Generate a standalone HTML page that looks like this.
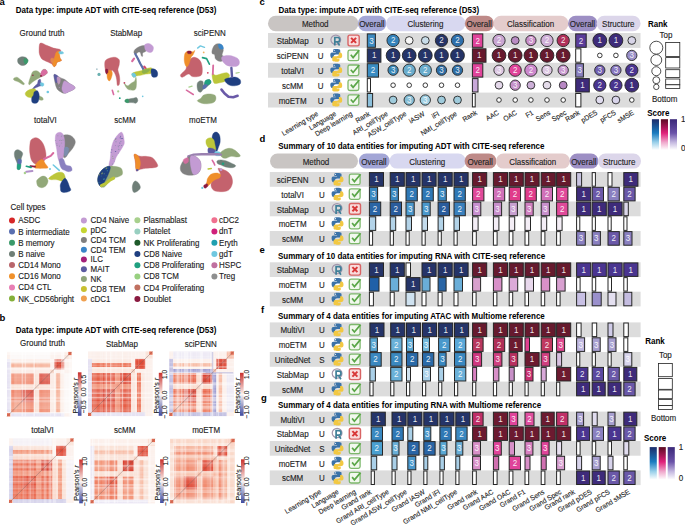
<!DOCTYPE html>
<html><head><meta charset="utf-8"><style>
html,body{margin:0;padding:0;background:#fff;width:685px;height:525px;overflow:hidden}
svg{display:block}
svg text{font-family:"Liberation Sans", sans-serif}
svg text[fill="#1a1a1a"],svg text[fill="#222"]{stroke:#222;stroke-width:0.12px}
</style></head><body>
<svg width="685" height="525" viewBox="0 0 685 525">
<text transform="translate(-0.5,4.8) scale(0.958,1)" font-size="9.92" font-weight="bold" text-anchor="start" fill="#000" >a</text>
<text transform="translate(-0.5,320.9) scale(0.958,1)" font-size="9.92" font-weight="bold" text-anchor="start" fill="#000" >b</text>
<text transform="translate(259.5,4.8) scale(0.958,1)" font-size="9.92" font-weight="bold" text-anchor="start" fill="#000" >c</text>
<text transform="translate(259.5,141.8) scale(0.958,1)" font-size="9.92" font-weight="bold" text-anchor="start" fill="#000" >d</text>
<text transform="translate(259.5,252.5) scale(0.958,1)" font-size="9.92" font-weight="bold" text-anchor="start" fill="#000" >e</text>
<text transform="translate(261.0,313.0) scale(0.958,1)" font-size="9.92" font-weight="bold" text-anchor="start" fill="#000" >f</text>
<text transform="translate(261.0,400.5) scale(0.958,1)" font-size="9.92" font-weight="bold" text-anchor="start" fill="#000" >g</text>
<text transform="translate(15.8,12.9) scale(0.958,1)" font-size="8.35" font-weight="bold" text-anchor="start" fill="#000" >Data type: impute ADT with CITE-seq reference (D53)</text>
<text transform="translate(15.8,333.3) scale(0.958,1)" font-size="8.35" font-weight="bold" text-anchor="start" fill="#000" >Data type: impute ADT with CITE-seq reference (D53)</text>
<text transform="translate(278.5,12.8) scale(0.958,1)" font-size="8.35" font-weight="bold" text-anchor="start" fill="#000" >Data type: impute ADT with CITE-seq reference (D53)</text>
<text transform="translate(278.3,149.0) scale(0.958,1)" font-size="8.35" font-weight="bold" text-anchor="start" fill="#000" >Summary of 10 data entities for imputing ADT with CITE-seq reference</text>
<text transform="translate(278.0,258.7) scale(0.958,1)" font-size="8.35" font-weight="bold" text-anchor="start" fill="#000" >Summary of 10 data entities for imputing RNA with CITE-seq reference</text>
<text transform="translate(278.0,319.2) scale(0.958,1)" font-size="8.35" font-weight="bold" text-anchor="start" fill="#000" >Summary of 4 data entities for imputing ATAC with Multiome reference</text>
<text transform="translate(278.0,407.6) scale(0.958,1)" font-size="8.35" font-weight="bold" text-anchor="start" fill="#000" >Summary of 4 data entities for imputing RNA with Multiome reference</text>
<rect x="268.0" y="33.0" width="372.5" height="14.9" fill="#dcdcdc"/>
<rect x="268.0" y="62.8" width="372.5" height="14.9" fill="#dcdcdc"/>
<rect x="268.0" y="92.6" width="372.5" height="14.9" fill="#dcdcdc"/>
<rect x="268.0" y="15.8" width="90.5" height="15.4" rx="7.7" fill="#c9c5c3"/>
<text transform="translate(315.2,27.0) scale(0.958,1)" font-size="8.35" font-weight="normal" text-anchor="middle" fill="#222" >Method</text>
<rect x="357.8" y="15.8" width="28.7" height="15.4" rx="7.7" fill="#a3a6d6"/>
<text transform="translate(371.8,27.0) scale(0.958,1)" font-size="8.35" font-weight="normal" text-anchor="middle" fill="#222" >Overall</text>
<rect x="386.0" y="15.8" width="79.5" height="15.4" rx="7.7" fill="#d8d8f0"/>
<text transform="translate(425.4,27.0) scale(0.958,1)" font-size="8.35" font-weight="normal" text-anchor="middle" fill="#222" >Clustering</text>
<rect x="464.8" y="15.8" width="29.2" height="15.4" rx="7.7" fill="#be8a88"/>
<text transform="translate(479.1,27.0) scale(0.958,1)" font-size="8.35" font-weight="normal" text-anchor="middle" fill="#222" >Overall</text>
<rect x="493.3" y="15.8" width="75.2" height="15.4" rx="7.7" fill="#e4cccc"/>
<text transform="translate(530.6,27.0) scale(0.958,1)" font-size="8.35" font-weight="normal" text-anchor="middle" fill="#222" >Classification</text>
<rect x="568.0" y="15.8" width="29.5" height="15.4" rx="7.7" fill="#9d8fc4"/>
<text transform="translate(582.5,27.0) scale(0.958,1)" font-size="8.35" font-weight="normal" text-anchor="middle" fill="#222" >Overall</text>
<rect x="596.6" y="15.8" width="44.0" height="15.4" rx="7.7" fill="#dcd6ea"/>
<text transform="translate(618.3,27.0) scale(0.958,1)" font-size="8.35" font-weight="normal" text-anchor="middle" fill="#222" >Structure</text>
<text transform="translate(292.6,44.1) scale(0.958,1)" font-size="8.35" font-weight="normal" text-anchor="middle" fill="#222" >StabMap</text>
<text transform="translate(320.6,44.1) scale(0.958,1)" font-size="8.35" font-weight="normal" text-anchor="middle" fill="#222" >U</text>
<ellipse cx="335.8" cy="39.8" rx="4.9" ry="4.6" fill="none" stroke="#a396ac" stroke-width="1.2"/>
<path d="M334.8 45.5 V37.5 H337.6 C340.4 37.5 340.4 41.9 337.6 41.9 H334.8 M337.4 41.9 L339.6 45.5" fill="none" stroke="#3f7f98" stroke-width="1.7"/>
<rect x="348.0" y="35.1" width="11.2" height="10.8" rx="1.8" fill="#f9dcdc" stroke="#d86464" stroke-width="1.4"/>
<path d="M351.1 37.9 L356.1 42.9 M356.1 37.9 L351.1 42.9" stroke="#d83838" stroke-width="2.0"/>
<text transform="translate(292.6,59.0) scale(0.958,1)" font-size="8.35" font-weight="normal" text-anchor="middle" fill="#222" >sciPENN</text>
<text transform="translate(320.6,59.0) scale(0.958,1)" font-size="8.35" font-weight="normal" text-anchor="middle" fill="#222" >U</text>
<g transform="translate(336.2,55.4) scale(1.12) translate(-5.2,-6)"><path d="M4.6 0.3 C2.2 0.3 2.4 1.4 2.4 1.4 L2.4 3 L4.8 3 L4.8 3.5 L1.5 3.5 C0 3.5 -0.2 5 0 6.5 C0.2 8 0.9 8.6 1.8 8.6 L2.9 8.6 L2.9 7 C2.9 5.9 3.8 5.2 4.8 5.2 L7.3 5.2 C8.2 5.2 8.8 4.5 8.8 3.6 L8.8 1.6 C8.8 0.8 8 0.3 4.6 0.3 Z" fill="#3b72a8"/><circle cx="3.4" cy="1.6" r="0.5" fill="#fff"/><path d="M5.9 11.7 C8.3 11.7 8.1 10.6 8.1 10.6 L8.1 9 L5.7 9 L5.7 8.5 L9 8.5 C10.5 8.5 10.7 7 10.5 5.5 C10.3 4 9.6 3.4 8.7 3.4 L7.6 3.4 L7.6 5 C7.6 6.1 6.7 6.8 5.7 6.8 L3.2 6.8 C2.3 6.8 1.7 7.5 1.7 8.4 L1.7 10.4 C1.7 11.2 2.5 11.7 5.9 11.7 Z" fill="#f2c842"/></g>
<rect x="348.0" y="50.1" width="10.8" height="10.6" rx="1.8" fill="#f2f8ee" stroke="#7db86c" stroke-width="1.3"/>
<path d="M350.8 54.8 L353.1 57.6 L359.3 50.1" fill="none" stroke="#5aa648" stroke-width="1.7"/>
<text transform="translate(292.6,73.8) scale(0.958,1)" font-size="8.35" font-weight="normal" text-anchor="middle" fill="#222" >totalVI</text>
<text transform="translate(320.6,73.8) scale(0.958,1)" font-size="8.35" font-weight="normal" text-anchor="middle" fill="#222" >U</text>
<g transform="translate(336.2,70.2) scale(1.12) translate(-5.2,-6)"><path d="M4.6 0.3 C2.2 0.3 2.4 1.4 2.4 1.4 L2.4 3 L4.8 3 L4.8 3.5 L1.5 3.5 C0 3.5 -0.2 5 0 6.5 C0.2 8 0.9 8.6 1.8 8.6 L2.9 8.6 L2.9 7 C2.9 5.9 3.8 5.2 4.8 5.2 L7.3 5.2 C8.2 5.2 8.8 4.5 8.8 3.6 L8.8 1.6 C8.8 0.8 8 0.3 4.6 0.3 Z" fill="#3b72a8"/><circle cx="3.4" cy="1.6" r="0.5" fill="#fff"/><path d="M5.9 11.7 C8.3 11.7 8.1 10.6 8.1 10.6 L8.1 9 L5.7 9 L5.7 8.5 L9 8.5 C10.5 8.5 10.7 7 10.5 5.5 C10.3 4 9.6 3.4 8.7 3.4 L7.6 3.4 L7.6 5 C7.6 6.1 6.7 6.8 5.7 6.8 L3.2 6.8 C2.3 6.8 1.7 7.5 1.7 8.4 L1.7 10.4 C1.7 11.2 2.5 11.7 5.9 11.7 Z" fill="#f2c842"/></g>
<rect x="348.0" y="65.0" width="10.8" height="10.6" rx="1.8" fill="#f2f8ee" stroke="#7db86c" stroke-width="1.3"/>
<path d="M350.8 69.7 L353.1 72.5 L359.3 65.0" fill="none" stroke="#5aa648" stroke-width="1.7"/>
<text transform="translate(292.6,88.8) scale(0.958,1)" font-size="8.35" font-weight="normal" text-anchor="middle" fill="#222" >scMM</text>
<text transform="translate(320.6,88.8) scale(0.958,1)" font-size="8.35" font-weight="normal" text-anchor="middle" fill="#222" >U</text>
<g transform="translate(336.2,85.2) scale(1.12) translate(-5.2,-6)"><path d="M4.6 0.3 C2.2 0.3 2.4 1.4 2.4 1.4 L2.4 3 L4.8 3 L4.8 3.5 L1.5 3.5 C0 3.5 -0.2 5 0 6.5 C0.2 8 0.9 8.6 1.8 8.6 L2.9 8.6 L2.9 7 C2.9 5.9 3.8 5.2 4.8 5.2 L7.3 5.2 C8.2 5.2 8.8 4.5 8.8 3.6 L8.8 1.6 C8.8 0.8 8 0.3 4.6 0.3 Z" fill="#3b72a8"/><circle cx="3.4" cy="1.6" r="0.5" fill="#fff"/><path d="M5.9 11.7 C8.3 11.7 8.1 10.6 8.1 10.6 L8.1 9 L5.7 9 L5.7 8.5 L9 8.5 C10.5 8.5 10.7 7 10.5 5.5 C10.3 4 9.6 3.4 8.7 3.4 L7.6 3.4 L7.6 5 C7.6 6.1 6.7 6.8 5.7 6.8 L3.2 6.8 C2.3 6.8 1.7 7.5 1.7 8.4 L1.7 10.4 C1.7 11.2 2.5 11.7 5.9 11.7 Z" fill="#f2c842"/></g>
<rect x="348.0" y="79.9" width="10.8" height="10.6" rx="1.8" fill="#f2f8ee" stroke="#7db86c" stroke-width="1.3"/>
<path d="M350.8 84.6 L353.1 87.4 L359.3 80.0" fill="none" stroke="#5aa648" stroke-width="1.7"/>
<text transform="translate(292.6,103.6) scale(0.958,1)" font-size="8.35" font-weight="normal" text-anchor="middle" fill="#222" >moETM</text>
<text transform="translate(320.6,103.6) scale(0.958,1)" font-size="8.35" font-weight="normal" text-anchor="middle" fill="#222" >U</text>
<g transform="translate(336.2,100.0) scale(1.12) translate(-5.2,-6)"><path d="M4.6 0.3 C2.2 0.3 2.4 1.4 2.4 1.4 L2.4 3 L4.8 3 L4.8 3.5 L1.5 3.5 C0 3.5 -0.2 5 0 6.5 C0.2 8 0.9 8.6 1.8 8.6 L2.9 8.6 L2.9 7 C2.9 5.9 3.8 5.2 4.8 5.2 L7.3 5.2 C8.2 5.2 8.8 4.5 8.8 3.6 L8.8 1.6 C8.8 0.8 8 0.3 4.6 0.3 Z" fill="#3b72a8"/><circle cx="3.4" cy="1.6" r="0.5" fill="#fff"/><path d="M5.9 11.7 C8.3 11.7 8.1 10.6 8.1 10.6 L8.1 9 L5.7 9 L5.7 8.5 L9 8.5 C10.5 8.5 10.7 7 10.5 5.5 C10.3 4 9.6 3.4 8.7 3.4 L7.6 3.4 L7.6 5 C7.6 6.1 6.7 6.8 5.7 6.8 L3.2 6.8 C2.3 6.8 1.7 7.5 1.7 8.4 L1.7 10.4 C1.7 11.2 2.5 11.7 5.9 11.7 Z" fill="#f2c842"/></g>
<rect x="348.0" y="94.8" width="10.8" height="10.6" rx="1.8" fill="#f2f8ee" stroke="#7db86c" stroke-width="1.3"/>
<path d="M350.8 99.5 L353.1 102.2 L359.3 94.8" fill="none" stroke="#5aa648" stroke-width="1.7"/>
<rect x="367.3" y="33.9" width="8.1" height="13.4" fill="#3d8ac0" stroke="#262626" stroke-width="1.0"/>
<text transform="translate(371.4,43.5) scale(0.958,1)" font-size="8.35" font-weight="normal" text-anchor="middle" fill="#fff" fill-opacity="0.9">3</text>
<rect x="367.3" y="48.8" width="13.6" height="13.4" fill="#253468" stroke="#262626" stroke-width="1.0"/>
<text transform="translate(374.1,58.4) scale(0.958,1)" font-size="8.35" font-weight="normal" text-anchor="middle" fill="#fff" fill-opacity="0.9">1</text>
<rect x="367.3" y="63.7" width="11.2" height="13.4" fill="#3a8cc2" stroke="#262626" stroke-width="1.0"/>
<text transform="translate(372.9,73.3) scale(0.958,1)" font-size="8.35" font-weight="normal" text-anchor="middle" fill="#fff" fill-opacity="0.9">2</text>
<rect x="367.3" y="78.6" width="3.2" height="13.4" fill="#fff" stroke="#262626" stroke-width="1.0"/>
<rect x="367.3" y="93.5" width="5.3" height="13.4" fill="#8cc0dc" stroke="#262626" stroke-width="1.0"/>
<rect x="472.4" y="33.9" width="10.4" height="13.4" fill="#e0449a" stroke="#262626" stroke-width="1.0"/>
<text transform="translate(477.6,43.5) scale(0.958,1)" font-size="8.35" font-weight="normal" text-anchor="middle" fill="#fff" fill-opacity="0.9">2</text>
<rect x="472.4" y="48.8" width="13.6" height="13.4" fill="#661a2e" stroke="#262626" stroke-width="1.0"/>
<text transform="translate(479.2,58.4) scale(0.958,1)" font-size="8.35" font-weight="normal" text-anchor="middle" fill="#fff" fill-opacity="0.9">1</text>
<rect x="472.4" y="63.7" width="10.4" height="13.4" fill="#e0449a" stroke="#262626" stroke-width="1.0"/>
<text transform="translate(477.6,73.3) scale(0.958,1)" font-size="8.35" font-weight="normal" text-anchor="middle" fill="#fff" fill-opacity="0.9">2</text>
<rect x="472.4" y="78.6" width="5.6" height="13.4" fill="#c8a8d8" stroke="#262626" stroke-width="1.0"/>
<rect x="472.4" y="93.5" width="2.8" height="13.4" fill="#fff" stroke="#262626" stroke-width="1.0"/>
<rect x="575.7" y="33.9" width="10.5" height="13.4" fill="#5b3d9a" stroke="#262626" stroke-width="1.0"/>
<text transform="translate(581.0,43.5) scale(0.958,1)" font-size="8.35" font-weight="normal" text-anchor="middle" fill="#fff" fill-opacity="0.9">2</text>
<rect x="575.7" y="48.8" width="5.2" height="13.4" fill="#fff" stroke="#262626" stroke-width="1.0"/>
<rect x="575.7" y="63.7" width="7.7" height="13.4" fill="#8a80c0" stroke="#262626" stroke-width="1.0"/>
<text transform="translate(579.6,73.3) scale(0.958,1)" font-size="8.35" font-weight="normal" text-anchor="middle" fill="#fff" fill-opacity="0.9">3</text>
<rect x="575.7" y="78.6" width="13.6" height="13.4" fill="#3e2b7a" stroke="#262626" stroke-width="1.0"/>
<text transform="translate(582.5,88.2) scale(0.958,1)" font-size="8.35" font-weight="normal" text-anchor="middle" fill="#fff" fill-opacity="0.9">1</text>
<rect x="575.7" y="93.5" width="5.2" height="13.4" fill="#fff" stroke="#262626" stroke-width="1.0"/>
<circle cx="393.1" cy="40.5" r="6.15" fill="#3583bb" stroke="#262626" stroke-width="0.9"/>
<text transform="translate(393.1,43.4) scale(0.958,1)" font-size="8.35" font-weight="normal" text-anchor="middle" fill="#fff" fill-opacity="0.9">2</text>
<circle cx="409.2" cy="40.5" r="3.90" fill="#f7f7f7" stroke="#262626" stroke-width="0.9"/>
<circle cx="425.3" cy="40.5" r="3.90" fill="#c9dde9" stroke="#262626" stroke-width="0.9"/>
<circle cx="441.5" cy="40.5" r="6.15" fill="#253468" stroke="#262626" stroke-width="0.9"/>
<text transform="translate(441.5,43.4) scale(0.958,1)" font-size="8.35" font-weight="normal" text-anchor="middle" fill="#fff" fill-opacity="0.9">2</text>
<circle cx="457.5" cy="40.5" r="6.15" fill="#2e6fab" stroke="#262626" stroke-width="0.9"/>
<text transform="translate(457.5,43.4) scale(0.958,1)" font-size="8.35" font-weight="normal" text-anchor="middle" fill="#fff" fill-opacity="0.9">2</text>
<circle cx="393.1" cy="55.4" r="6.90" fill="#253468" stroke="#262626" stroke-width="0.9"/>
<text transform="translate(393.1,58.2) scale(0.958,1)" font-size="8.35" font-weight="normal" text-anchor="middle" fill="#fff" fill-opacity="0.9">1</text>
<circle cx="409.2" cy="55.4" r="6.90" fill="#253468" stroke="#262626" stroke-width="0.9"/>
<text transform="translate(409.2,58.2) scale(0.958,1)" font-size="8.35" font-weight="normal" text-anchor="middle" fill="#fff" fill-opacity="0.9">1</text>
<circle cx="425.3" cy="55.4" r="6.90" fill="#253468" stroke="#262626" stroke-width="0.9"/>
<text transform="translate(425.3,58.2) scale(0.958,1)" font-size="8.35" font-weight="normal" text-anchor="middle" fill="#fff" fill-opacity="0.9">1</text>
<circle cx="441.5" cy="55.4" r="6.90" fill="#253468" stroke="#262626" stroke-width="0.9"/>
<text transform="translate(441.5,58.2) scale(0.958,1)" font-size="8.35" font-weight="normal" text-anchor="middle" fill="#fff" fill-opacity="0.9">1</text>
<circle cx="457.5" cy="55.4" r="6.90" fill="#253468" stroke="#262626" stroke-width="0.9"/>
<text transform="translate(457.5,58.2) scale(0.958,1)" font-size="8.35" font-weight="normal" text-anchor="middle" fill="#fff" fill-opacity="0.9">1</text>
<circle cx="393.1" cy="70.2" r="5.15" fill="#3a88b8" stroke="#262626" stroke-width="0.9"/>
<text transform="translate(393.1,73.2) scale(0.958,1)" font-size="8.35" font-weight="normal" text-anchor="middle" fill="#fff" fill-opacity="0.9">3</text>
<circle cx="409.2" cy="70.2" r="6.15" fill="#6aaccc" stroke="#262626" stroke-width="0.9"/>
<text transform="translate(409.2,73.2) scale(0.958,1)" font-size="8.35" font-weight="normal" text-anchor="middle" fill="#fff" fill-opacity="0.9">2</text>
<circle cx="425.3" cy="70.2" r="6.15" fill="#6aaccc" stroke="#262626" stroke-width="0.9"/>
<text transform="translate(425.3,73.2) scale(0.958,1)" font-size="8.35" font-weight="normal" text-anchor="middle" fill="#fff" fill-opacity="0.9">2</text>
<circle cx="441.5" cy="70.2" r="5.15" fill="#2f6ea5" stroke="#262626" stroke-width="0.9"/>
<text transform="translate(441.5,73.2) scale(0.958,1)" font-size="8.35" font-weight="normal" text-anchor="middle" fill="#fff" fill-opacity="0.9">3</text>
<circle cx="457.5" cy="70.2" r="5.15" fill="#2f6ea5" stroke="#262626" stroke-width="0.9"/>
<text transform="translate(457.5,73.2) scale(0.958,1)" font-size="8.35" font-weight="normal" text-anchor="middle" fill="#fff" fill-opacity="0.9">3</text>
<circle cx="393.1" cy="85.2" r="2.30" fill="#fff" stroke="#262626" stroke-width="0.9"/>
<circle cx="409.2" cy="85.2" r="2.30" fill="#fff" stroke="#262626" stroke-width="0.9"/>
<circle cx="425.3" cy="85.2" r="2.30" fill="#fff" stroke="#262626" stroke-width="0.9"/>
<circle cx="441.5" cy="85.2" r="2.30" fill="#fff" stroke="#262626" stroke-width="0.9"/>
<circle cx="457.5" cy="85.2" r="2.30" fill="#fff" stroke="#262626" stroke-width="0.9"/>
<circle cx="393.1" cy="100.0" r="3.90" fill="#9fcbdc" stroke="#262626" stroke-width="0.9"/>
<circle cx="409.2" cy="100.0" r="5.15" fill="#85bdd5" stroke="#262626" stroke-width="0.9"/>
<text transform="translate(409.2,103.0) scale(0.958,1)" font-size="8.35" font-weight="normal" text-anchor="middle" fill="#fff" fill-opacity="0.9">3</text>
<circle cx="425.3" cy="100.0" r="5.15" fill="#a0d0e4" stroke="#262626" stroke-width="0.9"/>
<text transform="translate(425.3,103.0) scale(0.958,1)" font-size="8.35" font-weight="normal" text-anchor="middle" fill="#fff" fill-opacity="0.9">3</text>
<circle cx="441.5" cy="100.0" r="3.90" fill="#9fcbdc" stroke="#262626" stroke-width="0.9"/>
<circle cx="457.5" cy="100.0" r="3.90" fill="#9fcbdc" stroke="#262626" stroke-width="0.9"/>
<circle cx="499.0" cy="40.5" r="6.15" fill="#c9a6d2" stroke="#262626" stroke-width="0.9"/>
<text transform="translate(499.0,43.4) scale(0.958,1)" font-size="8.35" font-weight="normal" text-anchor="middle" fill="#fff" fill-opacity="0.9">2</text>
<circle cx="515.2" cy="40.5" r="3.90" fill="#b98cc4" stroke="#262626" stroke-width="0.9"/>
<circle cx="530.9" cy="40.5" r="5.15" fill="#c98fc8" stroke="#262626" stroke-width="0.9"/>
<text transform="translate(530.9,43.4) scale(0.958,1)" font-size="8.35" font-weight="normal" text-anchor="middle" fill="#fff" fill-opacity="0.9">3</text>
<circle cx="547.0" cy="40.5" r="6.15" fill="#d0b0d8" stroke="#262626" stroke-width="0.9"/>
<text transform="translate(547.0,43.4) scale(0.958,1)" font-size="8.35" font-weight="normal" text-anchor="middle" fill="#fff" fill-opacity="0.9">2</text>
<circle cx="563.2" cy="40.5" r="6.15" fill="#b0305a" stroke="#262626" stroke-width="0.9"/>
<text transform="translate(563.2,43.4) scale(0.958,1)" font-size="8.35" font-weight="normal" text-anchor="middle" fill="#fff" fill-opacity="0.9">2</text>
<circle cx="499.0" cy="55.4" r="6.90" fill="#661a2e" stroke="#262626" stroke-width="0.9"/>
<text transform="translate(499.0,58.2) scale(0.958,1)" font-size="8.35" font-weight="normal" text-anchor="middle" fill="#fff" fill-opacity="0.9">1</text>
<circle cx="515.2" cy="55.4" r="6.90" fill="#661a2e" stroke="#262626" stroke-width="0.9"/>
<text transform="translate(515.2,58.2) scale(0.958,1)" font-size="8.35" font-weight="normal" text-anchor="middle" fill="#fff" fill-opacity="0.9">1</text>
<circle cx="530.9" cy="55.4" r="6.90" fill="#661a2e" stroke="#262626" stroke-width="0.9"/>
<text transform="translate(530.9,58.2) scale(0.958,1)" font-size="8.35" font-weight="normal" text-anchor="middle" fill="#fff" fill-opacity="0.9">1</text>
<circle cx="547.0" cy="55.4" r="6.90" fill="#661a2e" stroke="#262626" stroke-width="0.9"/>
<text transform="translate(547.0,58.2) scale(0.958,1)" font-size="8.35" font-weight="normal" text-anchor="middle" fill="#fff" fill-opacity="0.9">1</text>
<circle cx="563.2" cy="55.4" r="6.90" fill="#661a2e" stroke="#262626" stroke-width="0.9"/>
<text transform="translate(563.2,58.2) scale(0.958,1)" font-size="8.35" font-weight="normal" text-anchor="middle" fill="#fff" fill-opacity="0.9">1</text>
<circle cx="499.0" cy="70.2" r="5.15" fill="#ddc8e3" stroke="#262626" stroke-width="0.9"/>
<text transform="translate(499.0,73.2) scale(0.958,1)" font-size="8.35" font-weight="normal" text-anchor="middle" fill="#fff" fill-opacity="0.9">3</text>
<circle cx="515.2" cy="70.2" r="6.15" fill="#e0449a" stroke="#262626" stroke-width="0.9"/>
<text transform="translate(515.2,73.2) scale(0.958,1)" font-size="8.35" font-weight="normal" text-anchor="middle" fill="#fff" fill-opacity="0.9">2</text>
<circle cx="530.9" cy="70.2" r="6.15" fill="#cc88cc" stroke="#262626" stroke-width="0.9"/>
<text transform="translate(530.9,73.2) scale(0.958,1)" font-size="8.35" font-weight="normal" text-anchor="middle" fill="#fff" fill-opacity="0.9">2</text>
<circle cx="547.0" cy="70.2" r="5.15" fill="#ddc8e3" stroke="#262626" stroke-width="0.9"/>
<text transform="translate(547.0,73.2) scale(0.958,1)" font-size="8.35" font-weight="normal" text-anchor="middle" fill="#fff" fill-opacity="0.9">3</text>
<circle cx="563.2" cy="70.2" r="5.15" fill="#c99ad0" stroke="#262626" stroke-width="0.9"/>
<text transform="translate(563.2,73.2) scale(0.958,1)" font-size="8.35" font-weight="normal" text-anchor="middle" fill="#fff" fill-opacity="0.9">3</text>
<circle cx="499.0" cy="85.2" r="3.90" fill="#e4d8ea" stroke="#262626" stroke-width="0.9"/>
<circle cx="515.2" cy="85.2" r="5.15" fill="#c490c8" stroke="#262626" stroke-width="0.9"/>
<text transform="translate(515.2,88.1) scale(0.958,1)" font-size="8.35" font-weight="normal" text-anchor="middle" fill="#fff" fill-opacity="0.9">3</text>
<circle cx="530.9" cy="85.2" r="3.90" fill="#cdb0d8" stroke="#262626" stroke-width="0.9"/>
<circle cx="547.0" cy="85.2" r="3.90" fill="#e4dcea" stroke="#262626" stroke-width="0.9"/>
<circle cx="563.2" cy="85.2" r="3.90" fill="#b888c4" stroke="#262626" stroke-width="0.9"/>
<circle cx="499.0" cy="100.0" r="2.30" fill="#fff" stroke="#262626" stroke-width="0.9"/>
<circle cx="515.2" cy="100.0" r="2.30" fill="#fff" stroke="#262626" stroke-width="0.9"/>
<circle cx="530.9" cy="100.0" r="2.30" fill="#fff" stroke="#262626" stroke-width="0.9"/>
<circle cx="547.0" cy="100.0" r="2.30" fill="#fff" stroke="#262626" stroke-width="0.9"/>
<circle cx="563.2" cy="100.0" r="2.30" fill="#fff" stroke="#262626" stroke-width="0.9"/>
<circle cx="599.8" cy="40.5" r="6.90" fill="#3e2b7a" stroke="#262626" stroke-width="0.9"/>
<text transform="translate(599.8,43.4) scale(0.958,1)" font-size="8.35" font-weight="normal" text-anchor="middle" fill="#fff" fill-opacity="0.9">1</text>
<circle cx="615.9" cy="40.5" r="6.90" fill="#3e2b7a" stroke="#262626" stroke-width="0.9"/>
<text transform="translate(615.9,43.4) scale(0.958,1)" font-size="8.35" font-weight="normal" text-anchor="middle" fill="#fff" fill-opacity="0.9">1</text>
<circle cx="631.8" cy="40.5" r="3.90" fill="#d8d5e8" stroke="#262626" stroke-width="0.9"/>
<circle cx="599.8" cy="55.4" r="2.30" fill="#fff" stroke="#262626" stroke-width="0.9"/>
<circle cx="615.9" cy="55.4" r="2.30" fill="#fff" stroke="#262626" stroke-width="0.9"/>
<circle cx="631.8" cy="55.4" r="5.15" fill="#9a90c8" stroke="#262626" stroke-width="0.9"/>
<text transform="translate(631.8,58.2) scale(0.958,1)" font-size="8.35" font-weight="normal" text-anchor="middle" fill="#fff" fill-opacity="0.9">3</text>
<circle cx="599.8" cy="70.2" r="5.15" fill="#7060b0" stroke="#262626" stroke-width="0.9"/>
<text transform="translate(599.8,73.2) scale(0.958,1)" font-size="8.35" font-weight="normal" text-anchor="middle" fill="#fff" fill-opacity="0.9">3</text>
<circle cx="615.9" cy="70.2" r="5.15" fill="#8878c0" stroke="#262626" stroke-width="0.9"/>
<text transform="translate(615.9,73.2) scale(0.958,1)" font-size="8.35" font-weight="normal" text-anchor="middle" fill="#fff" fill-opacity="0.9">3</text>
<circle cx="631.8" cy="70.2" r="6.15" fill="#4a3590" stroke="#262626" stroke-width="0.9"/>
<text transform="translate(631.8,73.2) scale(0.958,1)" font-size="8.35" font-weight="normal" text-anchor="middle" fill="#fff" fill-opacity="0.9">2</text>
<circle cx="599.8" cy="85.2" r="6.15" fill="#4a3590" stroke="#262626" stroke-width="0.9"/>
<text transform="translate(599.8,88.1) scale(0.958,1)" font-size="8.35" font-weight="normal" text-anchor="middle" fill="#fff" fill-opacity="0.9">2</text>
<circle cx="615.9" cy="85.2" r="6.15" fill="#4a3590" stroke="#262626" stroke-width="0.9"/>
<text transform="translate(615.9,88.1) scale(0.958,1)" font-size="8.35" font-weight="normal" text-anchor="middle" fill="#fff" fill-opacity="0.9">2</text>
<circle cx="631.8" cy="85.2" r="6.90" fill="#3e2b7a" stroke="#262626" stroke-width="0.9"/>
<text transform="translate(631.8,88.1) scale(0.958,1)" font-size="8.35" font-weight="normal" text-anchor="middle" fill="#fff" fill-opacity="0.9">1</text>
<circle cx="599.8" cy="100.0" r="3.90" fill="#e0dcef" stroke="#262626" stroke-width="0.9"/>
<circle cx="615.9" cy="100.0" r="3.90" fill="#d8d4ea" stroke="#262626" stroke-width="0.9"/>
<circle cx="631.8" cy="100.0" r="2.30" fill="#fff" stroke="#262626" stroke-width="0.9"/>
<text transform="translate(648.0,26.7) scale(0.958,1)" font-size="8.35" font-weight="bold" text-anchor="start" fill="#000" >Rank</text>
<text transform="translate(659.5,37.7) scale(0.958,1)" font-size="8.35" font-weight="normal" text-anchor="start" fill="#222" >Top</text>
<circle cx="656.3" cy="47.7" r="6.5" fill="#fff" stroke="#222" stroke-width="0.8"/>
<circle cx="656.3" cy="60" r="5.45" fill="#fff" stroke="#222" stroke-width="0.8"/>
<circle cx="656.3" cy="71.2" r="4.5" fill="#fff" stroke="#222" stroke-width="0.8"/>
<circle cx="656.3" cy="80.2" r="3.5" fill="#fff" stroke="#222" stroke-width="0.8"/>
<circle cx="656.3" cy="86.9" r="2.7" fill="#fff" stroke="#222" stroke-width="0.8"/>
<rect x="665.7" y="42.5" width="14.1" height="14.0" fill="#fff" stroke="#222" stroke-width="0.8"/>
<rect x="665.7" y="57.6" width="14.1" height="10.4" fill="#fff" stroke="#222" stroke-width="0.8"/>
<rect x="665.7" y="69.7" width="14.1" height="7.8" fill="#fff" stroke="#222" stroke-width="0.8"/>
<rect x="665.7" y="79" width="14.1" height="5.8" fill="#fff" stroke="#222" stroke-width="0.8"/>
<rect x="665.7" y="84.8" width="14.1" height="3.6" fill="#fff" stroke="#222" stroke-width="0.8"/>
<text transform="translate(652.0,102.2) scale(0.958,1)" font-size="8.35" font-weight="normal" text-anchor="start" fill="#222" >Bottom</text>
<defs><linearGradient id="gB" x1="0" y1="0" x2="0" y2="1"><stop offset="0" stop-color="#1c2c6a"/><stop offset="0.45" stop-color="#1a7cc0"/><stop offset="0.75" stop-color="#9ad0ea"/><stop offset="1" stop-color="#fff"/></linearGradient><linearGradient id="gM" x1="0" y1="0" x2="0" y2="1"><stop offset="0" stop-color="#5a0a22"/><stop offset="0.45" stop-color="#e0207a"/><stop offset="0.75" stop-color="#f0a8cc"/><stop offset="1" stop-color="#fff"/></linearGradient><linearGradient id="gP" x1="0" y1="0" x2="0" y2="1"><stop offset="0" stop-color="#3a2878"/><stop offset="0.45" stop-color="#6a52a8"/><stop offset="0.75" stop-color="#c4b8e0"/><stop offset="1" stop-color="#fff"/></linearGradient><linearGradient id="gR" x1="0" y1="0" x2="0" y2="1"><stop offset="0" stop-color="#c8302c"/><stop offset="0.5" stop-color="#fbf4f2"/><stop offset="1" stop-color="#3f4ba0"/></linearGradient></defs>
<text transform="translate(647.2,115.5) scale(0.958,1)" font-size="8.35" font-weight="bold" text-anchor="start" fill="#000" >Score</text>
<rect x="651.9" y="119.2" width="7.1" height="30.8" fill="url(#gB)"/>
<rect x="660.9" y="119.2" width="7.1" height="30.8" fill="url(#gM)"/>
<rect x="669.9" y="119.2" width="7.1" height="30.8" fill="url(#gP)"/>
<text transform="translate(681.0,121.8) scale(0.958,1)" font-size="8.35" font-weight="normal" text-anchor="start" fill="#222" >1</text>
<text transform="translate(681.0,151.2) scale(0.958,1)" font-size="8.35" font-weight="normal" text-anchor="start" fill="#222" >0</text>
<text transform="translate(318.8,115.2) rotate(-30.5) scale(0.958,1)" font-size="7.05" text-anchor="end" fill="#222">Learning type</text>
<text transform="translate(336.7,115.2) rotate(-30.5) scale(0.958,1)" font-size="7.05" text-anchor="end" fill="#222">Language</text>
<text transform="translate(352.9,115.2) rotate(-30.5) scale(0.958,1)" font-size="7.05" text-anchor="end" fill="#222">Deep learning</text>
<text transform="translate(370.7,115.2) rotate(-30.5) scale(0.958,1)" font-size="7.05" text-anchor="end" fill="#222">Rank</text>
<text transform="translate(388.5,115.2) rotate(-30.5) scale(0.958,1)" font-size="7.05" text-anchor="end" fill="#222">ARI_cellType</text>
<text transform="translate(407.0,115.2) rotate(-30.5) scale(0.958,1)" font-size="7.05" text-anchor="end" fill="#222">ASW_cellType</text>
<text transform="translate(425.3,115.2) rotate(-30.5) scale(0.958,1)" font-size="7.05" text-anchor="end" fill="#222">iASW</text>
<text transform="translate(439.9,115.2) rotate(-30.5) scale(0.958,1)" font-size="7.05" text-anchor="end" fill="#222">iFI</text>
<text transform="translate(457.6,115.2) rotate(-30.5) scale(0.958,1)" font-size="7.05" text-anchor="end" fill="#222">NMI_cellType</text>
<text transform="translate(477.7,114.0) rotate(-30.5) scale(0.958,1)" font-size="7.05" text-anchor="end" fill="#222">Rank</text>
<text transform="translate(499.5,114.0) rotate(-30.5) scale(0.958,1)" font-size="7.05" text-anchor="end" fill="#222">AAC</text>
<text transform="translate(517.5,114.0) rotate(-30.5) scale(0.958,1)" font-size="7.05" text-anchor="end" fill="#222">OAC</text>
<text transform="translate(534.0,114.0) rotate(-30.5) scale(0.958,1)" font-size="7.05" text-anchor="end" fill="#222">F1</text>
<text transform="translate(550.8,114.0) rotate(-30.5) scale(0.958,1)" font-size="7.05" text-anchor="end" fill="#222">Sens</text>
<text transform="translate(566.8,114.0) rotate(-30.5) scale(0.958,1)" font-size="7.05" text-anchor="end" fill="#222">Spec</text>
<text transform="translate(580.5,114.0) rotate(-30.5) scale(0.958,1)" font-size="7.05" text-anchor="end" fill="#222">Rank</text>
<text transform="translate(598.0,114.0) rotate(-30.5) scale(0.958,1)" font-size="7.05" text-anchor="end" fill="#222">pDES</text>
<text transform="translate(616.5,114.0) rotate(-30.5) scale(0.958,1)" font-size="7.05" text-anchor="end" fill="#222">pFCS</text>
<text transform="translate(634.5,114.0) rotate(-30.5) scale(0.958,1)" font-size="7.05" text-anchor="end" fill="#222">sMSE</text>
<rect x="270.0" y="153.6" width="88.0" height="15.0" rx="7.5" fill="#c9c5c3"/>
<text transform="translate(316.0,164.6) scale(0.958,1)" font-size="8.35" font-weight="normal" text-anchor="middle" fill="#222" >Method</text>
<rect x="358.8" y="153.6" width="31.0" height="15.0" rx="7.5" fill="#a3a6d6"/>
<text transform="translate(374.0,164.6) scale(0.958,1)" font-size="8.35" font-weight="normal" text-anchor="middle" fill="#222" >Overall</text>
<rect x="389.5" y="153.6" width="76.3" height="15.0" rx="7.5" fill="#d8d8f0"/>
<text transform="translate(427.3,164.6) scale(0.958,1)" font-size="8.35" font-weight="normal" text-anchor="middle" fill="#222" >Clustering</text>
<rect x="464.6" y="153.6" width="31.9" height="15.0" rx="7.5" fill="#be8a88"/>
<text transform="translate(480.2,164.6) scale(0.958,1)" font-size="8.35" font-weight="normal" text-anchor="middle" fill="#222" >Overall</text>
<rect x="496.0" y="153.6" width="74.0" height="15.0" rx="7.5" fill="#e4cccc"/>
<text transform="translate(532.7,164.6) scale(0.958,1)" font-size="8.35" font-weight="normal" text-anchor="middle" fill="#222" >Classification</text>
<rect x="569.6" y="153.6" width="28.9" height="15.0" rx="7.5" fill="#9d8fc4"/>
<text transform="translate(583.8,164.6) scale(0.958,1)" font-size="8.35" font-weight="normal" text-anchor="middle" fill="#222" >Overall</text>
<rect x="598.0" y="153.6" width="43.0" height="15.0" rx="7.5" fill="#dcd6ea"/>
<text transform="translate(619.2,164.6) scale(0.958,1)" font-size="8.35" font-weight="normal" text-anchor="middle" fill="#222" >Structure</text>
<rect x="269.8" y="172.0" width="370.8" height="14.8" fill="#dcdcdc"/>
<rect x="269.8" y="201.5" width="370.8" height="14.8" fill="#dcdcdc"/>
<rect x="269.8" y="231.0" width="370.8" height="14.8" fill="#dcdcdc"/>
<text transform="translate(292.6,183.0) scale(0.958,1)" font-size="8.35" font-weight="normal" text-anchor="middle" fill="#222" >sciPENN</text>
<text transform="translate(321.9,183.0) scale(0.958,1)" font-size="8.35" font-weight="normal" text-anchor="middle" fill="#222" >U</text>
<g transform="translate(337.5,179.4) scale(1.12) translate(-5.2,-6)"><path d="M4.6 0.3 C2.2 0.3 2.4 1.4 2.4 1.4 L2.4 3 L4.8 3 L4.8 3.5 L1.5 3.5 C0 3.5 -0.2 5 0 6.5 C0.2 8 0.9 8.6 1.8 8.6 L2.9 8.6 L2.9 7 C2.9 5.9 3.8 5.2 4.8 5.2 L7.3 5.2 C8.2 5.2 8.8 4.5 8.8 3.6 L8.8 1.6 C8.8 0.8 8 0.3 4.6 0.3 Z" fill="#3b72a8"/><circle cx="3.4" cy="1.6" r="0.5" fill="#fff"/><path d="M5.9 11.7 C8.3 11.7 8.1 10.6 8.1 10.6 L8.1 9 L5.7 9 L5.7 8.5 L9 8.5 C10.5 8.5 10.7 7 10.5 5.5 C10.3 4 9.6 3.4 8.7 3.4 L7.6 3.4 L7.6 5 C7.6 6.1 6.7 6.8 5.7 6.8 L3.2 6.8 C2.3 6.8 1.7 7.5 1.7 8.4 L1.7 10.4 C1.7 11.2 2.5 11.7 5.9 11.7 Z" fill="#f2c842"/></g>
<rect x="349.3" y="174.1" width="10.8" height="10.6" rx="1.8" fill="#f2f8ee" stroke="#7db86c" stroke-width="1.3"/>
<path d="M352.1 178.8 L354.4 181.6 L360.6 174.2" fill="none" stroke="#5aa648" stroke-width="1.7"/>
<text transform="translate(292.6,197.7) scale(0.958,1)" font-size="8.35" font-weight="normal" text-anchor="middle" fill="#222" >totalVI</text>
<text transform="translate(321.9,197.7) scale(0.958,1)" font-size="8.35" font-weight="normal" text-anchor="middle" fill="#222" >U</text>
<g transform="translate(337.5,194.1) scale(1.12) translate(-5.2,-6)"><path d="M4.6 0.3 C2.2 0.3 2.4 1.4 2.4 1.4 L2.4 3 L4.8 3 L4.8 3.5 L1.5 3.5 C0 3.5 -0.2 5 0 6.5 C0.2 8 0.9 8.6 1.8 8.6 L2.9 8.6 L2.9 7 C2.9 5.9 3.8 5.2 4.8 5.2 L7.3 5.2 C8.2 5.2 8.8 4.5 8.8 3.6 L8.8 1.6 C8.8 0.8 8 0.3 4.6 0.3 Z" fill="#3b72a8"/><circle cx="3.4" cy="1.6" r="0.5" fill="#fff"/><path d="M5.9 11.7 C8.3 11.7 8.1 10.6 8.1 10.6 L8.1 9 L5.7 9 L5.7 8.5 L9 8.5 C10.5 8.5 10.7 7 10.5 5.5 C10.3 4 9.6 3.4 8.7 3.4 L7.6 3.4 L7.6 5 C7.6 6.1 6.7 6.8 5.7 6.8 L3.2 6.8 C2.3 6.8 1.7 7.5 1.7 8.4 L1.7 10.4 C1.7 11.2 2.5 11.7 5.9 11.7 Z" fill="#f2c842"/></g>
<rect x="349.3" y="188.8" width="10.8" height="10.6" rx="1.8" fill="#f2f8ee" stroke="#7db86c" stroke-width="1.3"/>
<path d="M352.1 193.5 L354.4 196.3 L360.6 188.9" fill="none" stroke="#5aa648" stroke-width="1.7"/>
<text transform="translate(292.6,212.5) scale(0.958,1)" font-size="8.35" font-weight="normal" text-anchor="middle" fill="#222" >StabMap</text>
<text transform="translate(321.9,212.5) scale(0.958,1)" font-size="8.35" font-weight="normal" text-anchor="middle" fill="#222" >U</text>
<ellipse cx="337.1" cy="208.2" rx="4.9" ry="4.6" fill="none" stroke="#a396ac" stroke-width="1.2"/>
<path d="M336.1 213.9 V205.9 H338.9 C341.7 205.9 341.7 210.3 338.9 210.3 H336.1 M338.7 210.3 L340.9 213.9" fill="none" stroke="#3f7f98" stroke-width="1.7"/>
<rect x="349.3" y="203.5" width="11.2" height="10.8" rx="1.8" fill="#f9dcdc" stroke="#d86464" stroke-width="1.4"/>
<path d="M352.4 206.3 L357.4 211.3 M357.4 206.3 L352.4 211.3" stroke="#d83838" stroke-width="2.0"/>
<text transform="translate(292.6,227.2) scale(0.958,1)" font-size="8.35" font-weight="normal" text-anchor="middle" fill="#222" >moETM</text>
<text transform="translate(321.9,227.2) scale(0.958,1)" font-size="8.35" font-weight="normal" text-anchor="middle" fill="#222" >U</text>
<g transform="translate(337.5,223.6) scale(1.12) translate(-5.2,-6)"><path d="M4.6 0.3 C2.2 0.3 2.4 1.4 2.4 1.4 L2.4 3 L4.8 3 L4.8 3.5 L1.5 3.5 C0 3.5 -0.2 5 0 6.5 C0.2 8 0.9 8.6 1.8 8.6 L2.9 8.6 L2.9 7 C2.9 5.9 3.8 5.2 4.8 5.2 L7.3 5.2 C8.2 5.2 8.8 4.5 8.8 3.6 L8.8 1.6 C8.8 0.8 8 0.3 4.6 0.3 Z" fill="#3b72a8"/><circle cx="3.4" cy="1.6" r="0.5" fill="#fff"/><path d="M5.9 11.7 C8.3 11.7 8.1 10.6 8.1 10.6 L8.1 9 L5.7 9 L5.7 8.5 L9 8.5 C10.5 8.5 10.7 7 10.5 5.5 C10.3 4 9.6 3.4 8.7 3.4 L7.6 3.4 L7.6 5 C7.6 6.1 6.7 6.8 5.7 6.8 L3.2 6.8 C2.3 6.8 1.7 7.5 1.7 8.4 L1.7 10.4 C1.7 11.2 2.5 11.7 5.9 11.7 Z" fill="#f2c842"/></g>
<rect x="349.3" y="218.3" width="10.8" height="10.6" rx="1.8" fill="#f2f8ee" stroke="#7db86c" stroke-width="1.3"/>
<path d="M352.1 223.0 L354.4 225.8 L360.6 218.4" fill="none" stroke="#5aa648" stroke-width="1.7"/>
<text transform="translate(292.6,242.0) scale(0.958,1)" font-size="8.35" font-weight="normal" text-anchor="middle" fill="#222" >scMM</text>
<text transform="translate(321.9,242.0) scale(0.958,1)" font-size="8.35" font-weight="normal" text-anchor="middle" fill="#222" >U</text>
<g transform="translate(337.5,238.4) scale(1.12) translate(-5.2,-6)"><path d="M4.6 0.3 C2.2 0.3 2.4 1.4 2.4 1.4 L2.4 3 L4.8 3 L4.8 3.5 L1.5 3.5 C0 3.5 -0.2 5 0 6.5 C0.2 8 0.9 8.6 1.8 8.6 L2.9 8.6 L2.9 7 C2.9 5.9 3.8 5.2 4.8 5.2 L7.3 5.2 C8.2 5.2 8.8 4.5 8.8 3.6 L8.8 1.6 C8.8 0.8 8 0.3 4.6 0.3 Z" fill="#3b72a8"/><circle cx="3.4" cy="1.6" r="0.5" fill="#fff"/><path d="M5.9 11.7 C8.3 11.7 8.1 10.6 8.1 10.6 L8.1 9 L5.7 9 L5.7 8.5 L9 8.5 C10.5 8.5 10.7 7 10.5 5.5 C10.3 4 9.6 3.4 8.7 3.4 L7.6 3.4 L7.6 5 C7.6 6.1 6.7 6.8 5.7 6.8 L3.2 6.8 C2.3 6.8 1.7 7.5 1.7 8.4 L1.7 10.4 C1.7 11.2 2.5 11.7 5.9 11.7 Z" fill="#f2c842"/></g>
<rect x="349.3" y="233.1" width="10.8" height="10.6" rx="1.8" fill="#f2f8ee" stroke="#7db86c" stroke-width="1.3"/>
<path d="M352.1 237.8 L354.4 240.6 L360.6 233.2" fill="none" stroke="#5aa648" stroke-width="1.7"/>
<rect x="369.4" y="172.6" width="14.1" height="13.6" fill="#253468" stroke="#262626" stroke-width="1.0"/>
<text transform="translate(376.4,182.3) scale(0.958,1)" font-size="8.35" font-weight="normal" text-anchor="middle" fill="#fff" fill-opacity="0.9">1</text>
<rect x="390.2" y="172.6" width="14.1" height="13.6" fill="#253468" stroke="#262626" stroke-width="1.0"/>
<text transform="translate(397.2,182.3) scale(0.958,1)" font-size="8.35" font-weight="normal" text-anchor="middle" fill="#fff" fill-opacity="0.9">1</text>
<rect x="406.0" y="172.6" width="14.1" height="13.6" fill="#253468" stroke="#262626" stroke-width="1.0"/>
<text transform="translate(413.1,182.3) scale(0.958,1)" font-size="8.35" font-weight="normal" text-anchor="middle" fill="#fff" fill-opacity="0.9">1</text>
<rect x="422.0" y="172.6" width="14.1" height="13.6" fill="#253468" stroke="#262626" stroke-width="1.0"/>
<text transform="translate(429.1,182.3) scale(0.958,1)" font-size="8.35" font-weight="normal" text-anchor="middle" fill="#fff" fill-opacity="0.9">1</text>
<rect x="438.1" y="172.6" width="14.1" height="13.6" fill="#253468" stroke="#262626" stroke-width="1.0"/>
<text transform="translate(445.2,182.3) scale(0.958,1)" font-size="8.35" font-weight="normal" text-anchor="middle" fill="#fff" fill-opacity="0.9">1</text>
<rect x="454.0" y="172.6" width="14.1" height="13.6" fill="#253468" stroke="#262626" stroke-width="1.0"/>
<text transform="translate(461.1,182.3) scale(0.958,1)" font-size="8.35" font-weight="normal" text-anchor="middle" fill="#fff" fill-opacity="0.9">1</text>
<rect x="369.4" y="187.3" width="8.2" height="13.6" fill="#3a88c0" stroke="#262626" stroke-width="1.0"/>
<text transform="translate(373.5,197.0) scale(0.958,1)" font-size="8.35" font-weight="normal" text-anchor="middle" fill="#fff" fill-opacity="0.9">3</text>
<rect x="390.2" y="187.3" width="8.2" height="13.6" fill="#3a88c0" stroke="#262626" stroke-width="1.0"/>
<text transform="translate(394.3,197.0) scale(0.958,1)" font-size="8.35" font-weight="normal" text-anchor="middle" fill="#fff" fill-opacity="0.9">3</text>
<rect x="406.0" y="187.3" width="11.3" height="13.6" fill="#2f78b5" stroke="#262626" stroke-width="1.0"/>
<text transform="translate(411.6,197.0) scale(0.958,1)" font-size="8.35" font-weight="normal" text-anchor="middle" fill="#fff" fill-opacity="0.9">2</text>
<rect x="422.0" y="187.3" width="11.3" height="13.6" fill="#2f78b5" stroke="#262626" stroke-width="1.0"/>
<text transform="translate(427.6,197.0) scale(0.958,1)" font-size="8.35" font-weight="normal" text-anchor="middle" fill="#fff" fill-opacity="0.9">2</text>
<rect x="438.1" y="187.3" width="8.2" height="13.6" fill="#3a88c0" stroke="#262626" stroke-width="1.0"/>
<text transform="translate(442.2,197.0) scale(0.958,1)" font-size="8.35" font-weight="normal" text-anchor="middle" fill="#fff" fill-opacity="0.9">3</text>
<rect x="454.0" y="187.3" width="11.3" height="13.6" fill="#2f78b5" stroke="#262626" stroke-width="1.0"/>
<text transform="translate(459.6,197.0) scale(0.958,1)" font-size="8.35" font-weight="normal" text-anchor="middle" fill="#fff" fill-opacity="0.9">2</text>
<rect x="369.4" y="202.1" width="11.3" height="13.6" fill="#2a65a5" stroke="#262626" stroke-width="1.0"/>
<text transform="translate(375.0,211.8) scale(0.958,1)" font-size="8.35" font-weight="normal" text-anchor="middle" fill="#fff" fill-opacity="0.9">2</text>
<rect x="390.2" y="202.1" width="11.3" height="13.6" fill="#2a5c9c" stroke="#262626" stroke-width="1.0"/>
<text transform="translate(395.8,211.8) scale(0.958,1)" font-size="8.35" font-weight="normal" text-anchor="middle" fill="#fff" fill-opacity="0.9">2</text>
<rect x="406.0" y="202.1" width="8.2" height="13.6" fill="#4a98cc" stroke="#262626" stroke-width="1.0"/>
<text transform="translate(410.1,211.8) scale(0.958,1)" font-size="8.35" font-weight="normal" text-anchor="middle" fill="#fff" fill-opacity="0.9">3</text>
<rect x="422.0" y="202.1" width="8.2" height="13.6" fill="#4a98cc" stroke="#262626" stroke-width="1.0"/>
<text transform="translate(426.1,211.8) scale(0.958,1)" font-size="8.35" font-weight="normal" text-anchor="middle" fill="#fff" fill-opacity="0.9">3</text>
<rect x="438.1" y="202.1" width="11.3" height="13.6" fill="#2a5c9c" stroke="#262626" stroke-width="1.0"/>
<text transform="translate(443.8,211.8) scale(0.958,1)" font-size="8.35" font-weight="normal" text-anchor="middle" fill="#fff" fill-opacity="0.9">2</text>
<rect x="454.0" y="202.1" width="11.3" height="13.6" fill="#3a80bd" stroke="#262626" stroke-width="1.0"/>
<text transform="translate(459.6,211.8) scale(0.958,1)" font-size="8.35" font-weight="normal" text-anchor="middle" fill="#fff" fill-opacity="0.9">2</text>
<rect x="369.4" y="216.8" width="6.3" height="13.6" fill="#b3d3e8" stroke="#262626" stroke-width="1.0"/>
<rect x="390.2" y="216.8" width="5.5" height="13.6" fill="#b3d3e8" stroke="#262626" stroke-width="1.0"/>
<rect x="406.0" y="216.8" width="5.5" height="13.6" fill="#b3d3e8" stroke="#262626" stroke-width="1.0"/>
<rect x="422.0" y="216.8" width="5.5" height="13.6" fill="#c4dced" stroke="#262626" stroke-width="1.0"/>
<rect x="438.1" y="216.8" width="5.5" height="13.6" fill="#b3d3e8" stroke="#262626" stroke-width="1.0"/>
<rect x="454.0" y="216.8" width="5.5" height="13.6" fill="#b3d3e8" stroke="#262626" stroke-width="1.0"/>
<rect x="369.4" y="231.6" width="3.2" height="13.6" fill="#fff" stroke="#262626" stroke-width="1.0"/>
<rect x="390.2" y="231.6" width="3.2" height="13.6" fill="#fff" stroke="#262626" stroke-width="1.0"/>
<rect x="406.0" y="231.6" width="3.2" height="13.6" fill="#fff" stroke="#262626" stroke-width="1.0"/>
<rect x="422.0" y="231.6" width="3.2" height="13.6" fill="#fff" stroke="#262626" stroke-width="1.0"/>
<rect x="438.1" y="231.6" width="3.2" height="13.6" fill="#fff" stroke="#262626" stroke-width="1.0"/>
<rect x="454.0" y="231.6" width="3.2" height="13.6" fill="#fff" stroke="#262626" stroke-width="1.0"/>
<rect x="472.6" y="172.6" width="14.1" height="13.6" fill="#661a2e" stroke="#262626" stroke-width="1.0"/>
<text transform="translate(479.7,182.3) scale(0.958,1)" font-size="8.35" font-weight="normal" text-anchor="middle" fill="#fff" fill-opacity="0.9">1</text>
<rect x="493.4" y="172.6" width="14.1" height="13.6" fill="#661a2e" stroke="#262626" stroke-width="1.0"/>
<text transform="translate(500.4,182.3) scale(0.958,1)" font-size="8.35" font-weight="normal" text-anchor="middle" fill="#fff" fill-opacity="0.9">1</text>
<rect x="509.2" y="172.6" width="14.1" height="13.6" fill="#661a2e" stroke="#262626" stroke-width="1.0"/>
<text transform="translate(516.2,182.3) scale(0.958,1)" font-size="8.35" font-weight="normal" text-anchor="middle" fill="#fff" fill-opacity="0.9">1</text>
<rect x="525.0" y="172.6" width="14.1" height="13.6" fill="#661a2e" stroke="#262626" stroke-width="1.0"/>
<text transform="translate(532.0,182.3) scale(0.958,1)" font-size="8.35" font-weight="normal" text-anchor="middle" fill="#fff" fill-opacity="0.9">1</text>
<rect x="541.2" y="172.6" width="14.1" height="13.6" fill="#661a2e" stroke="#262626" stroke-width="1.0"/>
<text transform="translate(548.2,182.3) scale(0.958,1)" font-size="8.35" font-weight="normal" text-anchor="middle" fill="#fff" fill-opacity="0.9">1</text>
<rect x="556.6" y="172.6" width="14.1" height="13.6" fill="#661a2e" stroke="#262626" stroke-width="1.0"/>
<text transform="translate(563.6,182.3) scale(0.958,1)" font-size="8.35" font-weight="normal" text-anchor="middle" fill="#fff" fill-opacity="0.9">1</text>
<rect x="472.6" y="187.3" width="11.3" height="13.6" fill="#e04a9a" stroke="#262626" stroke-width="1.0"/>
<text transform="translate(478.2,197.0) scale(0.958,1)" font-size="8.35" font-weight="normal" text-anchor="middle" fill="#fff" fill-opacity="0.9">2</text>
<rect x="493.4" y="187.3" width="11.3" height="13.6" fill="#d070b8" stroke="#262626" stroke-width="1.0"/>
<text transform="translate(499.0,197.0) scale(0.958,1)" font-size="8.35" font-weight="normal" text-anchor="middle" fill="#fff" fill-opacity="0.9">2</text>
<rect x="509.2" y="187.3" width="11.3" height="13.6" fill="#e03c8a" stroke="#262626" stroke-width="1.0"/>
<text transform="translate(514.9,197.0) scale(0.958,1)" font-size="8.35" font-weight="normal" text-anchor="middle" fill="#fff" fill-opacity="0.9">2</text>
<rect x="525.0" y="187.3" width="11.3" height="13.6" fill="#e03c8a" stroke="#262626" stroke-width="1.0"/>
<text transform="translate(530.6,197.0) scale(0.958,1)" font-size="8.35" font-weight="normal" text-anchor="middle" fill="#fff" fill-opacity="0.9">2</text>
<rect x="541.2" y="187.3" width="11.3" height="13.6" fill="#d070b8" stroke="#262626" stroke-width="1.0"/>
<text transform="translate(546.9,197.0) scale(0.958,1)" font-size="8.35" font-weight="normal" text-anchor="middle" fill="#fff" fill-opacity="0.9">2</text>
<rect x="556.6" y="187.3" width="11.3" height="13.6" fill="#e04a9a" stroke="#262626" stroke-width="1.0"/>
<text transform="translate(562.2,197.0) scale(0.958,1)" font-size="8.35" font-weight="normal" text-anchor="middle" fill="#fff" fill-opacity="0.9">2</text>
<rect x="472.6" y="202.1" width="8.2" height="13.6" fill="#c890d0" stroke="#262626" stroke-width="1.0"/>
<text transform="translate(476.7,211.8) scale(0.958,1)" font-size="8.35" font-weight="normal" text-anchor="middle" fill="#fff" fill-opacity="0.9">3</text>
<rect x="493.4" y="202.1" width="8.2" height="13.6" fill="#c890cc" stroke="#262626" stroke-width="1.0"/>
<text transform="translate(497.5,211.8) scale(0.958,1)" font-size="8.35" font-weight="normal" text-anchor="middle" fill="#fff" fill-opacity="0.9">3</text>
<rect x="509.2" y="202.1" width="8.2" height="13.6" fill="#c8a0d0" stroke="#262626" stroke-width="1.0"/>
<text transform="translate(513.3,211.8) scale(0.958,1)" font-size="8.35" font-weight="normal" text-anchor="middle" fill="#fff" fill-opacity="0.9">3</text>
<rect x="525.0" y="202.1" width="8.2" height="13.6" fill="#d080c0" stroke="#262626" stroke-width="1.0"/>
<text transform="translate(529.1,211.8) scale(0.958,1)" font-size="8.35" font-weight="normal" text-anchor="middle" fill="#fff" fill-opacity="0.9">3</text>
<rect x="541.2" y="202.1" width="8.2" height="13.6" fill="#c890cc" stroke="#262626" stroke-width="1.0"/>
<text transform="translate(545.3,211.8) scale(0.958,1)" font-size="8.35" font-weight="normal" text-anchor="middle" fill="#fff" fill-opacity="0.9">3</text>
<rect x="556.6" y="202.1" width="11.3" height="13.6" fill="#e04a9a" stroke="#262626" stroke-width="1.0"/>
<text transform="translate(562.2,211.8) scale(0.958,1)" font-size="8.35" font-weight="normal" text-anchor="middle" fill="#fff" fill-opacity="0.9">2</text>
<rect x="472.6" y="216.8" width="5.5" height="13.6" fill="#f4eef6" stroke="#262626" stroke-width="1.0"/>
<rect x="493.4" y="216.8" width="5.5" height="13.6" fill="#f4eef6" stroke="#262626" stroke-width="1.0"/>
<rect x="509.2" y="216.8" width="5.5" height="13.6" fill="#f4eef6" stroke="#262626" stroke-width="1.0"/>
<rect x="525.0" y="216.8" width="5.5" height="13.6" fill="#f4eef6" stroke="#262626" stroke-width="1.0"/>
<rect x="541.2" y="216.8" width="5.5" height="13.6" fill="#f4eef6" stroke="#262626" stroke-width="1.0"/>
<rect x="556.6" y="216.8" width="5.5" height="13.6" fill="#f4eef6" stroke="#262626" stroke-width="1.0"/>
<rect x="472.6" y="231.6" width="3.7" height="13.6" fill="#fff" stroke="#262626" stroke-width="1.0"/>
<rect x="493.4" y="231.6" width="3.7" height="13.6" fill="#fff" stroke="#262626" stroke-width="1.0"/>
<rect x="509.2" y="231.6" width="3.7" height="13.6" fill="#fff" stroke="#262626" stroke-width="1.0"/>
<rect x="525.0" y="231.6" width="3.7" height="13.6" fill="#fff" stroke="#262626" stroke-width="1.0"/>
<rect x="541.2" y="231.6" width="3.7" height="13.6" fill="#fff" stroke="#262626" stroke-width="1.0"/>
<rect x="556.6" y="231.6" width="3.7" height="13.6" fill="#fff" stroke="#262626" stroke-width="1.0"/>
<rect x="576.6" y="172.6" width="5.0" height="13.6" fill="#c8c4e0" stroke="#262626" stroke-width="1.0"/>
<rect x="592.2" y="172.6" width="3.2" height="13.6" fill="#fff" stroke="#262626" stroke-width="1.0"/>
<rect x="608.0" y="172.6" width="4.0" height="13.6" fill="#fff" stroke="#262626" stroke-width="1.0"/>
<rect x="623.8" y="172.6" width="14.1" height="13.6" fill="#3e2b7a" stroke="#262626" stroke-width="1.0"/>
<text transform="translate(630.8,182.3) scale(0.958,1)" font-size="8.35" font-weight="normal" text-anchor="middle" fill="#fff" fill-opacity="0.9">1</text>
<rect x="576.6" y="187.3" width="14.1" height="13.6" fill="#3e2b7a" stroke="#262626" stroke-width="1.0"/>
<text transform="translate(583.6,197.0) scale(0.958,1)" font-size="8.35" font-weight="normal" text-anchor="middle" fill="#fff" fill-opacity="0.9">1</text>
<rect x="592.2" y="187.3" width="11.3" height="13.6" fill="#6a58a8" stroke="#262626" stroke-width="1.0"/>
<text transform="translate(597.9,197.0) scale(0.958,1)" font-size="8.35" font-weight="normal" text-anchor="middle" fill="#fff" fill-opacity="0.9">2</text>
<rect x="608.0" y="187.3" width="11.3" height="13.6" fill="#8a80c0" stroke="#262626" stroke-width="1.0"/>
<text transform="translate(613.6,197.0) scale(0.958,1)" font-size="8.35" font-weight="normal" text-anchor="middle" fill="#fff" fill-opacity="0.9">2</text>
<rect x="623.8" y="187.3" width="11.3" height="13.6" fill="#6a58a8" stroke="#262626" stroke-width="1.0"/>
<text transform="translate(629.4,197.0) scale(0.958,1)" font-size="8.35" font-weight="normal" text-anchor="middle" fill="#fff" fill-opacity="0.9">2</text>
<rect x="576.6" y="202.1" width="14.1" height="13.6" fill="#3e2b7a" stroke="#262626" stroke-width="1.0"/>
<text transform="translate(583.6,211.8) scale(0.958,1)" font-size="8.35" font-weight="normal" text-anchor="middle" fill="#fff" fill-opacity="0.9">1</text>
<rect x="592.2" y="202.1" width="14.1" height="13.6" fill="#3e2b7a" stroke="#262626" stroke-width="1.0"/>
<text transform="translate(599.2,211.8) scale(0.958,1)" font-size="8.35" font-weight="normal" text-anchor="middle" fill="#fff" fill-opacity="0.9">1</text>
<rect x="608.0" y="202.1" width="14.1" height="13.6" fill="#3e2b7a" stroke="#262626" stroke-width="1.0"/>
<text transform="translate(615.0,211.8) scale(0.958,1)" font-size="8.35" font-weight="normal" text-anchor="middle" fill="#fff" fill-opacity="0.9">1</text>
<rect x="623.8" y="202.1" width="4.5" height="13.6" fill="#dcd8ea" stroke="#262626" stroke-width="1.0"/>
<rect x="576.6" y="216.8" width="3.2" height="13.6" fill="#fff" stroke="#262626" stroke-width="1.0"/>
<rect x="592.2" y="216.8" width="3.2" height="13.6" fill="#fff" stroke="#262626" stroke-width="1.0"/>
<rect x="608.0" y="216.8" width="3.2" height="13.6" fill="#fff" stroke="#262626" stroke-width="1.0"/>
<rect x="623.8" y="216.8" width="3.2" height="13.6" fill="#fff" stroke="#262626" stroke-width="1.0"/>
<rect x="576.6" y="231.6" width="8.7" height="13.6" fill="#8a80c0" stroke="#262626" stroke-width="1.0"/>
<text transform="translate(581.0,241.3) scale(0.958,1)" font-size="8.35" font-weight="normal" text-anchor="middle" fill="#fff" fill-opacity="0.9">3</text>
<rect x="592.2" y="231.6" width="8.2" height="13.6" fill="#8a80c0" stroke="#262626" stroke-width="1.0"/>
<text transform="translate(596.3,241.3) scale(0.958,1)" font-size="8.35" font-weight="normal" text-anchor="middle" fill="#fff" fill-opacity="0.9">3</text>
<rect x="608.0" y="231.6" width="11.3" height="13.6" fill="#6a58a8" stroke="#262626" stroke-width="1.0"/>
<text transform="translate(613.6,241.3) scale(0.958,1)" font-size="8.35" font-weight="normal" text-anchor="middle" fill="#fff" fill-opacity="0.9">2</text>
<rect x="623.8" y="231.6" width="8.2" height="13.6" fill="#8a80c0" stroke="#262626" stroke-width="1.0"/>
<text transform="translate(627.9,241.3) scale(0.958,1)" font-size="8.35" font-weight="normal" text-anchor="middle" fill="#fff" fill-opacity="0.9">3</text>
<rect x="269.8" y="262.3" width="370.8" height="14.7" fill="#dcdcdc"/>
<rect x="269.8" y="291.7" width="370.8" height="14.7" fill="#dcdcdc"/>
<text transform="translate(292.6,273.3) scale(0.958,1)" font-size="8.35" font-weight="normal" text-anchor="middle" fill="#222" >StabMap</text>
<text transform="translate(321.9,273.3) scale(0.958,1)" font-size="8.35" font-weight="normal" text-anchor="middle" fill="#222" >U</text>
<ellipse cx="337.1" cy="269.0" rx="4.9" ry="4.6" fill="none" stroke="#a396ac" stroke-width="1.2"/>
<path d="M336.1 274.7 V266.7 H338.9 C341.7 266.7 341.7 271.1 338.9 271.1 H336.1 M338.7 271.1 L340.9 274.7" fill="none" stroke="#3f7f98" stroke-width="1.7"/>
<rect x="349.3" y="264.3" width="11.2" height="10.8" rx="1.8" fill="#f9dcdc" stroke="#d86464" stroke-width="1.4"/>
<path d="M352.4 267.1 L357.4 272.1 M357.4 267.1 L352.4 272.1" stroke="#d83838" stroke-width="2.0"/>
<text transform="translate(292.6,288.0) scale(0.958,1)" font-size="8.35" font-weight="normal" text-anchor="middle" fill="#222" >moETM</text>
<text transform="translate(321.9,288.0) scale(0.958,1)" font-size="8.35" font-weight="normal" text-anchor="middle" fill="#222" >U</text>
<g transform="translate(337.5,284.4) scale(1.12) translate(-5.2,-6)"><path d="M4.6 0.3 C2.2 0.3 2.4 1.4 2.4 1.4 L2.4 3 L4.8 3 L4.8 3.5 L1.5 3.5 C0 3.5 -0.2 5 0 6.5 C0.2 8 0.9 8.6 1.8 8.6 L2.9 8.6 L2.9 7 C2.9 5.9 3.8 5.2 4.8 5.2 L7.3 5.2 C8.2 5.2 8.8 4.5 8.8 3.6 L8.8 1.6 C8.8 0.8 8 0.3 4.6 0.3 Z" fill="#3b72a8"/><circle cx="3.4" cy="1.6" r="0.5" fill="#fff"/><path d="M5.9 11.7 C8.3 11.7 8.1 10.6 8.1 10.6 L8.1 9 L5.7 9 L5.7 8.5 L9 8.5 C10.5 8.5 10.7 7 10.5 5.5 C10.3 4 9.6 3.4 8.7 3.4 L7.6 3.4 L7.6 5 C7.6 6.1 6.7 6.8 5.7 6.8 L3.2 6.8 C2.3 6.8 1.7 7.5 1.7 8.4 L1.7 10.4 C1.7 11.2 2.5 11.7 5.9 11.7 Z" fill="#f2c842"/></g>
<rect x="349.3" y="279.1" width="10.8" height="10.6" rx="1.8" fill="#f2f8ee" stroke="#7db86c" stroke-width="1.3"/>
<path d="M352.1 283.8 L354.4 286.6 L360.6 279.2" fill="none" stroke="#5aa648" stroke-width="1.7"/>
<text transform="translate(292.6,302.7) scale(0.958,1)" font-size="8.35" font-weight="normal" text-anchor="middle" fill="#222" >scMM</text>
<text transform="translate(321.9,302.7) scale(0.958,1)" font-size="8.35" font-weight="normal" text-anchor="middle" fill="#222" >U</text>
<g transform="translate(337.5,299.1) scale(1.12) translate(-5.2,-6)"><path d="M4.6 0.3 C2.2 0.3 2.4 1.4 2.4 1.4 L2.4 3 L4.8 3 L4.8 3.5 L1.5 3.5 C0 3.5 -0.2 5 0 6.5 C0.2 8 0.9 8.6 1.8 8.6 L2.9 8.6 L2.9 7 C2.9 5.9 3.8 5.2 4.8 5.2 L7.3 5.2 C8.2 5.2 8.8 4.5 8.8 3.6 L8.8 1.6 C8.8 0.8 8 0.3 4.6 0.3 Z" fill="#3b72a8"/><circle cx="3.4" cy="1.6" r="0.5" fill="#fff"/><path d="M5.9 11.7 C8.3 11.7 8.1 10.6 8.1 10.6 L8.1 9 L5.7 9 L5.7 8.5 L9 8.5 C10.5 8.5 10.7 7 10.5 5.5 C10.3 4 9.6 3.4 8.7 3.4 L7.6 3.4 L7.6 5 C7.6 6.1 6.7 6.8 5.7 6.8 L3.2 6.8 C2.3 6.8 1.7 7.5 1.7 8.4 L1.7 10.4 C1.7 11.2 2.5 11.7 5.9 11.7 Z" fill="#f2c842"/></g>
<rect x="349.3" y="293.8" width="10.8" height="10.6" rx="1.8" fill="#f2f8ee" stroke="#7db86c" stroke-width="1.3"/>
<path d="M352.1 298.4 L354.4 301.2 L360.6 293.9" fill="none" stroke="#5aa648" stroke-width="1.7"/>
<rect x="369.4" y="262.9" width="14.1" height="13.5" fill="#253468" stroke="#262626" stroke-width="1.0"/>
<text transform="translate(376.4,272.5) scale(0.958,1)" font-size="8.35" font-weight="normal" text-anchor="middle" fill="#fff" fill-opacity="0.9">1</text>
<rect x="390.2" y="262.9" width="14.1" height="13.5" fill="#253468" stroke="#262626" stroke-width="1.0"/>
<text transform="translate(397.2,272.5) scale(0.958,1)" font-size="8.35" font-weight="normal" text-anchor="middle" fill="#fff" fill-opacity="0.9">1</text>
<rect x="406.0" y="262.9" width="4.5" height="13.5" fill="#fff" stroke="#262626" stroke-width="1.0"/>
<rect x="422.0" y="262.9" width="14.1" height="13.5" fill="#253468" stroke="#262626" stroke-width="1.0"/>
<text transform="translate(429.1,272.5) scale(0.958,1)" font-size="8.35" font-weight="normal" text-anchor="middle" fill="#fff" fill-opacity="0.9">1</text>
<rect x="438.1" y="262.9" width="14.1" height="13.5" fill="#253468" stroke="#262626" stroke-width="1.0"/>
<text transform="translate(445.2,272.5) scale(0.958,1)" font-size="8.35" font-weight="normal" text-anchor="middle" fill="#fff" fill-opacity="0.9">1</text>
<rect x="454.0" y="262.9" width="14.1" height="13.5" fill="#253468" stroke="#262626" stroke-width="1.0"/>
<text transform="translate(461.1,272.5) scale(0.958,1)" font-size="8.35" font-weight="normal" text-anchor="middle" fill="#fff" fill-opacity="0.9">1</text>
<rect x="369.4" y="277.6" width="9.6" height="13.5" fill="#2060a8" stroke="#262626" stroke-width="1.0"/>
<rect x="390.2" y="277.6" width="8.5" height="13.5" fill="#6aaed8" stroke="#262626" stroke-width="1.0"/>
<rect x="406.0" y="277.6" width="14.1" height="13.5" fill="#253468" stroke="#262626" stroke-width="1.0"/>
<text transform="translate(413.1,287.2) scale(0.958,1)" font-size="8.35" font-weight="normal" text-anchor="middle" fill="#fff" fill-opacity="0.9">1</text>
<rect x="422.0" y="277.6" width="8.0" height="13.5" fill="#6aaed8" stroke="#262626" stroke-width="1.0"/>
<rect x="438.1" y="277.6" width="8.0" height="13.5" fill="#2a65a5" stroke="#262626" stroke-width="1.0"/>
<rect x="454.0" y="277.6" width="8.5" height="13.5" fill="#6aaed8" stroke="#262626" stroke-width="1.0"/>
<rect x="369.4" y="292.3" width="4.0" height="13.5" fill="#fff" stroke="#262626" stroke-width="1.0"/>
<rect x="390.2" y="292.3" width="4.0" height="13.5" fill="#fff" stroke="#262626" stroke-width="1.0"/>
<rect x="406.0" y="292.3" width="9.0" height="13.5" fill="#cfe2f0" stroke="#262626" stroke-width="1.0"/>
<rect x="422.0" y="292.3" width="4.0" height="13.5" fill="#fff" stroke="#262626" stroke-width="1.0"/>
<rect x="438.1" y="292.3" width="4.0" height="13.5" fill="#fff" stroke="#262626" stroke-width="1.0"/>
<rect x="454.0" y="292.3" width="4.0" height="13.5" fill="#fff" stroke="#262626" stroke-width="1.0"/>
<rect x="472.6" y="262.9" width="14.1" height="13.5" fill="#661a2e" stroke="#262626" stroke-width="1.0"/>
<text transform="translate(479.7,272.5) scale(0.958,1)" font-size="8.35" font-weight="normal" text-anchor="middle" fill="#fff" fill-opacity="0.9">1</text>
<rect x="493.4" y="262.9" width="14.1" height="13.5" fill="#661a2e" stroke="#262626" stroke-width="1.0"/>
<text transform="translate(500.4,272.5) scale(0.958,1)" font-size="8.35" font-weight="normal" text-anchor="middle" fill="#fff" fill-opacity="0.9">1</text>
<rect x="509.2" y="262.9" width="14.1" height="13.5" fill="#661a2e" stroke="#262626" stroke-width="1.0"/>
<text transform="translate(516.2,272.5) scale(0.958,1)" font-size="8.35" font-weight="normal" text-anchor="middle" fill="#fff" fill-opacity="0.9">1</text>
<rect x="525.0" y="262.9" width="14.1" height="13.5" fill="#661a2e" stroke="#262626" stroke-width="1.0"/>
<text transform="translate(532.0,272.5) scale(0.958,1)" font-size="8.35" font-weight="normal" text-anchor="middle" fill="#fff" fill-opacity="0.9">1</text>
<rect x="541.2" y="262.9" width="14.1" height="13.5" fill="#661a2e" stroke="#262626" stroke-width="1.0"/>
<text transform="translate(548.2,272.5) scale(0.958,1)" font-size="8.35" font-weight="normal" text-anchor="middle" fill="#fff" fill-opacity="0.9">1</text>
<rect x="556.6" y="262.9" width="14.1" height="13.5" fill="#661a2e" stroke="#262626" stroke-width="1.0"/>
<text transform="translate(563.6,272.5) scale(0.958,1)" font-size="8.35" font-weight="normal" text-anchor="middle" fill="#fff" fill-opacity="0.9">1</text>
<rect x="472.6" y="277.6" width="8.0" height="13.5" fill="#d8a0cc" stroke="#262626" stroke-width="1.0"/>
<rect x="493.4" y="277.6" width="8.5" height="13.5" fill="#d890c8" stroke="#262626" stroke-width="1.0"/>
<rect x="509.2" y="277.6" width="8.5" height="13.5" fill="#dcaad8" stroke="#262626" stroke-width="1.0"/>
<rect x="525.0" y="277.6" width="8.5" height="13.5" fill="#e8d8ec" stroke="#262626" stroke-width="1.0"/>
<rect x="541.2" y="277.6" width="8.5" height="13.5" fill="#d890c8" stroke="#262626" stroke-width="1.0"/>
<rect x="556.6" y="277.6" width="8.5" height="13.5" fill="#d8a0d0" stroke="#262626" stroke-width="1.0"/>
<rect x="472.6" y="292.3" width="3.5" height="13.5" fill="#fff" stroke="#262626" stroke-width="1.0"/>
<rect x="493.4" y="292.3" width="3.5" height="13.5" fill="#fff" stroke="#262626" stroke-width="1.0"/>
<rect x="509.2" y="292.3" width="3.5" height="13.5" fill="#fff" stroke="#262626" stroke-width="1.0"/>
<rect x="525.0" y="292.3" width="3.5" height="13.5" fill="#fff" stroke="#262626" stroke-width="1.0"/>
<rect x="541.2" y="292.3" width="3.5" height="13.5" fill="#fff" stroke="#262626" stroke-width="1.0"/>
<rect x="556.6" y="292.3" width="3.5" height="13.5" fill="#fff" stroke="#262626" stroke-width="1.0"/>
<rect x="576.6" y="262.9" width="14.1" height="13.5" fill="#4a3590" stroke="#262626" stroke-width="1.0"/>
<text transform="translate(583.6,272.5) scale(0.958,1)" font-size="8.35" font-weight="normal" text-anchor="middle" fill="#fff" fill-opacity="0.9">1</text>
<rect x="592.2" y="262.9" width="14.1" height="13.5" fill="#4a3590" stroke="#262626" stroke-width="1.0"/>
<text transform="translate(599.2,272.5) scale(0.958,1)" font-size="8.35" font-weight="normal" text-anchor="middle" fill="#fff" fill-opacity="0.9">1</text>
<rect x="608.0" y="262.9" width="14.1" height="13.5" fill="#4a3590" stroke="#262626" stroke-width="1.0"/>
<text transform="translate(615.0,272.5) scale(0.958,1)" font-size="8.35" font-weight="normal" text-anchor="middle" fill="#fff" fill-opacity="0.9">1</text>
<rect x="623.8" y="262.9" width="14.1" height="13.5" fill="#4a3590" stroke="#262626" stroke-width="1.0"/>
<text transform="translate(630.8,272.5) scale(0.958,1)" font-size="8.35" font-weight="normal" text-anchor="middle" fill="#fff" fill-opacity="0.9">1</text>
<rect x="576.6" y="277.6" width="3.5" height="13.5" fill="#fff" stroke="#262626" stroke-width="1.0"/>
<rect x="592.2" y="277.6" width="3.5" height="13.5" fill="#fff" stroke="#262626" stroke-width="1.0"/>
<rect x="608.0" y="277.6" width="3.5" height="13.5" fill="#fff" stroke="#262626" stroke-width="1.0"/>
<rect x="623.8" y="277.6" width="3.5" height="13.5" fill="#fff" stroke="#262626" stroke-width="1.0"/>
<rect x="576.6" y="292.3" width="9.0" height="13.5" fill="#c8c0e4" stroke="#262626" stroke-width="1.0"/>
<rect x="592.2" y="292.3" width="9.0" height="13.5" fill="#9a90cc" stroke="#262626" stroke-width="1.0"/>
<rect x="608.0" y="292.3" width="8.0" height="13.5" fill="#e4e0f0" stroke="#262626" stroke-width="1.0"/>
<rect x="623.8" y="292.3" width="8.0" height="13.5" fill="#c4bce0" stroke="#262626" stroke-width="1.0"/>
<rect x="269.8" y="322.4" width="370.8" height="14.8" fill="#dcdcdc"/>
<rect x="269.8" y="352.0" width="370.8" height="14.8" fill="#dcdcdc"/>
<rect x="269.8" y="381.6" width="370.8" height="14.8" fill="#dcdcdc"/>
<text transform="translate(292.6,333.4) scale(0.958,1)" font-size="8.35" font-weight="normal" text-anchor="middle" fill="#222" >MultiVI</text>
<text transform="translate(321.9,333.4) scale(0.958,1)" font-size="8.35" font-weight="normal" text-anchor="middle" fill="#222" >U</text>
<g transform="translate(337.5,329.8) scale(1.12) translate(-5.2,-6)"><path d="M4.6 0.3 C2.2 0.3 2.4 1.4 2.4 1.4 L2.4 3 L4.8 3 L4.8 3.5 L1.5 3.5 C0 3.5 -0.2 5 0 6.5 C0.2 8 0.9 8.6 1.8 8.6 L2.9 8.6 L2.9 7 C2.9 5.9 3.8 5.2 4.8 5.2 L7.3 5.2 C8.2 5.2 8.8 4.5 8.8 3.6 L8.8 1.6 C8.8 0.8 8 0.3 4.6 0.3 Z" fill="#3b72a8"/><circle cx="3.4" cy="1.6" r="0.5" fill="#fff"/><path d="M5.9 11.7 C8.3 11.7 8.1 10.6 8.1 10.6 L8.1 9 L5.7 9 L5.7 8.5 L9 8.5 C10.5 8.5 10.7 7 10.5 5.5 C10.3 4 9.6 3.4 8.7 3.4 L7.6 3.4 L7.6 5 C7.6 6.1 6.7 6.8 5.7 6.8 L3.2 6.8 C2.3 6.8 1.7 7.5 1.7 8.4 L1.7 10.4 C1.7 11.2 2.5 11.7 5.9 11.7 Z" fill="#f2c842"/></g>
<rect x="349.3" y="324.5" width="10.8" height="10.6" rx="1.8" fill="#f2f8ee" stroke="#7db86c" stroke-width="1.3"/>
<path d="M352.1 329.2 L354.4 332.0 L360.6 324.6" fill="none" stroke="#5aa648" stroke-width="1.7"/>
<text transform="translate(292.6,348.2) scale(0.958,1)" font-size="8.35" font-weight="normal" text-anchor="middle" fill="#222" >moETM</text>
<text transform="translate(321.9,348.2) scale(0.958,1)" font-size="8.35" font-weight="normal" text-anchor="middle" fill="#222" >U</text>
<g transform="translate(337.5,344.6) scale(1.12) translate(-5.2,-6)"><path d="M4.6 0.3 C2.2 0.3 2.4 1.4 2.4 1.4 L2.4 3 L4.8 3 L4.8 3.5 L1.5 3.5 C0 3.5 -0.2 5 0 6.5 C0.2 8 0.9 8.6 1.8 8.6 L2.9 8.6 L2.9 7 C2.9 5.9 3.8 5.2 4.8 5.2 L7.3 5.2 C8.2 5.2 8.8 4.5 8.8 3.6 L8.8 1.6 C8.8 0.8 8 0.3 4.6 0.3 Z" fill="#3b72a8"/><circle cx="3.4" cy="1.6" r="0.5" fill="#fff"/><path d="M5.9 11.7 C8.3 11.7 8.1 10.6 8.1 10.6 L8.1 9 L5.7 9 L5.7 8.5 L9 8.5 C10.5 8.5 10.7 7 10.5 5.5 C10.3 4 9.6 3.4 8.7 3.4 L7.6 3.4 L7.6 5 C7.6 6.1 6.7 6.8 5.7 6.8 L3.2 6.8 C2.3 6.8 1.7 7.5 1.7 8.4 L1.7 10.4 C1.7 11.2 2.5 11.7 5.9 11.7 Z" fill="#f2c842"/></g>
<rect x="349.3" y="339.3" width="10.8" height="10.6" rx="1.8" fill="#f2f8ee" stroke="#7db86c" stroke-width="1.3"/>
<path d="M352.1 344.0 L354.4 346.8 L360.6 339.4" fill="none" stroke="#5aa648" stroke-width="1.7"/>
<text transform="translate(292.6,363.0) scale(0.958,1)" font-size="8.35" font-weight="normal" text-anchor="middle" fill="#222" >UnitedNet</text>
<text transform="translate(321.9,363.0) scale(0.958,1)" font-size="8.35" font-weight="normal" text-anchor="middle" fill="#222" >S</text>
<g transform="translate(337.5,359.4) scale(1.12) translate(-5.2,-6)"><path d="M4.6 0.3 C2.2 0.3 2.4 1.4 2.4 1.4 L2.4 3 L4.8 3 L4.8 3.5 L1.5 3.5 C0 3.5 -0.2 5 0 6.5 C0.2 8 0.9 8.6 1.8 8.6 L2.9 8.6 L2.9 7 C2.9 5.9 3.8 5.2 4.8 5.2 L7.3 5.2 C8.2 5.2 8.8 4.5 8.8 3.6 L8.8 1.6 C8.8 0.8 8 0.3 4.6 0.3 Z" fill="#3b72a8"/><circle cx="3.4" cy="1.6" r="0.5" fill="#fff"/><path d="M5.9 11.7 C8.3 11.7 8.1 10.6 8.1 10.6 L8.1 9 L5.7 9 L5.7 8.5 L9 8.5 C10.5 8.5 10.7 7 10.5 5.5 C10.3 4 9.6 3.4 8.7 3.4 L7.6 3.4 L7.6 5 C7.6 6.1 6.7 6.8 5.7 6.8 L3.2 6.8 C2.3 6.8 1.7 7.5 1.7 8.4 L1.7 10.4 C1.7 11.2 2.5 11.7 5.9 11.7 Z" fill="#f2c842"/></g>
<rect x="349.3" y="354.1" width="10.8" height="10.6" rx="1.8" fill="#f2f8ee" stroke="#7db86c" stroke-width="1.3"/>
<path d="M352.1 358.8 L354.4 361.6 L360.6 354.2" fill="none" stroke="#5aa648" stroke-width="1.7"/>
<text transform="translate(292.6,377.8) scale(0.958,1)" font-size="8.35" font-weight="normal" text-anchor="middle" fill="#222" >StabMap</text>
<text transform="translate(321.9,377.8) scale(0.958,1)" font-size="8.35" font-weight="normal" text-anchor="middle" fill="#222" >U</text>
<ellipse cx="337.1" cy="373.5" rx="4.9" ry="4.6" fill="none" stroke="#a396ac" stroke-width="1.2"/>
<path d="M336.1 379.2 V371.2 H338.9 C341.7 371.2 341.7 375.6 338.9 375.6 H336.1 M338.7 375.6 L340.9 379.2" fill="none" stroke="#3f7f98" stroke-width="1.7"/>
<rect x="349.3" y="368.8" width="11.2" height="10.8" rx="1.8" fill="#f9dcdc" stroke="#d86464" stroke-width="1.4"/>
<path d="M352.4 371.6 L357.4 376.6 M357.4 371.6 L352.4 376.6" stroke="#d83838" stroke-width="2.0"/>
<text transform="translate(292.6,392.6) scale(0.958,1)" font-size="8.35" font-weight="normal" text-anchor="middle" fill="#222" >scMM</text>
<text transform="translate(321.9,392.6) scale(0.958,1)" font-size="8.35" font-weight="normal" text-anchor="middle" fill="#222" >U</text>
<g transform="translate(337.5,389.0) scale(1.12) translate(-5.2,-6)"><path d="M4.6 0.3 C2.2 0.3 2.4 1.4 2.4 1.4 L2.4 3 L4.8 3 L4.8 3.5 L1.5 3.5 C0 3.5 -0.2 5 0 6.5 C0.2 8 0.9 8.6 1.8 8.6 L2.9 8.6 L2.9 7 C2.9 5.9 3.8 5.2 4.8 5.2 L7.3 5.2 C8.2 5.2 8.8 4.5 8.8 3.6 L8.8 1.6 C8.8 0.8 8 0.3 4.6 0.3 Z" fill="#3b72a8"/><circle cx="3.4" cy="1.6" r="0.5" fill="#fff"/><path d="M5.9 11.7 C8.3 11.7 8.1 10.6 8.1 10.6 L8.1 9 L5.7 9 L5.7 8.5 L9 8.5 C10.5 8.5 10.7 7 10.5 5.5 C10.3 4 9.6 3.4 8.7 3.4 L7.6 3.4 L7.6 5 C7.6 6.1 6.7 6.8 5.7 6.8 L3.2 6.8 C2.3 6.8 1.7 7.5 1.7 8.4 L1.7 10.4 C1.7 11.2 2.5 11.7 5.9 11.7 Z" fill="#f2c842"/></g>
<rect x="349.3" y="383.7" width="10.8" height="10.6" rx="1.8" fill="#f2f8ee" stroke="#7db86c" stroke-width="1.3"/>
<path d="M352.1 388.4 L354.4 391.2 L360.6 383.8" fill="none" stroke="#5aa648" stroke-width="1.7"/>
<rect x="369.9" y="323.0" width="14.1" height="13.6" fill="#253468" stroke="#262626" stroke-width="1.0"/>
<text transform="translate(376.9,332.7) scale(0.958,1)" font-size="8.35" font-weight="normal" text-anchor="middle" fill="#fff" fill-opacity="0.9">1</text>
<rect x="390.7" y="323.0" width="14.1" height="13.6" fill="#253468" stroke="#262626" stroke-width="1.0"/>
<text transform="translate(397.8,332.7) scale(0.958,1)" font-size="8.35" font-weight="normal" text-anchor="middle" fill="#fff" fill-opacity="0.9">1</text>
<rect x="406.5" y="323.0" width="14.1" height="13.6" fill="#253468" stroke="#262626" stroke-width="1.0"/>
<text transform="translate(413.6,332.7) scale(0.958,1)" font-size="8.35" font-weight="normal" text-anchor="middle" fill="#fff" fill-opacity="0.9">1</text>
<rect x="422.5" y="323.0" width="14.1" height="13.6" fill="#253468" stroke="#262626" stroke-width="1.0"/>
<text transform="translate(429.6,332.7) scale(0.958,1)" font-size="8.35" font-weight="normal" text-anchor="middle" fill="#fff" fill-opacity="0.9">1</text>
<rect x="438.6" y="323.0" width="14.1" height="13.6" fill="#253468" stroke="#262626" stroke-width="1.0"/>
<text transform="translate(445.7,332.7) scale(0.958,1)" font-size="8.35" font-weight="normal" text-anchor="middle" fill="#fff" fill-opacity="0.9">1</text>
<rect x="454.5" y="323.0" width="14.1" height="13.6" fill="#253468" stroke="#262626" stroke-width="1.0"/>
<text transform="translate(461.6,332.7) scale(0.958,1)" font-size="8.35" font-weight="normal" text-anchor="middle" fill="#fff" fill-opacity="0.9">1</text>
<rect x="369.9" y="337.8" width="7.5" height="13.6" fill="#5aa8d4" stroke="#262626" stroke-width="1.0"/>
<text transform="translate(373.6,347.5) scale(0.958,1)" font-size="8.35" font-weight="normal" text-anchor="middle" fill="#fff" fill-opacity="0.9">3</text>
<rect x="390.7" y="337.8" width="11.3" height="13.6" fill="#6ab0d8" stroke="#262626" stroke-width="1.0"/>
<text transform="translate(396.3,347.5) scale(0.958,1)" font-size="8.35" font-weight="normal" text-anchor="middle" fill="#fff" fill-opacity="0.9">2</text>
<rect x="406.5" y="337.8" width="7.0" height="13.6" fill="#5aa8d4" stroke="#262626" stroke-width="1.0"/>
<text transform="translate(410.0,347.5) scale(0.958,1)" font-size="8.35" font-weight="normal" text-anchor="middle" fill="#fff" fill-opacity="0.9">3</text>
<rect x="422.5" y="337.8" width="7.0" height="13.6" fill="#70b8dc" stroke="#262626" stroke-width="1.0"/>
<text transform="translate(426.0,347.5) scale(0.958,1)" font-size="8.35" font-weight="normal" text-anchor="middle" fill="#fff" fill-opacity="0.9">3</text>
<rect x="438.6" y="337.8" width="11.3" height="13.6" fill="#4a98cc" stroke="#262626" stroke-width="1.0"/>
<text transform="translate(444.2,347.5) scale(0.958,1)" font-size="8.35" font-weight="normal" text-anchor="middle" fill="#fff" fill-opacity="0.9">2</text>
<rect x="454.5" y="337.8" width="11.3" height="13.6" fill="#5aa8d8" stroke="#262626" stroke-width="1.0"/>
<text transform="translate(460.1,347.5) scale(0.958,1)" font-size="8.35" font-weight="normal" text-anchor="middle" fill="#fff" fill-opacity="0.9">2</text>
<rect x="369.9" y="352.6" width="11.3" height="13.6" fill="#3a88c0" stroke="#262626" stroke-width="1.0"/>
<text transform="translate(375.5,362.3) scale(0.958,1)" font-size="8.35" font-weight="normal" text-anchor="middle" fill="#fff" fill-opacity="0.9">2</text>
<rect x="390.7" y="352.6" width="11.3" height="13.6" fill="#3a88c0" stroke="#262626" stroke-width="1.0"/>
<text transform="translate(396.3,362.3) scale(0.958,1)" font-size="8.35" font-weight="normal" text-anchor="middle" fill="#fff" fill-opacity="0.9">2</text>
<rect x="406.5" y="352.6" width="11.3" height="13.6" fill="#2a6aa8" stroke="#262626" stroke-width="1.0"/>
<text transform="translate(412.1,362.3) scale(0.958,1)" font-size="8.35" font-weight="normal" text-anchor="middle" fill="#fff" fill-opacity="0.9">2</text>
<rect x="422.5" y="352.6" width="11.3" height="13.6" fill="#2a6aa8" stroke="#262626" stroke-width="1.0"/>
<text transform="translate(428.1,362.3) scale(0.958,1)" font-size="8.35" font-weight="normal" text-anchor="middle" fill="#fff" fill-opacity="0.9">2</text>
<rect x="438.6" y="352.6" width="7.5" height="13.6" fill="#3a88c0" stroke="#262626" stroke-width="1.0"/>
<text transform="translate(442.4,362.3) scale(0.958,1)" font-size="8.35" font-weight="normal" text-anchor="middle" fill="#fff" fill-opacity="0.9">3</text>
<rect x="454.5" y="352.6" width="11.3" height="13.6" fill="#3a88c0" stroke="#262626" stroke-width="1.0"/>
<text transform="translate(460.1,362.3) scale(0.958,1)" font-size="8.35" font-weight="normal" text-anchor="middle" fill="#fff" fill-opacity="0.9">2</text>
<rect x="369.9" y="367.4" width="5.5" height="13.6" fill="#aad0e8" stroke="#262626" stroke-width="1.0"/>
<rect x="390.7" y="367.4" width="11.3" height="13.6" fill="#6ab0d8" stroke="#262626" stroke-width="1.0"/>
<text transform="translate(396.3,377.1) scale(0.958,1)" font-size="8.35" font-weight="normal" text-anchor="middle" fill="#fff" fill-opacity="0.9">2</text>
<rect x="406.5" y="367.4" width="4.0" height="13.6" fill="#cfe2f0" stroke="#262626" stroke-width="1.0"/>
<rect x="422.5" y="367.4" width="8.0" height="13.6" fill="#aad0e8" stroke="#262626" stroke-width="1.0"/>
<text transform="translate(426.5,377.1) scale(0.958,1)" font-size="8.35" font-weight="normal" text-anchor="middle" fill="#fff" fill-opacity="0.9">3</text>
<rect x="438.6" y="367.4" width="5.0" height="13.6" fill="#aad0e8" stroke="#262626" stroke-width="1.0"/>
<rect x="454.5" y="367.4" width="11.3" height="13.6" fill="#6ab0d8" stroke="#262626" stroke-width="1.0"/>
<text transform="translate(460.1,377.1) scale(0.958,1)" font-size="8.35" font-weight="normal" text-anchor="middle" fill="#fff" fill-opacity="0.9">2</text>
<rect x="369.9" y="382.2" width="3.2" height="13.6" fill="#fff" stroke="#262626" stroke-width="1.0"/>
<rect x="390.7" y="382.2" width="3.2" height="13.6" fill="#fff" stroke="#262626" stroke-width="1.0"/>
<rect x="406.5" y="382.2" width="3.2" height="13.6" fill="#fff" stroke="#262626" stroke-width="1.0"/>
<rect x="422.5" y="382.2" width="3.2" height="13.6" fill="#fff" stroke="#262626" stroke-width="1.0"/>
<rect x="438.6" y="382.2" width="3.2" height="13.6" fill="#fff" stroke="#262626" stroke-width="1.0"/>
<rect x="454.5" y="382.2" width="3.2" height="13.6" fill="#fff" stroke="#262626" stroke-width="1.0"/>
<rect x="472.6" y="323.0" width="14.1" height="13.6" fill="#661a2e" stroke="#262626" stroke-width="1.0"/>
<text transform="translate(479.7,332.7) scale(0.958,1)" font-size="8.35" font-weight="normal" text-anchor="middle" fill="#fff" fill-opacity="0.9">1</text>
<rect x="493.4" y="323.0" width="14.1" height="13.6" fill="#661a2e" stroke="#262626" stroke-width="1.0"/>
<text transform="translate(500.4,332.7) scale(0.958,1)" font-size="8.35" font-weight="normal" text-anchor="middle" fill="#fff" fill-opacity="0.9">1</text>
<rect x="509.2" y="323.0" width="14.1" height="13.6" fill="#661a2e" stroke="#262626" stroke-width="1.0"/>
<text transform="translate(516.2,332.7) scale(0.958,1)" font-size="8.35" font-weight="normal" text-anchor="middle" fill="#fff" fill-opacity="0.9">1</text>
<rect x="525.0" y="323.0" width="14.1" height="13.6" fill="#661a2e" stroke="#262626" stroke-width="1.0"/>
<text transform="translate(532.0,332.7) scale(0.958,1)" font-size="8.35" font-weight="normal" text-anchor="middle" fill="#fff" fill-opacity="0.9">1</text>
<rect x="541.2" y="323.0" width="14.1" height="13.6" fill="#661a2e" stroke="#262626" stroke-width="1.0"/>
<text transform="translate(548.2,332.7) scale(0.958,1)" font-size="8.35" font-weight="normal" text-anchor="middle" fill="#fff" fill-opacity="0.9">1</text>
<rect x="556.6" y="323.0" width="14.1" height="13.6" fill="#661a2e" stroke="#262626" stroke-width="1.0"/>
<text transform="translate(563.6,332.7) scale(0.958,1)" font-size="8.35" font-weight="normal" text-anchor="middle" fill="#fff" fill-opacity="0.9">1</text>
<rect x="472.6" y="337.8" width="10.5" height="13.6" fill="#b8385e" stroke="#262626" stroke-width="1.0"/>
<text transform="translate(477.9,347.5) scale(0.958,1)" font-size="8.35" font-weight="normal" text-anchor="middle" fill="#fff" fill-opacity="0.9">2</text>
<rect x="493.4" y="337.8" width="11.3" height="13.6" fill="#b03058" stroke="#262626" stroke-width="1.0"/>
<text transform="translate(499.0,347.5) scale(0.958,1)" font-size="8.35" font-weight="normal" text-anchor="middle" fill="#fff" fill-opacity="0.9">2</text>
<rect x="509.2" y="337.8" width="13.0" height="13.6" fill="#6c1a30" stroke="#262626" stroke-width="1.0"/>
<text transform="translate(515.7,347.5) scale(0.958,1)" font-size="8.35" font-weight="normal" text-anchor="middle" fill="#fff" fill-opacity="0.9">1</text>
<rect x="525.0" y="337.8" width="4.5" height="13.6" fill="#e04090" stroke="#262626" stroke-width="1.0"/>
<rect x="541.2" y="337.8" width="11.3" height="13.6" fill="#c03860" stroke="#262626" stroke-width="1.0"/>
<text transform="translate(546.9,347.5) scale(0.958,1)" font-size="8.35" font-weight="normal" text-anchor="middle" fill="#fff" fill-opacity="0.9">2</text>
<rect x="556.6" y="337.8" width="8.0" height="13.6" fill="#e04a90" stroke="#262626" stroke-width="1.0"/>
<text transform="translate(560.6,347.5) scale(0.958,1)" font-size="8.35" font-weight="normal" text-anchor="middle" fill="#fff" fill-opacity="0.9">3</text>
<rect x="472.6" y="352.6" width="9.0" height="13.6" fill="#d03880" stroke="#262626" stroke-width="1.0"/>
<text transform="translate(477.1,362.3) scale(0.958,1)" font-size="8.35" font-weight="normal" text-anchor="middle" fill="#fff" fill-opacity="0.9">3</text>
<rect x="493.4" y="352.6" width="8.5" height="13.6" fill="#d04080" stroke="#262626" stroke-width="1.0"/>
<text transform="translate(497.6,362.3) scale(0.958,1)" font-size="8.35" font-weight="normal" text-anchor="middle" fill="#fff" fill-opacity="0.9">3</text>
<rect x="509.2" y="352.6" width="8.5" height="13.6" fill="#b83060" stroke="#262626" stroke-width="1.0"/>
<text transform="translate(513.5,362.3) scale(0.958,1)" font-size="8.35" font-weight="normal" text-anchor="middle" fill="#fff" fill-opacity="0.9">3</text>
<rect x="525.0" y="352.6" width="14.1" height="13.6" fill="#6c1a30" stroke="#262626" stroke-width="1.0"/>
<text transform="translate(532.0,362.3) scale(0.958,1)" font-size="8.35" font-weight="normal" text-anchor="middle" fill="#fff" fill-opacity="0.9">1</text>
<rect x="541.2" y="352.6" width="8.5" height="13.6" fill="#d04080" stroke="#262626" stroke-width="1.0"/>
<text transform="translate(545.5,362.3) scale(0.958,1)" font-size="8.35" font-weight="normal" text-anchor="middle" fill="#fff" fill-opacity="0.9">3</text>
<rect x="556.6" y="352.6" width="5.0" height="13.6" fill="#d8c0e0" stroke="#262626" stroke-width="1.0"/>
<rect x="472.6" y="367.4" width="4.0" height="13.6" fill="#d880c0" stroke="#262626" stroke-width="1.0"/>
<rect x="493.4" y="367.4" width="5.5" height="13.6" fill="#d890c8" stroke="#262626" stroke-width="1.0"/>
<rect x="509.2" y="367.4" width="5.0" height="13.6" fill="#c890c8" stroke="#262626" stroke-width="1.0"/>
<rect x="525.0" y="367.4" width="8.0" height="13.6" fill="#c83070" stroke="#262626" stroke-width="1.0"/>
<text transform="translate(529.0,377.1) scale(0.958,1)" font-size="8.35" font-weight="normal" text-anchor="middle" fill="#fff" fill-opacity="0.9">3</text>
<rect x="541.2" y="367.4" width="5.0" height="13.6" fill="#d8a8d8" stroke="#262626" stroke-width="1.0"/>
<rect x="556.6" y="367.4" width="14.1" height="13.6" fill="#6c1a30" stroke="#262626" stroke-width="1.0"/>
<text transform="translate(563.6,377.1) scale(0.958,1)" font-size="8.35" font-weight="normal" text-anchor="middle" fill="#fff" fill-opacity="0.9">1</text>
<rect x="472.6" y="382.2" width="3.2" height="13.6" fill="#fff" stroke="#262626" stroke-width="1.0"/>
<rect x="493.4" y="382.2" width="3.2" height="13.6" fill="#fff" stroke="#262626" stroke-width="1.0"/>
<rect x="509.2" y="382.2" width="3.2" height="13.6" fill="#fff" stroke="#262626" stroke-width="1.0"/>
<rect x="525.0" y="382.2" width="3.2" height="13.6" fill="#fff" stroke="#262626" stroke-width="1.0"/>
<rect x="541.2" y="382.2" width="3.2" height="13.6" fill="#fff" stroke="#262626" stroke-width="1.0"/>
<rect x="556.6" y="382.2" width="3.2" height="13.6" fill="#fff" stroke="#262626" stroke-width="1.0"/>
<rect x="576.6" y="323.0" width="4.5" height="13.6" fill="#fff" stroke="#262626" stroke-width="1.0"/>
<rect x="592.2" y="323.0" width="4.5" height="13.6" fill="#fff" stroke="#262626" stroke-width="1.0"/>
<rect x="608.0" y="323.0" width="5.0" height="13.6" fill="#d0cce8" stroke="#262626" stroke-width="1.0"/>
<rect x="623.8" y="323.0" width="4.5" height="13.6" fill="#fff" stroke="#262626" stroke-width="1.0"/>
<rect x="576.6" y="337.8" width="8.0" height="13.6" fill="#c0b8e0" stroke="#262626" stroke-width="1.0"/>
<text transform="translate(580.6,347.5) scale(0.958,1)" font-size="8.35" font-weight="normal" text-anchor="middle" fill="#fff" fill-opacity="0.9">3</text>
<rect x="592.2" y="337.8" width="8.0" height="13.6" fill="#a8a0d0" stroke="#262626" stroke-width="1.0"/>
<text transform="translate(596.2,347.5) scale(0.958,1)" font-size="8.35" font-weight="normal" text-anchor="middle" fill="#fff" fill-opacity="0.9">3</text>
<rect x="608.0" y="337.8" width="8.0" height="13.6" fill="#a8a0d0" stroke="#262626" stroke-width="1.0"/>
<text transform="translate(612.0,347.5) scale(0.958,1)" font-size="8.35" font-weight="normal" text-anchor="middle" fill="#fff" fill-opacity="0.9">3</text>
<rect x="623.8" y="337.8" width="4.0" height="13.6" fill="#fff" stroke="#262626" stroke-width="1.0"/>
<rect x="576.6" y="352.6" width="3.2" height="13.6" fill="#fff" stroke="#262626" stroke-width="1.0"/>
<rect x="592.2" y="352.6" width="3.2" height="13.6" fill="#fff" stroke="#262626" stroke-width="1.0"/>
<rect x="608.0" y="352.6" width="3.2" height="13.6" fill="#fff" stroke="#262626" stroke-width="1.0"/>
<rect x="623.8" y="352.6" width="8.0" height="13.6" fill="#d8d4ec" stroke="#262626" stroke-width="1.0"/>
<text transform="translate(627.8,362.3) scale(0.958,1)" font-size="8.35" font-weight="normal" text-anchor="middle" fill="#fff" fill-opacity="0.9">3</text>
<rect x="576.6" y="367.4" width="11.3" height="13.6" fill="#4a3590" stroke="#262626" stroke-width="1.0"/>
<text transform="translate(582.2,377.1) scale(0.958,1)" font-size="8.35" font-weight="normal" text-anchor="middle" fill="#fff" fill-opacity="0.9">2</text>
<rect x="592.2" y="367.4" width="11.3" height="13.6" fill="#5a48a0" stroke="#262626" stroke-width="1.0"/>
<text transform="translate(597.9,377.1) scale(0.958,1)" font-size="8.35" font-weight="normal" text-anchor="middle" fill="#fff" fill-opacity="0.9">2</text>
<rect x="608.0" y="367.4" width="11.3" height="13.6" fill="#6a58a8" stroke="#262626" stroke-width="1.0"/>
<text transform="translate(613.6,377.1) scale(0.958,1)" font-size="8.35" font-weight="normal" text-anchor="middle" fill="#fff" fill-opacity="0.9">2</text>
<rect x="623.8" y="367.4" width="13.0" height="13.6" fill="#3e2b7a" stroke="#262626" stroke-width="1.0"/>
<text transform="translate(630.3,377.1) scale(0.958,1)" font-size="8.35" font-weight="normal" text-anchor="middle" fill="#fff" fill-opacity="0.9">1</text>
<rect x="576.6" y="382.2" width="13.0" height="13.6" fill="#3e2b7a" stroke="#262626" stroke-width="1.0"/>
<text transform="translate(583.1,391.9) scale(0.958,1)" font-size="8.35" font-weight="normal" text-anchor="middle" fill="#fff" fill-opacity="0.9">1</text>
<rect x="592.2" y="382.2" width="13.0" height="13.6" fill="#3e2b7a" stroke="#262626" stroke-width="1.0"/>
<text transform="translate(598.7,391.9) scale(0.958,1)" font-size="8.35" font-weight="normal" text-anchor="middle" fill="#fff" fill-opacity="0.9">1</text>
<rect x="608.0" y="382.2" width="13.0" height="13.6" fill="#3e2b7a" stroke="#262626" stroke-width="1.0"/>
<text transform="translate(614.5,391.9) scale(0.958,1)" font-size="8.35" font-weight="normal" text-anchor="middle" fill="#fff" fill-opacity="0.9">1</text>
<rect x="623.8" y="382.2" width="11.3" height="13.6" fill="#6a58a8" stroke="#262626" stroke-width="1.0"/>
<text transform="translate(629.4,391.9) scale(0.958,1)" font-size="8.35" font-weight="normal" text-anchor="middle" fill="#fff" fill-opacity="0.9">2</text>
<rect x="269.8" y="411.6" width="370.8" height="14.7" fill="#dcdcdc"/>
<rect x="269.8" y="441.0" width="370.8" height="14.7" fill="#dcdcdc"/>
<rect x="269.8" y="470.4" width="370.8" height="14.7" fill="#dcdcdc"/>
<text transform="translate(292.6,422.6) scale(0.958,1)" font-size="8.35" font-weight="normal" text-anchor="middle" fill="#222" >MultiVI</text>
<text transform="translate(321.9,422.6) scale(0.958,1)" font-size="8.35" font-weight="normal" text-anchor="middle" fill="#222" >U</text>
<g transform="translate(337.5,419.0) scale(1.12) translate(-5.2,-6)"><path d="M4.6 0.3 C2.2 0.3 2.4 1.4 2.4 1.4 L2.4 3 L4.8 3 L4.8 3.5 L1.5 3.5 C0 3.5 -0.2 5 0 6.5 C0.2 8 0.9 8.6 1.8 8.6 L2.9 8.6 L2.9 7 C2.9 5.9 3.8 5.2 4.8 5.2 L7.3 5.2 C8.2 5.2 8.8 4.5 8.8 3.6 L8.8 1.6 C8.8 0.8 8 0.3 4.6 0.3 Z" fill="#3b72a8"/><circle cx="3.4" cy="1.6" r="0.5" fill="#fff"/><path d="M5.9 11.7 C8.3 11.7 8.1 10.6 8.1 10.6 L8.1 9 L5.7 9 L5.7 8.5 L9 8.5 C10.5 8.5 10.7 7 10.5 5.5 C10.3 4 9.6 3.4 8.7 3.4 L7.6 3.4 L7.6 5 C7.6 6.1 6.7 6.8 5.7 6.8 L3.2 6.8 C2.3 6.8 1.7 7.5 1.7 8.4 L1.7 10.4 C1.7 11.2 2.5 11.7 5.9 11.7 Z" fill="#f2c842"/></g>
<rect x="349.3" y="413.7" width="10.8" height="10.6" rx="1.8" fill="#f2f8ee" stroke="#7db86c" stroke-width="1.3"/>
<path d="M352.1 418.4 L354.4 421.2 L360.6 413.8" fill="none" stroke="#5aa648" stroke-width="1.7"/>
<text transform="translate(292.6,437.3) scale(0.958,1)" font-size="8.35" font-weight="normal" text-anchor="middle" fill="#222" >StabMap</text>
<text transform="translate(321.9,437.3) scale(0.958,1)" font-size="8.35" font-weight="normal" text-anchor="middle" fill="#222" >U</text>
<ellipse cx="337.1" cy="433.0" rx="4.9" ry="4.6" fill="none" stroke="#a396ac" stroke-width="1.2"/>
<path d="M336.1 438.7 V430.7 H338.9 C341.7 430.7 341.7 435.1 338.9 435.1 H336.1 M338.7 435.1 L340.9 438.7" fill="none" stroke="#3f7f98" stroke-width="1.7"/>
<rect x="349.3" y="428.3" width="11.2" height="10.8" rx="1.8" fill="#f9dcdc" stroke="#d86464" stroke-width="1.4"/>
<path d="M352.4 431.1 L357.4 436.1 M357.4 431.1 L352.4 436.1" stroke="#d83838" stroke-width="2.0"/>
<text transform="translate(292.6,452.0) scale(0.958,1)" font-size="8.35" font-weight="normal" text-anchor="middle" fill="#222" >UnitedNet</text>
<text transform="translate(321.9,452.0) scale(0.958,1)" font-size="8.35" font-weight="normal" text-anchor="middle" fill="#222" >S</text>
<g transform="translate(337.5,448.4) scale(1.12) translate(-5.2,-6)"><path d="M4.6 0.3 C2.2 0.3 2.4 1.4 2.4 1.4 L2.4 3 L4.8 3 L4.8 3.5 L1.5 3.5 C0 3.5 -0.2 5 0 6.5 C0.2 8 0.9 8.6 1.8 8.6 L2.9 8.6 L2.9 7 C2.9 5.9 3.8 5.2 4.8 5.2 L7.3 5.2 C8.2 5.2 8.8 4.5 8.8 3.6 L8.8 1.6 C8.8 0.8 8 0.3 4.6 0.3 Z" fill="#3b72a8"/><circle cx="3.4" cy="1.6" r="0.5" fill="#fff"/><path d="M5.9 11.7 C8.3 11.7 8.1 10.6 8.1 10.6 L8.1 9 L5.7 9 L5.7 8.5 L9 8.5 C10.5 8.5 10.7 7 10.5 5.5 C10.3 4 9.6 3.4 8.7 3.4 L7.6 3.4 L7.6 5 C7.6 6.1 6.7 6.8 5.7 6.8 L3.2 6.8 C2.3 6.8 1.7 7.5 1.7 8.4 L1.7 10.4 C1.7 11.2 2.5 11.7 5.9 11.7 Z" fill="#f2c842"/></g>
<rect x="349.3" y="443.1" width="10.8" height="10.6" rx="1.8" fill="#f2f8ee" stroke="#7db86c" stroke-width="1.3"/>
<path d="M352.1 447.8 L354.4 450.6 L360.6 443.2" fill="none" stroke="#5aa648" stroke-width="1.7"/>
<text transform="translate(292.6,466.7) scale(0.958,1)" font-size="8.35" font-weight="normal" text-anchor="middle" fill="#222" >moETM</text>
<text transform="translate(321.9,466.7) scale(0.958,1)" font-size="8.35" font-weight="normal" text-anchor="middle" fill="#222" >U</text>
<g transform="translate(337.5,463.1) scale(1.12) translate(-5.2,-6)"><path d="M4.6 0.3 C2.2 0.3 2.4 1.4 2.4 1.4 L2.4 3 L4.8 3 L4.8 3.5 L1.5 3.5 C0 3.5 -0.2 5 0 6.5 C0.2 8 0.9 8.6 1.8 8.6 L2.9 8.6 L2.9 7 C2.9 5.9 3.8 5.2 4.8 5.2 L7.3 5.2 C8.2 5.2 8.8 4.5 8.8 3.6 L8.8 1.6 C8.8 0.8 8 0.3 4.6 0.3 Z" fill="#3b72a8"/><circle cx="3.4" cy="1.6" r="0.5" fill="#fff"/><path d="M5.9 11.7 C8.3 11.7 8.1 10.6 8.1 10.6 L8.1 9 L5.7 9 L5.7 8.5 L9 8.5 C10.5 8.5 10.7 7 10.5 5.5 C10.3 4 9.6 3.4 8.7 3.4 L7.6 3.4 L7.6 5 C7.6 6.1 6.7 6.8 5.7 6.8 L3.2 6.8 C2.3 6.8 1.7 7.5 1.7 8.4 L1.7 10.4 C1.7 11.2 2.5 11.7 5.9 11.7 Z" fill="#f2c842"/></g>
<rect x="349.3" y="457.8" width="10.8" height="10.6" rx="1.8" fill="#f2f8ee" stroke="#7db86c" stroke-width="1.3"/>
<path d="M352.1 462.4 L354.4 465.2 L360.6 457.9" fill="none" stroke="#5aa648" stroke-width="1.7"/>
<text transform="translate(292.6,481.4) scale(0.958,1)" font-size="8.35" font-weight="normal" text-anchor="middle" fill="#222" >scMM</text>
<text transform="translate(321.9,481.4) scale(0.958,1)" font-size="8.35" font-weight="normal" text-anchor="middle" fill="#222" >U</text>
<g transform="translate(337.5,477.8) scale(1.12) translate(-5.2,-6)"><path d="M4.6 0.3 C2.2 0.3 2.4 1.4 2.4 1.4 L2.4 3 L4.8 3 L4.8 3.5 L1.5 3.5 C0 3.5 -0.2 5 0 6.5 C0.2 8 0.9 8.6 1.8 8.6 L2.9 8.6 L2.9 7 C2.9 5.9 3.8 5.2 4.8 5.2 L7.3 5.2 C8.2 5.2 8.8 4.5 8.8 3.6 L8.8 1.6 C8.8 0.8 8 0.3 4.6 0.3 Z" fill="#3b72a8"/><circle cx="3.4" cy="1.6" r="0.5" fill="#fff"/><path d="M5.9 11.7 C8.3 11.7 8.1 10.6 8.1 10.6 L8.1 9 L5.7 9 L5.7 8.5 L9 8.5 C10.5 8.5 10.7 7 10.5 5.5 C10.3 4 9.6 3.4 8.7 3.4 L7.6 3.4 L7.6 5 C7.6 6.1 6.7 6.8 5.7 6.8 L3.2 6.8 C2.3 6.8 1.7 7.5 1.7 8.4 L1.7 10.4 C1.7 11.2 2.5 11.7 5.9 11.7 Z" fill="#f2c842"/></g>
<rect x="349.3" y="472.4" width="10.8" height="10.6" rx="1.8" fill="#f2f8ee" stroke="#7db86c" stroke-width="1.3"/>
<path d="M352.1 477.1 L354.4 479.9 L360.6 472.6" fill="none" stroke="#5aa648" stroke-width="1.7"/>
<rect x="371.2" y="412.2" width="14.1" height="13.5" fill="#253468" stroke="#262626" stroke-width="1.0"/>
<text transform="translate(378.2,421.9) scale(0.958,1)" font-size="8.35" font-weight="normal" text-anchor="middle" fill="#fff" fill-opacity="0.9">1</text>
<rect x="392.0" y="412.2" width="14.1" height="13.5" fill="#253468" stroke="#262626" stroke-width="1.0"/>
<text transform="translate(399.1,421.9) scale(0.958,1)" font-size="8.35" font-weight="normal" text-anchor="middle" fill="#fff" fill-opacity="0.9">1</text>
<rect x="407.8" y="412.2" width="14.1" height="13.5" fill="#253468" stroke="#262626" stroke-width="1.0"/>
<text transform="translate(414.9,421.9) scale(0.958,1)" font-size="8.35" font-weight="normal" text-anchor="middle" fill="#fff" fill-opacity="0.9">1</text>
<rect x="423.8" y="412.2" width="14.1" height="13.5" fill="#253468" stroke="#262626" stroke-width="1.0"/>
<text transform="translate(430.9,421.9) scale(0.958,1)" font-size="8.35" font-weight="normal" text-anchor="middle" fill="#fff" fill-opacity="0.9">1</text>
<rect x="439.9" y="412.2" width="14.1" height="13.5" fill="#253468" stroke="#262626" stroke-width="1.0"/>
<text transform="translate(447.0,421.9) scale(0.958,1)" font-size="8.35" font-weight="normal" text-anchor="middle" fill="#fff" fill-opacity="0.9">1</text>
<rect x="455.8" y="412.2" width="14.1" height="13.5" fill="#253468" stroke="#262626" stroke-width="1.0"/>
<text transform="translate(462.9,421.9) scale(0.958,1)" font-size="8.35" font-weight="normal" text-anchor="middle" fill="#fff" fill-opacity="0.9">1</text>
<rect x="371.2" y="426.9" width="11.3" height="13.5" fill="#3a88c0" stroke="#262626" stroke-width="1.0"/>
<text transform="translate(376.8,436.5) scale(0.958,1)" font-size="8.35" font-weight="normal" text-anchor="middle" fill="#fff" fill-opacity="0.9">2</text>
<rect x="392.0" y="426.9" width="11.3" height="13.5" fill="#2f78b5" stroke="#262626" stroke-width="1.0"/>
<text transform="translate(397.6,436.5) scale(0.958,1)" font-size="8.35" font-weight="normal" text-anchor="middle" fill="#fff" fill-opacity="0.9">2</text>
<rect x="407.8" y="426.9" width="5.0" height="13.5" fill="#aad0e8" stroke="#262626" stroke-width="1.0"/>
<rect x="423.8" y="426.9" width="7.0" height="13.5" fill="#4a98cc" stroke="#262626" stroke-width="1.0"/>
<text transform="translate(427.3,436.5) scale(0.958,1)" font-size="8.35" font-weight="normal" text-anchor="middle" fill="#fff" fill-opacity="0.9">3</text>
<rect x="439.9" y="426.9" width="11.3" height="13.5" fill="#2f78b5" stroke="#262626" stroke-width="1.0"/>
<text transform="translate(445.6,436.5) scale(0.958,1)" font-size="8.35" font-weight="normal" text-anchor="middle" fill="#fff" fill-opacity="0.9">2</text>
<rect x="455.8" y="426.9" width="11.3" height="13.5" fill="#3a88c0" stroke="#262626" stroke-width="1.0"/>
<text transform="translate(461.4,436.5) scale(0.958,1)" font-size="8.35" font-weight="normal" text-anchor="middle" fill="#fff" fill-opacity="0.9">2</text>
<rect x="371.2" y="441.6" width="11.3" height="13.5" fill="#4aa0d0" stroke="#262626" stroke-width="1.0"/>
<text transform="translate(376.8,451.2) scale(0.958,1)" font-size="8.35" font-weight="normal" text-anchor="middle" fill="#fff" fill-opacity="0.9">2</text>
<rect x="392.0" y="441.6" width="7.0" height="13.5" fill="#6ab0d8" stroke="#262626" stroke-width="1.0"/>
<text transform="translate(395.5,451.2) scale(0.958,1)" font-size="8.35" font-weight="normal" text-anchor="middle" fill="#fff" fill-opacity="0.9">3</text>
<rect x="407.8" y="441.6" width="11.3" height="13.5" fill="#2a65a5" stroke="#262626" stroke-width="1.0"/>
<text transform="translate(413.4,451.2) scale(0.958,1)" font-size="8.35" font-weight="normal" text-anchor="middle" fill="#fff" fill-opacity="0.9">2</text>
<rect x="423.8" y="441.6" width="11.3" height="13.5" fill="#2a65a5" stroke="#262626" stroke-width="1.0"/>
<text transform="translate(429.4,451.2) scale(0.958,1)" font-size="8.35" font-weight="normal" text-anchor="middle" fill="#fff" fill-opacity="0.9">2</text>
<rect x="439.9" y="441.6" width="7.0" height="13.5" fill="#5aa8d4" stroke="#262626" stroke-width="1.0"/>
<text transform="translate(443.4,451.2) scale(0.958,1)" font-size="8.35" font-weight="normal" text-anchor="middle" fill="#fff" fill-opacity="0.9">3</text>
<rect x="455.8" y="441.6" width="7.0" height="13.5" fill="#6ab0d8" stroke="#262626" stroke-width="1.0"/>
<text transform="translate(459.3,451.2) scale(0.958,1)" font-size="8.35" font-weight="normal" text-anchor="middle" fill="#fff" fill-opacity="0.9">3</text>
<rect x="371.2" y="456.3" width="5.5" height="13.5" fill="#aad0e8" stroke="#262626" stroke-width="1.0"/>
<rect x="392.0" y="456.3" width="5.0" height="13.5" fill="#aad0e8" stroke="#262626" stroke-width="1.0"/>
<rect x="407.8" y="456.3" width="8.0" height="13.5" fill="#4a98cc" stroke="#262626" stroke-width="1.0"/>
<text transform="translate(411.8,465.9) scale(0.958,1)" font-size="8.35" font-weight="normal" text-anchor="middle" fill="#fff" fill-opacity="0.9">3</text>
<rect x="423.8" y="456.3" width="4.0" height="13.5" fill="#aad0e8" stroke="#262626" stroke-width="1.0"/>
<rect x="439.9" y="456.3" width="4.5" height="13.5" fill="#aad0e8" stroke="#262626" stroke-width="1.0"/>
<rect x="455.8" y="456.3" width="4.0" height="13.5" fill="#aad0e8" stroke="#262626" stroke-width="1.0"/>
<rect x="371.2" y="471.0" width="3.2" height="13.5" fill="#fff" stroke="#262626" stroke-width="1.0"/>
<rect x="392.0" y="471.0" width="3.2" height="13.5" fill="#fff" stroke="#262626" stroke-width="1.0"/>
<rect x="407.8" y="471.0" width="3.2" height="13.5" fill="#fff" stroke="#262626" stroke-width="1.0"/>
<rect x="423.8" y="471.0" width="3.2" height="13.5" fill="#fff" stroke="#262626" stroke-width="1.0"/>
<rect x="439.9" y="471.0" width="3.2" height="13.5" fill="#fff" stroke="#262626" stroke-width="1.0"/>
<rect x="455.8" y="471.0" width="3.2" height="13.5" fill="#fff" stroke="#262626" stroke-width="1.0"/>
<rect x="472.6" y="412.2" width="10.5" height="13.5" fill="#c03068" stroke="#262626" stroke-width="1.0"/>
<text transform="translate(477.9,421.9) scale(0.958,1)" font-size="8.35" font-weight="normal" text-anchor="middle" fill="#fff" fill-opacity="0.9">2</text>
<rect x="493.4" y="412.2" width="14.1" height="13.5" fill="#6c1a30" stroke="#262626" stroke-width="1.0"/>
<text transform="translate(500.4,421.9) scale(0.958,1)" font-size="8.35" font-weight="normal" text-anchor="middle" fill="#fff" fill-opacity="0.9">1</text>
<rect x="509.2" y="412.2" width="8.5" height="13.5" fill="#e0449a" stroke="#262626" stroke-width="1.0"/>
<text transform="translate(513.5,421.9) scale(0.958,1)" font-size="8.35" font-weight="normal" text-anchor="middle" fill="#fff" fill-opacity="0.9">3</text>
<rect x="525.0" y="412.2" width="9.0" height="13.5" fill="#e050a0" stroke="#262626" stroke-width="1.0"/>
<text transform="translate(529.5,421.9) scale(0.958,1)" font-size="8.35" font-weight="normal" text-anchor="middle" fill="#fff" fill-opacity="0.9">2</text>
<rect x="541.2" y="412.2" width="13.0" height="13.5" fill="#6c1a30" stroke="#262626" stroke-width="1.0"/>
<text transform="translate(547.7,421.9) scale(0.958,1)" font-size="8.35" font-weight="normal" text-anchor="middle" fill="#fff" fill-opacity="0.9">1</text>
<rect x="556.6" y="412.2" width="11.3" height="13.5" fill="#c03068" stroke="#262626" stroke-width="1.0"/>
<text transform="translate(562.2,421.9) scale(0.958,1)" font-size="8.35" font-weight="normal" text-anchor="middle" fill="#fff" fill-opacity="0.9">2</text>
<rect x="472.6" y="426.9" width="14.1" height="13.5" fill="#6c1a30" stroke="#262626" stroke-width="1.0"/>
<text transform="translate(479.7,436.5) scale(0.958,1)" font-size="8.35" font-weight="normal" text-anchor="middle" fill="#fff" fill-opacity="0.9">1</text>
<rect x="493.4" y="426.9" width="14.1" height="13.5" fill="#6c1a30" stroke="#262626" stroke-width="1.0"/>
<text transform="translate(500.4,436.5) scale(0.958,1)" font-size="8.35" font-weight="normal" text-anchor="middle" fill="#fff" fill-opacity="0.9">1</text>
<rect x="509.2" y="426.9" width="14.1" height="13.5" fill="#6c1a30" stroke="#262626" stroke-width="1.0"/>
<text transform="translate(516.2,436.5) scale(0.958,1)" font-size="8.35" font-weight="normal" text-anchor="middle" fill="#fff" fill-opacity="0.9">1</text>
<rect x="525.0" y="426.9" width="14.1" height="13.5" fill="#6c1a30" stroke="#262626" stroke-width="1.0"/>
<text transform="translate(532.0,436.5) scale(0.958,1)" font-size="8.35" font-weight="normal" text-anchor="middle" fill="#fff" fill-opacity="0.9">1</text>
<rect x="541.2" y="426.9" width="14.1" height="13.5" fill="#6c1a30" stroke="#262626" stroke-width="1.0"/>
<text transform="translate(548.2,436.5) scale(0.958,1)" font-size="8.35" font-weight="normal" text-anchor="middle" fill="#fff" fill-opacity="0.9">1</text>
<rect x="556.6" y="426.9" width="14.1" height="13.5" fill="#6c1a30" stroke="#262626" stroke-width="1.0"/>
<text transform="translate(563.6,436.5) scale(0.958,1)" font-size="8.35" font-weight="normal" text-anchor="middle" fill="#fff" fill-opacity="0.9">1</text>
<rect x="472.6" y="441.6" width="7.9" height="13.5" fill="#d890c8" stroke="#262626" stroke-width="1.0"/>
<text transform="translate(476.6,451.2) scale(0.958,1)" font-size="8.35" font-weight="normal" text-anchor="middle" fill="#fff" fill-opacity="0.9">3</text>
<rect x="493.4" y="441.6" width="7.9" height="13.5" fill="#e0449a" stroke="#262626" stroke-width="1.0"/>
<text transform="translate(497.3,451.2) scale(0.958,1)" font-size="8.35" font-weight="normal" text-anchor="middle" fill="#fff" fill-opacity="0.9">3</text>
<rect x="509.2" y="441.6" width="5.3" height="13.5" fill="#d890c8" stroke="#262626" stroke-width="1.0"/>
<rect x="525.0" y="441.6" width="7.9" height="13.5" fill="#d880c0" stroke="#262626" stroke-width="1.0"/>
<text transform="translate(529.0,451.2) scale(0.958,1)" font-size="8.35" font-weight="normal" text-anchor="middle" fill="#fff" fill-opacity="0.9">3</text>
<rect x="541.2" y="441.6" width="7.9" height="13.5" fill="#e0449a" stroke="#262626" stroke-width="1.0"/>
<text transform="translate(545.2,451.2) scale(0.958,1)" font-size="8.35" font-weight="normal" text-anchor="middle" fill="#fff" fill-opacity="0.9">3</text>
<rect x="556.6" y="441.6" width="5.0" height="13.5" fill="#e8e0f0" stroke="#262626" stroke-width="1.0"/>
<rect x="472.6" y="456.3" width="7.9" height="13.5" fill="#d890c8" stroke="#262626" stroke-width="1.0"/>
<text transform="translate(476.6,465.9) scale(0.958,1)" font-size="8.35" font-weight="normal" text-anchor="middle" fill="#fff" fill-opacity="0.9">3</text>
<rect x="493.4" y="456.3" width="5.3" height="13.5" fill="#d070b0" stroke="#262626" stroke-width="1.0"/>
<rect x="509.2" y="456.3" width="11.3" height="13.5" fill="#e0449a" stroke="#262626" stroke-width="1.0"/>
<text transform="translate(514.9,465.9) scale(0.958,1)" font-size="8.35" font-weight="normal" text-anchor="middle" fill="#fff" fill-opacity="0.9">2</text>
<rect x="525.0" y="456.3" width="5.0" height="13.5" fill="#d890c8" stroke="#262626" stroke-width="1.0"/>
<rect x="541.2" y="456.3" width="5.0" height="13.5" fill="#d070b0" stroke="#262626" stroke-width="1.0"/>
<rect x="556.6" y="456.3" width="8.0" height="13.5" fill="#d8a0d0" stroke="#262626" stroke-width="1.0"/>
<text transform="translate(560.6,465.9) scale(0.958,1)" font-size="8.35" font-weight="normal" text-anchor="middle" fill="#fff" fill-opacity="0.9">3</text>
<rect x="472.6" y="471.0" width="3.7" height="13.5" fill="#fff" stroke="#262626" stroke-width="1.0"/>
<rect x="493.4" y="471.0" width="3.7" height="13.5" fill="#fff" stroke="#262626" stroke-width="1.0"/>
<rect x="509.2" y="471.0" width="3.7" height="13.5" fill="#fff" stroke="#262626" stroke-width="1.0"/>
<rect x="525.0" y="471.0" width="3.7" height="13.5" fill="#fff" stroke="#262626" stroke-width="1.0"/>
<rect x="541.2" y="471.0" width="3.7" height="13.5" fill="#fff" stroke="#262626" stroke-width="1.0"/>
<rect x="556.6" y="471.0" width="3.7" height="13.5" fill="#fff" stroke="#262626" stroke-width="1.0"/>
<rect x="576.6" y="412.2" width="7.0" height="13.5" fill="#a8a0d0" stroke="#262626" stroke-width="1.0"/>
<text transform="translate(580.1,421.9) scale(0.958,1)" font-size="8.35" font-weight="normal" text-anchor="middle" fill="#fff" fill-opacity="0.9">3</text>
<rect x="592.2" y="412.2" width="5.0" height="13.5" fill="#e0dcee" stroke="#262626" stroke-width="1.0"/>
<rect x="608.0" y="412.2" width="7.0" height="13.5" fill="#a8a0d0" stroke="#262626" stroke-width="1.0"/>
<text transform="translate(611.5,421.9) scale(0.958,1)" font-size="8.35" font-weight="normal" text-anchor="middle" fill="#fff" fill-opacity="0.9">3</text>
<rect x="623.8" y="412.2" width="13.0" height="13.5" fill="#3e2b7a" stroke="#262626" stroke-width="1.0"/>
<text transform="translate(630.3,421.9) scale(0.958,1)" font-size="8.35" font-weight="normal" text-anchor="middle" fill="#fff" fill-opacity="0.9">1</text>
<rect x="576.6" y="426.9" width="13.0" height="13.5" fill="#4a3590" stroke="#262626" stroke-width="1.0"/>
<text transform="translate(583.1,436.5) scale(0.958,1)" font-size="8.35" font-weight="normal" text-anchor="middle" fill="#fff" fill-opacity="0.9">1</text>
<rect x="592.2" y="426.9" width="11.3" height="13.5" fill="#8a80c0" stroke="#262626" stroke-width="1.0"/>
<text transform="translate(597.9,436.5) scale(0.958,1)" font-size="8.35" font-weight="normal" text-anchor="middle" fill="#fff" fill-opacity="0.9">2</text>
<rect x="608.0" y="426.9" width="13.0" height="13.5" fill="#4a3590" stroke="#262626" stroke-width="1.0"/>
<text transform="translate(614.5,436.5) scale(0.958,1)" font-size="8.35" font-weight="normal" text-anchor="middle" fill="#fff" fill-opacity="0.9">1</text>
<rect x="623.8" y="426.9" width="11.3" height="13.5" fill="#6a58a8" stroke="#262626" stroke-width="1.0"/>
<text transform="translate(629.4,436.5) scale(0.958,1)" font-size="8.35" font-weight="normal" text-anchor="middle" fill="#fff" fill-opacity="0.9">2</text>
<rect x="576.6" y="441.6" width="3.5" height="13.5" fill="#fff" stroke="#262626" stroke-width="1.0"/>
<rect x="592.2" y="441.6" width="3.5" height="13.5" fill="#fff" stroke="#262626" stroke-width="1.0"/>
<rect x="608.0" y="441.6" width="3.5" height="13.5" fill="#fff" stroke="#262626" stroke-width="1.0"/>
<rect x="623.8" y="441.6" width="5.0" height="13.5" fill="#e0dcee" stroke="#262626" stroke-width="1.0"/>
<rect x="576.6" y="456.3" width="5.0" height="13.5" fill="#d8d4ec" stroke="#262626" stroke-width="1.0"/>
<rect x="592.2" y="456.3" width="8.0" height="13.5" fill="#a8a0d0" stroke="#262626" stroke-width="1.0"/>
<text transform="translate(596.2,465.9) scale(0.958,1)" font-size="8.35" font-weight="normal" text-anchor="middle" fill="#fff" fill-opacity="0.9">3</text>
<rect x="608.0" y="456.3" width="5.0" height="13.5" fill="#d8d4ec" stroke="#262626" stroke-width="1.0"/>
<rect x="623.8" y="456.3" width="3.5" height="13.5" fill="#fff" stroke="#262626" stroke-width="1.0"/>
<rect x="576.6" y="471.0" width="13.0" height="13.5" fill="#3e2b7a" stroke="#262626" stroke-width="1.0"/>
<text transform="translate(583.1,480.6) scale(0.958,1)" font-size="8.35" font-weight="normal" text-anchor="middle" fill="#fff" fill-opacity="0.9">1</text>
<rect x="592.2" y="471.0" width="13.0" height="13.5" fill="#3e2b7a" stroke="#262626" stroke-width="1.0"/>
<text transform="translate(598.7,480.6) scale(0.958,1)" font-size="8.35" font-weight="normal" text-anchor="middle" fill="#fff" fill-opacity="0.9">1</text>
<rect x="608.0" y="471.0" width="11.3" height="13.5" fill="#6a58a8" stroke="#262626" stroke-width="1.0"/>
<text transform="translate(613.6,480.6) scale(0.958,1)" font-size="8.35" font-weight="normal" text-anchor="middle" fill="#fff" fill-opacity="0.9">2</text>
<rect x="623.8" y="471.0" width="11.3" height="13.5" fill="#6a58a8" stroke="#262626" stroke-width="1.0"/>
<text transform="translate(629.4,480.6) scale(0.958,1)" font-size="8.35" font-weight="normal" text-anchor="middle" fill="#fff" fill-opacity="0.9">2</text>
<text transform="translate(645.2,343.7) scale(0.958,1)" font-size="8.35" font-weight="bold" text-anchor="start" fill="#000" >Rank</text>
<text transform="translate(658.9,357.5) scale(0.958,1)" font-size="8.35" font-weight="normal" text-anchor="start" fill="#222" >Top</text>
<rect x="658.5" y="363.5" width="13.8" height="13.2" fill="#fff" stroke="#222" stroke-width="0.8"/>
<rect x="658.5" y="378.6" width="13.8" height="10.7" fill="#fff" stroke="#222" stroke-width="0.8"/>
<rect x="658.5" y="390.0" width="13.8" height="8.7" fill="#fff" stroke="#222" stroke-width="0.8"/>
<rect x="658.5" y="399.6" width="13.8" height="6.0" fill="#fff" stroke="#222" stroke-width="0.8"/>
<rect x="658.5" y="405.6" width="13.8" height="3.8" fill="#fff" stroke="#222" stroke-width="0.8"/>
<text transform="translate(650.9,421.4) scale(0.958,1)" font-size="8.35" font-weight="normal" text-anchor="start" fill="#222" >Bottom</text>
<text transform="translate(644.0,441.1) scale(0.958,1)" font-size="8.35" font-weight="bold" text-anchor="start" fill="#000" >Score</text>
<rect x="649.7" y="447.1" width="7.1" height="32.6" fill="url(#gB)"/>
<rect x="658.7" y="447.1" width="7.1" height="32.6" fill="url(#gM)"/>
<rect x="667.7" y="447.1" width="7.1" height="32.6" fill="url(#gP)"/>
<text transform="translate(678.8,449.7) scale(0.958,1)" font-size="8.35" font-weight="normal" text-anchor="start" fill="#222" >1</text>
<text transform="translate(678.8,480.9) scale(0.958,1)" font-size="8.35" font-weight="normal" text-anchor="start" fill="#222" >0</text>
<text transform="translate(321.8,493.2) rotate(-30.5) scale(0.958,1)" font-size="7.05" text-anchor="end" fill="#222">Learning type</text>
<text transform="translate(339.2,493.2) rotate(-30.5) scale(0.958,1)" font-size="7.05" text-anchor="end" fill="#222">Language</text>
<text transform="translate(356.5,493.2) rotate(-30.5) scale(0.958,1)" font-size="7.05" text-anchor="end" fill="#222">Deep learning</text>
<text transform="translate(372.0,493.2) rotate(-30.5) scale(0.958,1)" font-size="7.05" text-anchor="end" fill="#222">Grand rank</text>
<text transform="translate(389.5,493.2) rotate(-30.5) scale(0.958,1)" font-size="7.05" text-anchor="end" fill="#222">Grand ARI_cellType</text>
<text transform="translate(407.5,493.2) rotate(-30.5) scale(0.958,1)" font-size="7.05" text-anchor="end" fill="#222">Grand ASW_cellType</text>
<text transform="translate(425.5,493.2) rotate(-30.5) scale(0.958,1)" font-size="7.05" text-anchor="end" fill="#222">Grand iASW</text>
<text transform="translate(440.7,493.2) rotate(-30.5) scale(0.958,1)" font-size="7.05" text-anchor="end" fill="#222">Grand iFI</text>
<text transform="translate(457.8,493.2) rotate(-30.5) scale(0.958,1)" font-size="7.05" text-anchor="end" fill="#222">Grand NMI_cellType</text>
<text transform="translate(478.0,493.2) rotate(-30.5) scale(0.958,1)" font-size="7.05" text-anchor="end" fill="#222">Grand rank</text>
<text transform="translate(494.0,493.2) rotate(-30.5) scale(0.958,1)" font-size="7.05" text-anchor="end" fill="#222">Grand AAC</text>
<text transform="translate(511.0,493.2) rotate(-30.5) scale(0.958,1)" font-size="7.05" text-anchor="end" fill="#222">Grand OAC</text>
<text transform="translate(526.0,493.2) rotate(-30.5) scale(0.958,1)" font-size="7.05" text-anchor="end" fill="#222">Grand F1</text>
<text transform="translate(545.0,493.2) rotate(-30.5) scale(0.958,1)" font-size="7.05" text-anchor="end" fill="#222">Grand Sens</text>
<text transform="translate(562.0,493.2) rotate(-30.5) scale(0.958,1)" font-size="7.05" text-anchor="end" fill="#222">Grand Spec</text>
<text transform="translate(575.4,493.2) rotate(-30.5) scale(0.958,1)" font-size="7.05" text-anchor="end" fill="#222">Grand rank</text>
<text transform="translate(592.5,493.2) rotate(-30.5) scale(0.958,1)" font-size="7.05" text-anchor="end" fill="#222">Grand pDES</text>
<text transform="translate(610.5,493.2) rotate(-30.5) scale(0.958,1)" font-size="7.05" text-anchor="end" fill="#222">Grand pFCS</text>
<text transform="translate(630.5,493.2) rotate(-30.5) scale(0.958,1)" font-size="7.05" text-anchor="end" fill="#222">Grand sMSE</text>
<path d="M40.4 43.1C41.7 42.4 45.0 44.8 47.2 45.6C49.3 46.4 51.3 47.4 53.4 48.1C55.4 48.7 58.3 48.8 59.6 49.3C60.8 49.8 60.9 50.4 60.8 51.2C60.7 51.9 59.0 52.4 58.9 53.6C58.8 54.9 59.8 57.5 60.2 58.6C60.6 59.7 61.9 59.8 61.4 60.4C60.9 61.1 58.0 61.5 57.1 62.3C56.2 63.1 56.4 64.7 55.8 65.4C55.3 66.1 54.6 66.8 54.0 66.6C53.4 66.4 53.3 65.0 52.1 64.2C51.0 63.3 48.8 62.5 47.2 61.7C45.5 60.9 43.5 60.3 42.2 59.2C41.0 58.1 40.3 56.4 39.7 54.9C39.2 53.3 39.0 51.9 39.1 49.9C39.2 48.0 39.0 43.8 40.4 43.1Z" fill="#c4626d" fill-opacity="1" stroke="#c4626d" stroke-width="0.4"/>
<path d="M56.1 52.4C56.8 51.6 58.7 50.7 59.3 51.2C59.9 51.6 59.4 53.6 59.6 54.9C59.7 56.1 59.9 57.7 60.2 58.6C60.5 59.5 61.9 59.8 61.4 60.4C60.9 61.1 58.0 61.5 57.1 62.3C56.2 63.1 56.4 64.7 55.8 65.4C55.3 66.1 54.6 66.9 54.0 66.6C53.4 66.4 52.4 64.8 52.4 63.8C52.3 62.8 53.2 61.7 53.6 60.4C54.0 59.2 54.4 57.5 54.9 56.1C55.3 54.8 55.4 53.2 56.1 52.4Z" fill="#ef8e2a" fill-opacity="1" stroke="#ef8e2a" stroke-width="0.4"/>
<path d="M50.9 58.6C51.3 58.0 53.2 58.0 53.6 58.6C54.0 59.2 53.5 61.7 53.1 62.3C52.7 62.9 51.5 62.7 51.1 62.1C50.8 61.4 50.5 59.2 50.9 58.6Z" fill="#e8904a" fill-opacity="0.8" stroke="#e8904a" stroke-width="0.4"/>
<path d="M58.9 51.8C59.5 51.4 61.9 51.5 62.7 51.8C63.4 52.1 63.8 53.3 63.3 53.6C62.8 54.0 60.3 54.2 59.6 53.9C58.8 53.6 58.4 52.1 58.9 51.8Z" fill="#70c8e0" fill-opacity="1" stroke="#70c8e0" stroke-width="0.4"/>
<path d="M18.1 58.6C18.7 57.6 20.5 56.9 21.8 56.7C23.0 56.5 24.5 56.7 25.5 57.3C26.5 58.0 28.0 59.2 28.0 60.4C28.0 61.7 26.5 64.0 25.5 64.8C24.5 65.6 23.0 65.7 21.8 65.4C20.5 65.1 18.7 64.1 18.1 62.9C17.4 61.8 17.4 59.6 18.1 58.6Z" fill="#6f7f78" fill-opacity="1" stroke="#6f7f78" stroke-width="0.4"/>
<path d="M24.6 58.3C25.3 58.1 27.8 59.5 28.0 60.4C28.2 61.4 26.5 64.0 25.9 64.2C25.2 64.4 24.1 62.7 23.9 61.7C23.7 60.7 23.9 58.5 24.6 58.3Z" fill="#3a9a6a" fill-opacity="1" stroke="#3a9a6a" stroke-width="0.4"/>
<path d="M28.6 83.4C28.7 82.1 29.7 79.1 30.4 77.2C31.2 75.2 31.8 72.6 32.9 71.6C34.1 70.6 35.9 70.7 37.3 71.0C38.6 71.3 40.0 73.7 41.0 73.5C41.9 73.3 42.0 70.4 42.8 69.7C43.7 69.1 45.2 69.2 45.9 69.7C46.7 70.3 47.4 71.9 47.2 72.8C47.0 73.8 45.8 74.6 44.7 75.3C43.6 76.0 41.8 76.5 40.4 77.2C38.9 77.9 37.5 78.7 36.0 79.7C34.6 80.6 32.7 81.9 31.7 82.8C30.7 83.6 30.3 84.5 29.8 84.6C29.3 84.7 28.5 84.6 28.6 83.4Z" fill="#92a879" fill-opacity="1" stroke="#92a879" stroke-width="0.4"/>
<path d="M41.6 71.0C42.3 69.9 44.3 69.2 45.3 69.5C46.3 69.7 47.5 71.6 47.4 72.5C47.4 73.4 46.0 74.3 44.9 74.9C43.9 75.6 41.5 76.8 41.0 76.2C40.4 75.5 40.9 72.1 41.6 71.0Z" fill="#d86ca0" fill-opacity="1" stroke="#d86ca0" stroke-width="0.4"/>
<circle cx="32.9" cy="75.3" r="0.7" fill="#8a1a40"/>
<circle cx="41.0" cy="75.9" r="0.9" fill="#8a1a40"/>
<path d="M13.7 78.4C14.1 77.9 15.7 77.0 16.8 77.2C18.0 77.4 19.3 78.6 20.5 79.7C21.8 80.7 23.8 82.5 24.3 83.4C24.7 84.2 23.9 84.8 23.0 84.6C22.1 84.4 20.1 82.9 18.7 82.1C17.2 81.4 15.2 80.9 14.3 80.3C13.5 79.7 13.3 78.9 13.7 78.4Z" fill="#92a879" fill-opacity="1" stroke="#92a879" stroke-width="0.4"/>
<path d="M54.0 74.7C54.3 73.5 55.7 75.3 57.1 75.9C58.4 76.6 60.7 77.8 62.0 78.4C63.4 79.0 63.9 78.8 65.1 79.7C66.4 80.5 67.9 82.2 69.5 83.4C71.0 84.5 73.6 85.5 74.4 86.5C75.3 87.4 75.3 88.1 74.4 88.9C73.6 89.8 71.1 90.7 69.5 91.4C67.8 92.1 66.0 93.2 64.5 93.3C63.1 93.4 62.0 92.8 60.8 92.0C59.6 91.3 58.0 90.4 57.1 88.9C56.2 87.5 55.7 85.7 55.2 83.4C54.7 81.0 53.7 75.9 54.0 74.7Z" fill="#808080" fill-opacity="1" stroke="#808080" stroke-width="0.4"/>
<clipPath id="cp1_13"><path d="M54.0 74.7C54.3 73.5 55.7 75.3 57.1 75.9C58.4 76.6 60.7 77.8 62.0 78.4C63.4 79.0 63.9 78.8 65.1 79.7C66.4 80.5 67.9 82.2 69.5 83.4C71.0 84.5 73.6 85.5 74.4 86.5C75.3 87.4 75.3 88.1 74.4 88.9C73.6 89.8 71.1 90.7 69.5 91.4C67.8 92.1 66.0 93.2 64.5 93.3C63.1 93.4 62.0 92.8 60.8 92.0C59.6 91.3 58.0 90.4 57.1 88.9C56.2 87.5 55.7 85.7 55.2 83.4C54.7 81.0 53.7 75.9 54.0 74.7Z"/></clipPath><g clip-path="url(#cp1_13)"><circle cx="59.3" cy="87.4" r="0.5" fill="#b090c0"/><circle cx="70.4" cy="91.2" r="0.5" fill="#b090c0"/><circle cx="58.7" cy="77.4" r="0.5" fill="#9a88b8"/><circle cx="67.1" cy="78.2" r="0.5" fill="#9a88b8"/><circle cx="64.9" cy="78.7" r="0.5" fill="#6a6a90"/><circle cx="54.6" cy="77.0" r="0.5" fill="#b090c0"/><circle cx="66.4" cy="75.0" r="0.5" fill="#6a6a90"/><circle cx="71.0" cy="76.3" r="0.5" fill="#6a6a90"/><circle cx="70.9" cy="88.5" r="0.5" fill="#9a88b8"/><circle cx="70.2" cy="79.5" r="0.5" fill="#9a88b8"/><circle cx="63.9" cy="88.7" r="0.5" fill="#b090c0"/><circle cx="74.1" cy="87.2" r="0.5" fill="#6a6a90"/><circle cx="67.0" cy="86.9" r="0.5" fill="#6a6a90"/><circle cx="70.7" cy="89.5" r="0.5" fill="#6a6a90"/><circle cx="68.1" cy="85.0" r="0.5" fill="#b090c0"/><circle cx="74.2" cy="82.9" r="0.5" fill="#b090c0"/><circle cx="63.1" cy="78.0" r="0.5" fill="#9a88b8"/><circle cx="57.7" cy="81.3" r="0.5" fill="#6a6a90"/><circle cx="63.4" cy="86.0" r="0.5" fill="#6a6a90"/><circle cx="72.2" cy="85.4" r="0.5" fill="#b090c0"/><circle cx="58.8" cy="79.1" r="0.5" fill="#9a88b8"/><circle cx="68.3" cy="77.1" r="0.5" fill="#6a6a90"/><circle cx="67.3" cy="92.4" r="0.5" fill="#6a6a90"/><circle cx="54.0" cy="82.6" r="0.5" fill="#9a88b8"/><circle cx="58.6" cy="84.0" r="0.5" fill="#b090c0"/><circle cx="71.1" cy="86.6" r="0.5" fill="#9a88b8"/><circle cx="69.0" cy="88.4" r="0.5" fill="#6a6a90"/><circle cx="72.1" cy="89.6" r="0.5" fill="#9a88b8"/><circle cx="68.4" cy="86.4" r="0.5" fill="#b090c0"/><circle cx="68.6" cy="77.2" r="0.5" fill="#b090c0"/></g>
<path d="M64.5 80.9C65.7 80.7 67.8 82.4 69.5 83.4C71.1 84.3 73.6 85.5 74.4 86.5C75.3 87.4 75.3 88.1 74.4 88.9C73.6 89.8 71.1 90.7 69.5 91.4C67.8 92.1 65.8 93.6 64.5 93.3C63.3 93.0 62.4 91.0 62.0 89.6C61.7 88.1 62.3 86.1 62.7 84.6C63.1 83.2 63.4 81.1 64.5 80.9Z" fill="#c39bd3" fill-opacity="1" stroke="#c39bd3" stroke-width="0.4"/>
<path d="M54.0 74.7C54.5 74.1 57.0 74.9 57.7 75.9C58.4 77.0 58.6 79.8 58.3 80.9C58.1 82.0 56.7 83.0 56.1 82.8C55.5 82.5 55.2 81.0 54.9 79.7C54.5 78.3 53.5 75.3 54.0 74.7Z" fill="#5b5ba0" fill-opacity="1" stroke="#5b5ba0" stroke-width="0.4"/>
<path d="M57.1 77.2C57.5 76.5 59.8 77.4 60.2 78.4C60.6 79.4 60.0 82.6 59.6 83.4C59.2 84.1 58.1 83.8 57.7 82.8C57.3 81.7 56.7 77.9 57.1 77.2Z" fill="#d0a0c8" fill-opacity="0.8" stroke="#d0a0c8" stroke-width="0.4"/>
<path d="M38.3 80.3C38.7 79.6 39.9 79.0 40.4 79.4C40.8 79.8 40.6 82.0 41.0 82.8C41.3 83.5 42.4 83.5 42.5 84.0C42.6 84.5 42.2 85.2 41.6 85.6C41.0 86.0 39.9 86.0 38.7 86.5C37.6 86.9 35.9 87.8 34.8 88.3C33.7 88.8 32.1 89.9 32.1 89.6C32.1 89.2 33.9 87.1 34.8 86.1C35.7 85.1 36.9 84.3 37.5 83.4C38.1 82.4 37.8 80.9 38.3 80.3Z" fill="#5b5ba0" fill-opacity="1" stroke="#5b5ba0" stroke-width="0.4"/>
<path d="M40.4 82.8C40.9 82.4 43.2 82.8 43.7 83.4C44.2 83.9 43.7 85.7 43.2 86.1C42.7 86.5 41.2 86.2 40.7 85.6C40.3 85.0 39.9 83.1 40.4 82.8Z" fill="#70c8e0" fill-opacity="1" stroke="#70c8e0" stroke-width="0.4"/>
<path d="M25.5 92.7C26.1 91.6 28.3 90.2 29.8 89.6C31.4 88.9 33.6 88.5 34.8 88.9C35.9 89.4 36.6 90.7 36.6 92.0C36.6 93.4 35.9 96.1 34.8 97.0C33.6 97.9 31.3 97.8 29.8 97.6C28.4 97.4 26.8 96.6 26.1 95.8C25.4 94.9 24.9 93.7 25.5 92.7Z" fill="#bcc63a" fill-opacity="1" stroke="#bcc63a" stroke-width="0.4"/>
<path d="M38.5 95.8C39.1 95.5 41.7 96.9 42.5 97.6C43.2 98.3 43.5 99.8 42.8 100.1C42.2 100.4 39.5 100.2 38.7 99.5C38.0 98.8 37.9 96.1 38.5 95.8Z" fill="#92a879" fill-opacity="1" stroke="#92a879" stroke-width="0.4"/>
<path d="M34.2 92.0C34.8 91.3 36.4 90.4 37.3 90.8C38.1 91.2 38.9 92.9 39.1 94.5C39.3 96.2 39.0 99.3 38.5 100.7C38.0 102.2 37.1 102.9 36.0 103.2C35.0 103.5 33.0 103.4 32.3 102.6C31.6 101.8 31.5 99.5 31.7 98.2C31.9 97.0 33.1 96.2 33.5 95.1C34.0 94.1 33.5 92.8 34.2 92.0Z" fill="#1f3f80" fill-opacity="1" stroke="#1f3f80" stroke-width="0.4"/>
<circle cx="47.8" cy="92.0" r="1.3" fill="#70c8e0"/>
<path d="M105.5 60.4C106.4 59.3 108.2 58.5 109.9 58.0C111.5 57.5 113.9 57.0 115.4 57.3C117.0 57.7 118.5 58.6 119.2 59.8C119.8 61.1 119.4 63.1 119.2 64.8C119.0 66.4 117.9 68.1 117.9 69.7C117.9 71.4 118.9 73.0 119.2 74.7C119.5 76.3 119.8 78.0 119.8 79.7C119.8 81.3 119.6 83.7 119.2 84.6C118.8 85.5 117.7 86.1 117.3 85.2C116.9 84.4 117.0 81.4 116.7 79.7C116.4 77.9 116.0 76.0 115.4 74.7C114.9 73.4 114.2 72.3 113.6 71.6C113.0 70.9 112.3 70.0 111.7 70.4C111.1 70.7 110.6 72.7 109.9 73.5C109.1 74.2 108.1 75.1 107.4 74.7C106.7 74.3 106.0 72.6 105.5 71.0C105.1 69.3 104.7 66.5 104.7 64.8C104.7 63.0 104.7 61.6 105.5 60.4Z" fill="#c4626d" fill-opacity="1" stroke="#c4626d" stroke-width="0.4"/>
<path d="M107.4 71.0C108.1 70.3 110.3 69.9 111.1 70.4C111.9 70.8 112.3 72.1 112.3 73.5C112.3 74.8 111.6 77.2 111.1 78.4C110.6 79.7 109.9 80.9 109.3 80.9C108.6 80.9 107.7 79.4 107.4 78.4C107.0 77.4 107.1 75.9 107.1 74.7C107.1 73.5 106.7 71.7 107.4 71.0Z" fill="#ef8e2a" fill-opacity="1" stroke="#ef8e2a" stroke-width="0.4"/>
<path d="M105.5 69.7C105.7 69.0 107.0 68.7 107.4 69.1C107.8 69.5 108.2 71.5 108.0 72.2C107.8 73.0 106.6 74.1 106.2 73.7C105.7 73.3 105.3 70.5 105.5 69.7Z" fill="#8a1a40" fill-opacity="1" stroke="#8a1a40" stroke-width="0.4"/>
<path d="M134.7 49.9C135.5 48.9 137.3 47.5 139.0 46.8C140.6 46.1 143.2 45.5 144.6 45.6C145.9 45.7 146.8 46.5 147.0 47.4C147.3 48.4 146.5 50.2 145.8 51.2C145.1 52.1 143.2 52.2 142.7 53.0C142.2 53.8 142.9 55.6 142.7 56.1C142.5 56.6 141.9 56.7 141.5 56.1C141.1 55.5 140.8 53.0 140.2 52.4C139.6 51.8 138.5 52.1 137.8 52.4C137.0 52.7 136.5 54.1 135.9 54.3C135.3 54.4 134.2 53.7 134.0 53.0C133.8 52.3 133.8 50.9 134.7 49.9Z" fill="#808080" fill-opacity="1" stroke="#808080" stroke-width="0.4"/>
<path d="M145.2 44.3C146.0 43.8 148.2 43.3 149.5 43.7C150.9 44.1 152.7 45.6 153.2 46.8C153.8 48.1 153.2 50.2 152.6 51.2C152.0 52.1 150.7 52.5 149.5 52.4C148.4 52.3 146.6 51.5 145.8 50.5C145.0 49.6 144.7 47.8 144.6 46.8C144.5 45.8 144.4 44.9 145.2 44.3Z" fill="#c39bd3" fill-opacity="1" stroke="#c39bd3" stroke-width="0.4"/>
<polyline points="135.3,53.9 137.8,58.6 140.2,63.5 142.7,67.9 143.6,70.0" fill="none" stroke="#5b6fa8" stroke-width="2.2" stroke-linecap="round" stroke-linejoin="round"/>
<polyline points="132.2,61.1 134.0,58.6" fill="none" stroke="#d86ca0" stroke-width="2.2" stroke-linecap="round" stroke-linejoin="round"/>
<polyline points="144.3,66.6 145.8,68.7" fill="none" stroke="#d04a70" stroke-width="2.2" stroke-linecap="round" stroke-linejoin="round"/>
<path d="M132.2 73.5C132.8 72.5 135.5 72.1 137.1 71.6C138.8 71.1 140.4 70.9 142.1 70.4C143.7 69.8 145.5 68.9 147.0 68.5C148.6 68.1 150.5 67.5 151.4 67.9C152.3 68.3 152.7 70.0 152.6 71.0C152.5 71.9 151.9 72.9 150.8 73.5C149.6 74.0 147.5 73.8 145.8 74.1C144.2 74.4 142.4 75.0 140.8 75.3C139.3 75.6 137.8 75.6 136.5 75.9C135.3 76.2 134.1 77.6 133.4 77.2C132.7 76.8 131.6 74.4 132.2 73.5Z" fill="#bcc63a" fill-opacity="1" stroke="#bcc63a" stroke-width="0.4"/>
<path d="M142.1 71.0C142.7 70.3 145.7 69.3 147.0 69.1C148.4 68.9 150.1 69.2 150.1 69.7C150.1 70.3 148.2 71.8 147.0 72.5C145.9 73.1 144.2 73.7 143.3 73.5C142.5 73.2 141.5 71.7 142.1 71.0Z" fill="#8fb04a" fill-opacity="1" stroke="#8fb04a" stroke-width="0.4"/>
<path d="M151.4 69.1C152.1 68.3 154.7 69.1 155.7 69.7C156.8 70.4 157.4 71.7 157.6 72.8C157.8 74.0 157.7 75.8 157.0 76.6C156.2 77.3 154.2 77.5 153.2 77.2C152.3 76.9 151.7 76.0 151.4 74.7C151.1 73.4 150.7 69.9 151.4 69.1Z" fill="#1f3f80" fill-opacity="1" stroke="#1f3f80" stroke-width="0.4"/>
<path d="M131.6 74.1C131.7 73.4 133.6 72.9 134.4 73.2C135.2 73.5 136.3 75.3 136.1 75.9C136.0 76.6 134.2 77.5 133.4 77.2C132.6 76.9 131.4 74.7 131.6 74.1Z" fill="#70c8e0" fill-opacity="1" stroke="#70c8e0" stroke-width="0.4"/>
<path d="M124.1 82.8C124.3 82.5 126.1 85.7 127.2 85.8C128.4 86.0 129.7 84.2 130.9 83.4C132.2 82.5 133.8 81.9 134.7 80.9C135.5 79.9 135.6 77.0 135.9 77.2C136.2 77.4 136.5 80.3 136.5 82.1C136.5 84.0 136.4 87.0 135.9 88.3C135.4 89.7 134.7 90.0 133.4 90.2C132.2 90.4 129.7 90.1 128.5 89.6C127.2 89.0 126.7 88.2 126.0 87.1C125.3 86.0 123.9 83.0 124.1 82.8Z" fill="#92a879" fill-opacity="1" stroke="#92a879" stroke-width="0.4"/>
<path d="M125.4 100.1C126.0 99.6 127.7 99.2 129.1 98.9C130.4 98.6 132.2 98.4 133.4 98.2C134.7 98.0 135.8 97.2 136.5 97.6C137.2 98.0 137.9 99.8 137.8 100.7C137.6 101.6 136.8 102.9 135.9 103.2C135.0 103.5 133.5 102.7 132.2 102.6C130.8 102.5 129.0 102.7 127.8 102.6C126.7 102.5 125.8 102.4 125.4 102.0C124.9 101.5 124.7 100.6 125.4 100.1Z" fill="#6f7f78" fill-opacity="1" stroke="#6f7f78" stroke-width="0.4"/>
<path d="M125.4 99.7C125.8 99.3 127.7 98.8 128.2 99.2C128.7 99.7 128.9 102.1 128.5 102.6C128.0 103.0 125.9 102.4 125.4 102.0C124.8 101.5 124.9 100.2 125.4 99.7Z" fill="#3a9a6a" fill-opacity="1" stroke="#3a9a6a" stroke-width="0.4"/>
<circle cx="99.0" cy="74.4" r="1.6" fill="#6ab0b0"/>
<circle cx="96.9" cy="69.1" r="0.7" fill="#5a8a9a"/>
<polyline points="112.3,90.2 113.6,94.5" fill="none" stroke="#d86ca0" stroke-width="1.6" stroke-linecap="round" stroke-linejoin="round"/>
<circle cx="118.2" cy="91.4" r="1.1" fill="#a8d08d"/>
<circle cx="119.8" cy="98.2" r="0.9" fill="#20a080"/>
<circle cx="142.7" cy="96.4" r="0.8" fill="#70c8e0"/>
<circle cx="124.4" cy="82.8" r="0.9" fill="#c04060"/>
<path d="M186.8 66.0C187.5 64.4 188.7 61.3 189.9 59.8C191.0 58.4 192.2 57.6 193.6 57.3C194.9 57.1 196.7 57.8 197.9 58.6C199.2 59.4 200.3 60.7 201.0 62.3C201.7 64.0 202.2 66.4 202.3 68.5C202.4 70.6 202.4 73.4 201.6 74.7C200.9 76.0 199.5 76.2 197.9 76.6C196.4 76.9 193.9 77.0 192.3 76.6C190.8 76.1 189.9 74.2 188.6 74.1C187.4 74.0 186.0 75.4 184.9 75.9C183.8 76.5 182.5 77.4 181.8 77.2C181.1 77.0 180.0 75.9 180.6 74.7C181.2 73.5 184.5 71.2 185.5 69.7C186.6 68.3 186.0 67.7 186.8 66.0Z" fill="#c4626d" fill-opacity="1" stroke="#c4626d" stroke-width="0.4"/>
<path d="M184.9 53.6C185.5 52.0 186.8 51.5 188.0 51.2C189.3 50.8 191.2 51.9 192.3 51.8C193.5 51.7 194.7 50.0 194.8 50.5C194.9 51.0 193.6 53.7 193.0 54.9C192.3 56.0 191.8 55.7 191.1 57.3C190.4 59.0 189.5 63.2 188.6 64.8C187.8 66.3 186.9 67.3 186.2 66.6C185.4 66.0 184.5 63.2 184.3 61.1C184.1 58.9 184.3 55.3 184.9 53.6Z" fill="#ef8e2a" fill-opacity="1" stroke="#ef8e2a" stroke-width="0.4"/>
<path d="M187.4 51.4C187.9 51.0 190.2 50.8 190.9 51.2C191.5 51.5 191.6 53.0 191.1 53.4C190.6 53.8 188.6 54.0 188.0 53.6C187.4 53.3 186.9 51.8 187.4 51.4Z" fill="#8a1a40" fill-opacity="1" stroke="#8a1a40" stroke-width="0.4"/>
<path d="M212.2 49.9C212.6 48.5 213.6 46.0 214.7 45.0C215.7 43.9 217.2 43.7 218.4 43.7C219.5 43.7 220.6 43.9 221.5 45.0C222.3 46.0 223.2 48.3 223.3 49.9C223.4 51.6 221.9 53.6 222.1 54.9C222.3 56.1 224.6 56.3 224.6 57.3C224.6 58.4 223.1 60.4 222.1 61.1C221.1 61.7 219.5 61.5 218.4 61.1C217.2 60.7 215.9 59.6 215.3 58.6C214.7 57.6 215.2 55.7 214.7 54.9C214.1 54.0 212.6 54.5 212.2 53.6C211.8 52.8 211.8 51.4 212.2 49.9Z" fill="#808080" fill-opacity="1" stroke="#808080" stroke-width="0.4"/>
<path d="M218.4 44.3C218.8 43.7 221.3 44.2 222.1 45.0C222.9 45.7 223.7 48.1 223.3 48.7C222.9 49.3 220.4 49.4 219.6 48.7C218.8 48.0 218.0 45.0 218.4 44.3Z" fill="#3a85c8" fill-opacity="1" stroke="#3a85c8" stroke-width="0.4"/>
<path d="M223.3 56.1C224.7 55.6 227.3 55.2 229.5 55.5C231.8 55.8 235.3 56.9 237.0 58.0C238.6 59.0 239.2 60.4 239.4 61.7C239.6 62.9 239.2 64.6 238.2 65.4C237.2 66.2 235.1 66.6 233.2 66.6C231.4 66.6 228.7 66.1 227.0 65.4C225.4 64.7 224.3 63.4 223.3 62.3C222.4 61.2 221.5 59.6 221.5 58.6C221.5 57.6 222.0 56.6 223.3 56.1Z" fill="#c39bd3" fill-opacity="1" stroke="#c39bd3" stroke-width="0.4"/>
<path d="M212.2 73.5C212.7 72.7 214.2 75.3 215.9 75.3C217.5 75.3 220.2 73.9 222.1 73.5C223.9 73.0 225.8 72.5 227.0 72.8C228.3 73.1 229.3 74.4 229.5 75.3C229.7 76.2 229.1 77.4 228.3 78.4C227.5 79.4 226.0 80.8 224.6 81.5C223.1 82.2 221.3 82.4 219.6 82.8C218.0 83.1 215.8 83.9 214.7 83.4C213.5 82.9 213.2 81.3 212.8 79.7C212.4 78.0 211.7 74.2 212.2 73.5Z" fill="#bcc63a" fill-opacity="1" stroke="#bcc63a" stroke-width="0.4"/>
<path d="M224.6 79.7C224.8 78.5 227.7 78.2 229.5 77.8C231.4 77.4 234.0 76.9 235.7 77.2C237.5 77.5 239.3 78.5 240.1 79.7C240.8 80.8 241.0 83.0 240.1 84.0C239.1 85.0 236.4 85.7 234.5 85.8C232.5 86.0 229.9 85.6 228.3 84.6C226.6 83.6 224.4 80.8 224.6 79.7Z" fill="#1f3f80" fill-opacity="1" stroke="#1f3f80" stroke-width="0.4"/>
<polyline points="231.4,67.9 232.0,76.6" fill="none" stroke="#5b5ba0" stroke-width="2.4" stroke-linecap="round" stroke-linejoin="round"/>
<polyline points="213.2,65.4 212.8,74.1" fill="none" stroke="#d86ca0" stroke-width="1.8" stroke-linecap="round" stroke-linejoin="round"/>
<path d="M197.3 83.4C197.7 82.1 198.9 81.2 199.8 80.9C200.7 80.6 202.3 80.8 202.9 81.5C203.5 82.2 203.0 85.3 203.5 85.2C204.0 85.1 204.9 81.8 206.0 80.9C207.0 80.0 208.9 79.3 209.7 79.7C210.5 80.0 211.3 81.6 210.9 82.8C210.5 83.9 208.5 85.4 207.2 86.5C206.0 87.5 204.5 88.0 203.5 88.9C202.5 89.9 201.8 91.6 201.0 92.0C200.2 92.5 199.2 92.0 198.5 91.4C197.9 90.8 197.5 89.7 197.3 88.3C197.1 87.0 196.9 84.6 197.3 83.4Z" fill="#6f7f78" fill-opacity="1" stroke="#6f7f78" stroke-width="0.4"/>
<path d="M205.4 80.6C206.2 79.8 208.8 79.3 209.7 79.7C210.6 80.0 211.3 81.8 210.9 82.8C210.6 83.7 208.5 84.9 207.5 85.2C206.4 85.5 205.1 85.4 204.7 84.6C204.4 83.8 204.5 81.5 205.4 80.6Z" fill="#20a080" fill-opacity="1" stroke="#20a080" stroke-width="0.4"/>
<path d="M203.5 85.2C204.2 84.5 206.8 84.2 207.2 84.6C207.6 85.0 206.7 87.0 206.0 87.7C205.3 88.4 203.3 89.4 202.9 88.9C202.5 88.5 202.8 86.0 203.5 85.2Z" fill="#5a6fb0" fill-opacity="1" stroke="#5a6fb0" stroke-width="0.4"/>
<path d="M197.3 100.7C197.2 99.9 200.0 99.2 201.0 98.2C202.1 97.3 202.2 95.9 203.5 95.1C204.8 94.4 207.2 93.9 209.1 93.9C210.9 93.9 213.5 94.3 214.7 95.1C215.8 96.0 216.1 97.6 215.9 98.9C215.7 100.1 214.9 101.8 213.4 102.6C212.0 103.4 209.2 103.7 207.2 103.8C205.3 103.9 203.3 103.7 201.6 103.2C200.0 102.7 197.4 101.5 197.3 100.7Z" fill="#92a879" fill-opacity="1" stroke="#92a879" stroke-width="0.4"/>
<polyline points="221.5,89.6 224.6,93.5 228.5,96.8 233.2,97.2 237.6,95.8" fill="none" stroke="#6a5aa8" stroke-width="2.6" stroke-linecap="round" stroke-linejoin="round"/>
<polyline points="197.6,48.1 200.4,45.9 204.5,47.4" fill="none" stroke="#70c8e0" stroke-width="1.4" stroke-linecap="round" stroke-linejoin="round"/>
<polyline points="202.5,57.6 206.6,58.6 209.4,64.2" fill="none" stroke="#20a080" stroke-width="1.6" stroke-linecap="round" stroke-linejoin="round"/>
<polyline points="186.4,90.2 193.3,94.5" fill="none" stroke="#d86ca0" stroke-width="1.5" stroke-linecap="round" stroke-linejoin="round"/>
<polyline points="188.9,87.1 192.1,86.1" fill="none" stroke="#a8d08d" stroke-width="1.2" stroke-linecap="round" stroke-linejoin="round"/>
<circle cx="207.8" cy="72.8" r="0.9" fill="#d04060"/>
<polyline points="236.0,73.2 239.2,72.5" fill="none" stroke="#a8d08d" stroke-width="1.2" stroke-linecap="round" stroke-linejoin="round"/>
<circle cx="203.7" cy="52.4" r="0.9" fill="#f0b060"/>
<path d="M31.3 139.7C32.3 138.7 34.3 137.4 36.0 137.7C37.7 137.9 39.9 139.3 41.3 141.0C42.8 142.7 43.9 145.2 44.7 147.7C45.4 150.1 46.1 153.4 46.0 155.7C45.9 157.9 45.1 159.7 44.0 161.0C42.9 162.3 40.9 163.2 39.3 163.7C37.8 164.1 36.0 164.3 34.7 163.7C33.3 163.0 32.2 161.7 31.3 159.7C30.5 157.7 30.0 154.3 29.7 151.7C29.5 149.0 29.7 145.7 30.0 143.7C30.3 141.7 30.3 140.7 31.3 139.7Z" fill="#c4626d" fill-opacity="1" stroke="#c4626d" stroke-width="0.4"/>
<path d="M35.3 165.0C36.0 163.9 37.4 161.9 38.7 161.0C39.9 160.1 41.6 159.2 42.7 159.7C43.8 160.1 44.4 162.3 45.3 163.7C46.2 165.0 48.3 166.9 48.0 167.7C47.7 168.4 45.1 168.2 43.3 168.3C41.6 168.4 38.8 168.4 37.3 168.3C35.9 168.2 35.0 168.2 34.7 167.7C34.3 167.1 34.7 166.1 35.3 165.0Z" fill="#ef8e2a" fill-opacity="1" stroke="#ef8e2a" stroke-width="0.4"/>
<polyline points="30.3,166.1 35.1,166.6" fill="none" stroke="#8a1a40" stroke-width="1.6" stroke-linecap="round" stroke-linejoin="round"/>
<polyline points="44.0,159.0 50.7,155.9 53.3,153.0" fill="none" stroke="#d86ca0" stroke-width="2.0" stroke-linecap="round" stroke-linejoin="round"/>
<path d="M62.7 135.7C63.8 134.7 66.9 134.7 68.7 135.0C70.4 135.3 72.2 136.4 73.3 137.7C74.4 138.9 75.4 140.6 75.3 142.3C75.2 144.1 73.8 146.6 72.7 148.3C71.6 150.1 69.8 151.6 68.7 153.0C67.6 154.4 66.9 156.3 66.0 157.0C65.1 157.7 63.9 158.3 63.3 157.0C62.8 155.7 62.9 151.7 62.7 149.0C62.4 146.3 62.0 143.2 62.0 141.0C62.0 138.8 61.6 136.7 62.7 135.7Z" fill="#808080" fill-opacity="1" stroke="#808080" stroke-width="0.4"/>
<path d="M56.0 134.3C56.8 132.9 58.8 132.2 60.0 132.3C61.2 132.4 62.6 133.3 63.3 135.0C64.1 136.7 64.6 139.6 64.7 142.3C64.8 145.1 64.3 149.0 64.0 151.7C63.7 154.3 63.3 156.7 62.7 158.3C62.0 160.0 60.8 161.7 60.0 161.7C59.2 161.7 58.6 160.4 58.0 158.3C57.4 156.2 57.1 151.9 56.7 149.0C56.2 146.1 55.4 143.4 55.3 141.0C55.2 138.6 55.2 135.8 56.0 134.3Z" fill="#c39bd3" fill-opacity="1" stroke="#c39bd3" stroke-width="0.4"/>
<clipPath id="cp2_14"><path d="M56.0 134.3C56.8 132.9 58.8 132.2 60.0 132.3C61.2 132.4 62.6 133.3 63.3 135.0C64.1 136.7 64.6 139.6 64.7 142.3C64.8 145.1 64.3 149.0 64.0 151.7C63.7 154.3 63.3 156.7 62.7 158.3C62.0 160.0 60.8 161.7 60.0 161.7C59.2 161.7 58.6 160.4 58.0 158.3C57.4 156.2 57.1 151.9 56.7 149.0C56.2 146.1 55.4 143.4 55.3 141.0C55.2 138.6 55.2 135.8 56.0 134.3Z"/></clipPath><g clip-path="url(#cp2_14)"><circle cx="56.3" cy="152.9" r="0.5" fill="#b0a0c8"/><circle cx="60.3" cy="139.6" r="0.5" fill="#b0a0c8"/><circle cx="57.7" cy="153.9" r="0.5" fill="#b0a0c8"/><circle cx="59.5" cy="146.0" r="0.5" fill="#8a8aa0"/><circle cx="59.0" cy="159.0" r="0.5" fill="#8a8aa0"/><circle cx="57.4" cy="158.8" r="0.5" fill="#8a8aa0"/><circle cx="62.9" cy="142.9" r="0.5" fill="#b0a0c8"/><circle cx="61.2" cy="136.7" r="0.5" fill="#b0a0c8"/><circle cx="61.5" cy="140.4" r="0.5" fill="#9a90a8"/><circle cx="61.4" cy="135.9" r="0.5" fill="#8a8aa0"/><circle cx="55.6" cy="140.4" r="0.5" fill="#8a8aa0"/><circle cx="59.1" cy="161.4" r="0.5" fill="#8a8aa0"/><circle cx="63.7" cy="135.1" r="0.5" fill="#b0a0c8"/><circle cx="61.7" cy="135.6" r="0.5" fill="#b0a0c8"/><circle cx="61.3" cy="143.0" r="0.5" fill="#9a90a8"/><circle cx="62.3" cy="146.6" r="0.5" fill="#b0a0c8"/><circle cx="57.1" cy="145.6" r="0.5" fill="#9a90a8"/><circle cx="59.9" cy="140.6" r="0.5" fill="#8a8aa0"/><circle cx="56.3" cy="156.3" r="0.5" fill="#9a90a8"/><circle cx="57.9" cy="135.8" r="0.5" fill="#9a90a8"/><circle cx="62.2" cy="135.7" r="0.5" fill="#b0a0c8"/><circle cx="60.8" cy="144.8" r="0.5" fill="#b0a0c8"/><circle cx="56.9" cy="143.7" r="0.5" fill="#8a8aa0"/><circle cx="59.9" cy="145.2" r="0.5" fill="#b0a0c8"/><circle cx="63.0" cy="139.9" r="0.5" fill="#8a8aa0"/></g>
<path d="M64.7 147.7C65.3 146.4 68.2 147.2 68.7 148.3C69.1 149.4 68.0 153.1 67.3 154.3C66.7 155.6 65.1 156.8 64.7 155.7C64.2 154.6 64.0 148.9 64.7 147.7Z" fill="#7a90b8" fill-opacity="0.8" stroke="#7a90b8" stroke-width="0.4"/>
<path d="M14.7 151.7C15.1 150.4 16.3 149.8 17.3 149.7C18.3 149.6 19.8 150.3 20.7 151.0C21.6 151.7 22.6 152.4 22.7 153.7C22.8 154.9 21.7 156.4 21.3 158.3C21.0 160.2 20.9 163.2 20.7 165.0C20.4 166.8 20.6 168.3 20.0 169.0C19.4 169.7 17.8 169.9 17.3 169.0C16.9 168.1 17.8 165.7 17.3 163.7C16.9 161.7 15.1 159.0 14.7 157.0C14.2 155.0 14.2 152.9 14.7 151.7Z" fill="#6f7f78" fill-opacity="1" stroke="#6f7f78" stroke-width="0.4"/>
<path d="M17.6 163.7C18.2 162.8 20.3 163.0 20.7 163.9C21.1 164.8 20.6 168.2 20.0 169.0C19.4 169.8 17.7 169.9 17.3 169.0C16.9 168.1 17.0 164.5 17.6 163.7Z" fill="#20a080" fill-opacity="1" stroke="#20a080" stroke-width="0.4"/>
<path d="M18.0 159.4C18.6 158.8 20.8 159.0 21.3 159.7C21.8 160.4 21.5 163.0 20.9 163.7C20.4 164.3 18.5 164.1 18.0 163.4C17.5 162.7 17.4 160.0 18.0 159.4Z" fill="#5a6fb0" fill-opacity="1" stroke="#5a6fb0" stroke-width="0.4"/>
<path d="M59.3 159.7C59.9 158.7 62.2 158.1 63.3 159.0C64.4 159.9 64.8 163.8 66.0 165.0C67.2 166.2 69.7 165.4 70.7 166.3C71.7 167.2 72.3 169.4 72.0 170.3C71.7 171.2 69.9 171.7 68.7 171.7C67.4 171.7 65.8 170.8 64.7 170.3C63.6 169.9 62.8 169.9 62.0 169.0C61.2 168.1 60.4 166.6 60.0 165.0C59.6 163.4 58.8 160.7 59.3 159.7Z" fill="#8a80c0" fill-opacity="1" stroke="#8a80c0" stroke-width="0.4"/>
<polyline points="53.3,165.0 59.3,170.3" fill="none" stroke="#70c8e0" stroke-width="1.6" stroke-linecap="round" stroke-linejoin="round"/>
<path d="M48.7 178.3C49.1 177.4 52.3 175.3 54.0 174.3C55.7 173.3 57.1 172.6 58.7 172.3C60.2 172.1 62.2 172.0 63.3 173.0C64.4 174.0 65.4 177.0 65.3 178.3C65.2 179.7 64.1 180.8 62.7 181.0C61.2 181.2 58.6 179.9 56.7 179.7C54.8 179.4 52.7 179.9 51.3 179.7C50.0 179.4 48.2 179.2 48.7 178.3Z" fill="#bcc63a" fill-opacity="1" stroke="#bcc63a" stroke-width="0.4"/>
<path d="M60.7 183.7C61.4 182.1 63.6 178.8 64.7 178.3C65.8 177.9 66.6 179.7 67.3 181.0C68.1 182.3 68.8 184.8 69.3 186.3C69.9 187.9 71.2 189.3 70.7 190.3C70.1 191.3 67.6 192.1 66.0 192.3C64.4 192.6 62.3 192.4 61.3 191.7C60.4 190.9 60.5 189.0 60.4 187.7C60.3 186.3 60.0 185.2 60.7 183.7Z" fill="#1f3f80" fill-opacity="1" stroke="#1f3f80" stroke-width="0.4"/>
<path d="M37.3 179.7C38.2 178.7 40.6 176.8 42.0 176.3C43.4 175.9 45.0 176.2 46.0 177.0C47.0 177.8 48.0 179.6 48.0 181.0C48.0 182.4 47.0 184.6 46.0 185.7C45.0 186.8 43.3 187.6 42.0 187.7C40.7 187.8 38.9 187.2 38.0 186.3C37.1 185.4 36.8 183.4 36.7 182.3C36.6 181.2 36.4 180.7 37.3 179.7Z" fill="#92a879" fill-opacity="1" stroke="#92a879" stroke-width="0.4"/>
<polyline points="26.3,166.3 31.1,167.4" fill="none" stroke="#20a080" stroke-width="1.6" stroke-linecap="round" stroke-linejoin="round"/>
<polyline points="26.3,171.7 32.4,171.0" fill="none" stroke="#b090c8" stroke-width="2.0" stroke-linecap="round" stroke-linejoin="round"/>
<circle cx="24.9" cy="173.0" r="1.2" fill="#a8d08d"/>
<circle cx="50.0" cy="169.0" r="1.0" fill="#70c8e0"/>
<path d="M121.0 132.3C122.0 132.1 122.4 132.7 123.0 134.3C123.6 136.0 124.3 140.3 124.3 142.3C124.3 144.3 123.8 144.8 123.0 146.3C122.2 147.9 120.8 149.9 119.7 151.7C118.6 153.4 117.3 155.0 116.3 157.0C115.3 159.0 114.6 162.1 113.7 163.7C112.8 165.2 111.8 166.1 111.0 166.3C110.2 166.6 109.1 166.3 109.0 165.0C108.9 163.7 110.0 160.8 110.3 158.3C110.7 155.9 110.6 153.0 111.0 150.3C111.4 147.7 112.0 144.8 113.0 142.3C114.0 139.9 115.7 137.3 117.0 135.7C118.3 134.0 120.0 132.6 121.0 132.3Z" fill="#c39bd3" fill-opacity="1" stroke="#c39bd3" stroke-width="0.4"/>
<clipPath id="cp3_11"><path d="M121.0 132.3C122.0 132.1 122.4 132.7 123.0 134.3C123.6 136.0 124.3 140.3 124.3 142.3C124.3 144.3 123.8 144.8 123.0 146.3C122.2 147.9 120.8 149.9 119.7 151.7C118.6 153.4 117.3 155.0 116.3 157.0C115.3 159.0 114.6 162.1 113.7 163.7C112.8 165.2 111.8 166.1 111.0 166.3C110.2 166.6 109.1 166.3 109.0 165.0C108.9 163.7 110.0 160.8 110.3 158.3C110.7 155.9 110.6 153.0 111.0 150.3C111.4 147.7 112.0 144.8 113.0 142.3C114.0 139.9 115.7 137.3 117.0 135.7C118.3 134.0 120.0 132.6 121.0 132.3Z"/></clipPath><g clip-path="url(#cp3_11)"><circle cx="115.9" cy="151.4" r="0.5" fill="#a080b8"/><circle cx="115.9" cy="161.4" r="0.5" fill="#5a5aa0"/><circle cx="111.8" cy="149.7" r="0.5" fill="#5a5aa0"/><circle cx="110.4" cy="142.6" r="0.5" fill="#7a8aa0"/><circle cx="117.3" cy="162.6" r="0.5" fill="#7a8aa0"/><circle cx="118.1" cy="145.8" r="0.5" fill="#a080b8"/><circle cx="119.0" cy="153.3" r="0.5" fill="#5a5aa0"/><circle cx="118.6" cy="160.6" r="0.5" fill="#7a8aa0"/><circle cx="109.9" cy="138.8" r="0.5" fill="#5a5aa0"/><circle cx="118.2" cy="158.8" r="0.5" fill="#8fa57a"/><circle cx="115.8" cy="161.0" r="0.5" fill="#5a5aa0"/><circle cx="118.8" cy="149.3" r="0.5" fill="#7a8aa0"/><circle cx="116.0" cy="141.8" r="0.5" fill="#7a8aa0"/><circle cx="119.9" cy="143.1" r="0.5" fill="#5a5aa0"/><circle cx="116.9" cy="133.3" r="0.5" fill="#7a8aa0"/><circle cx="115.1" cy="161.1" r="0.5" fill="#a080b8"/><circle cx="110.0" cy="132.9" r="0.5" fill="#7a8aa0"/><circle cx="112.3" cy="163.9" r="0.5" fill="#7a8aa0"/><circle cx="116.2" cy="165.7" r="0.5" fill="#a080b8"/><circle cx="115.4" cy="151.6" r="0.5" fill="#5a5aa0"/><circle cx="120.9" cy="141.5" r="0.5" fill="#7a8aa0"/><circle cx="113.8" cy="132.8" r="0.5" fill="#a080b8"/><circle cx="120.6" cy="136.3" r="0.5" fill="#5a5aa0"/><circle cx="119.8" cy="132.7" r="0.5" fill="#a080b8"/><circle cx="121.2" cy="138.4" r="0.5" fill="#5a5aa0"/><circle cx="115.9" cy="138.8" r="0.5" fill="#5a5aa0"/><circle cx="115.4" cy="145.4" r="0.5" fill="#a080b8"/><circle cx="115.5" cy="139.6" r="0.5" fill="#8fa57a"/><circle cx="122.3" cy="165.5" r="0.5" fill="#8fa57a"/><circle cx="124.3" cy="133.0" r="0.5" fill="#5a5aa0"/><circle cx="115.0" cy="161.4" r="0.5" fill="#7a8aa0"/><circle cx="109.6" cy="137.3" r="0.5" fill="#a080b8"/><circle cx="113.0" cy="158.6" r="0.5" fill="#8fa57a"/><circle cx="121.7" cy="145.5" r="0.5" fill="#7a8aa0"/><circle cx="110.4" cy="152.1" r="0.5" fill="#5a5aa0"/><circle cx="109.2" cy="144.9" r="0.5" fill="#a080b8"/><circle cx="111.0" cy="152.3" r="0.5" fill="#5a5aa0"/><circle cx="122.3" cy="138.5" r="0.5" fill="#5a5aa0"/><circle cx="113.8" cy="140.1" r="0.5" fill="#5a5aa0"/><circle cx="120.1" cy="137.7" r="0.5" fill="#5a5aa0"/><circle cx="119.5" cy="145.5" r="0.5" fill="#a080b8"/><circle cx="118.3" cy="146.7" r="0.5" fill="#7a8aa0"/><circle cx="110.7" cy="149.8" r="0.5" fill="#8fa57a"/><circle cx="112.7" cy="156.3" r="0.5" fill="#8fa57a"/><circle cx="115.5" cy="163.1" r="0.5" fill="#a080b8"/></g>
<path d="M108.3 166.3C110.1 165.9 112.0 166.2 113.7 166.3C115.3 166.4 117.0 166.6 118.3 167.0C119.7 167.4 121.0 167.8 121.7 169.0C122.3 170.2 123.0 173.0 122.3 174.3C121.7 175.7 119.3 176.3 117.7 177.0C116.0 177.7 113.9 177.4 112.3 178.3C110.8 179.2 109.7 180.9 108.3 182.3C107.0 183.8 105.7 186.3 104.3 187.0C103.0 187.7 101.4 187.3 100.3 186.3C99.2 185.3 97.9 183.0 97.7 181.0C97.4 179.0 98.1 176.3 99.0 174.3C99.9 172.3 101.4 170.3 103.0 169.0C104.6 167.7 106.6 166.8 108.3 166.3Z" fill="#92a879" fill-opacity="1" stroke="#92a879" stroke-width="0.4"/>
<path d="M103.0 169.0C104.6 167.7 107.1 166.6 108.3 166.3C109.6 166.1 110.3 166.3 110.3 167.7C110.3 169.0 109.2 172.1 108.3 174.3C107.4 176.6 105.9 179.0 105.0 181.0C104.1 183.0 103.8 185.2 103.0 186.1C102.2 187.0 101.2 187.2 100.3 186.3C99.4 185.5 97.9 183.0 97.7 181.0C97.4 179.0 98.1 176.3 99.0 174.3C99.9 172.3 101.4 170.3 103.0 169.0Z" fill="#1f3f80" fill-opacity="1" stroke="#1f3f80" stroke-width="0.4"/>
<clipPath id="cp4_12"><path d="M103.0 169.0C104.6 167.7 107.1 166.6 108.3 166.3C109.6 166.1 110.3 166.3 110.3 167.7C110.3 169.0 109.2 172.1 108.3 174.3C107.4 176.6 105.9 179.0 105.0 181.0C104.1 183.0 103.8 185.2 103.0 186.1C102.2 187.0 101.2 187.2 100.3 186.3C99.4 185.5 97.9 183.0 97.7 181.0C97.4 179.0 98.1 176.3 99.0 174.3C99.9 172.3 101.4 170.3 103.0 169.0Z"/></clipPath><g clip-path="url(#cp4_12)"><circle cx="103.7" cy="179.5" r="0.5" fill="#6a9a78"/><circle cx="99.5" cy="166.6" r="0.5" fill="#6a9a78"/><circle cx="103.8" cy="179.2" r="0.5" fill="#2a6aa0"/><circle cx="106.4" cy="178.4" r="0.5" fill="#3a7a9a"/><circle cx="106.0" cy="169.2" r="0.5" fill="#2a6aa0"/><circle cx="102.3" cy="173.1" r="0.5" fill="#c8c040"/><circle cx="98.4" cy="182.7" r="0.5" fill="#3a7a9a"/><circle cx="104.2" cy="182.7" r="0.5" fill="#2a6aa0"/><circle cx="107.8" cy="168.1" r="0.5" fill="#3a7a9a"/><circle cx="108.0" cy="179.6" r="0.5" fill="#c8c040"/><circle cx="98.8" cy="186.1" r="0.5" fill="#2a6aa0"/><circle cx="99.1" cy="174.8" r="0.5" fill="#c8c040"/><circle cx="104.5" cy="184.0" r="0.5" fill="#c8c040"/><circle cx="110.0" cy="184.0" r="0.5" fill="#c8c040"/><circle cx="104.1" cy="168.0" r="0.5" fill="#2a6aa0"/><circle cx="106.1" cy="175.7" r="0.5" fill="#2a6aa0"/><circle cx="104.5" cy="179.1" r="0.5" fill="#3a7a9a"/><circle cx="109.9" cy="185.9" r="0.5" fill="#6a9a78"/><circle cx="102.2" cy="173.6" r="0.5" fill="#2a6aa0"/><circle cx="106.2" cy="168.6" r="0.5" fill="#c8c040"/><circle cx="101.9" cy="173.8" r="0.5" fill="#c8c040"/><circle cx="98.0" cy="182.8" r="0.5" fill="#2a6aa0"/><circle cx="98.1" cy="166.8" r="0.5" fill="#2a6aa0"/><circle cx="98.2" cy="170.4" r="0.5" fill="#3a7a9a"/><circle cx="107.2" cy="170.7" r="0.5" fill="#3a7a9a"/><circle cx="106.5" cy="167.1" r="0.5" fill="#6a9a78"/><circle cx="104.0" cy="178.4" r="0.5" fill="#3a7a9a"/><circle cx="104.2" cy="173.7" r="0.5" fill="#6a9a78"/><circle cx="101.2" cy="175.9" r="0.5" fill="#2a6aa0"/><circle cx="100.7" cy="186.1" r="0.5" fill="#2a6aa0"/><circle cx="109.4" cy="173.6" r="0.5" fill="#c8c040"/><circle cx="107.4" cy="170.7" r="0.5" fill="#3a7a9a"/><circle cx="109.7" cy="184.6" r="0.5" fill="#6a9a78"/><circle cx="99.9" cy="182.2" r="0.5" fill="#3a7a9a"/><circle cx="100.8" cy="168.7" r="0.5" fill="#6a9a78"/></g>
<polyline points="101.4,185.7 105.7,183.7 109.7,180.3 113.7,178.1" fill="none" stroke="#bcc63a" stroke-width="3.0" stroke-linecap="round" stroke-linejoin="round"/>
<path d="M134.3 154.3C135.2 153.8 138.4 156.0 140.3 156.3C142.2 156.7 143.7 156.1 145.7 156.3C147.7 156.6 150.6 156.7 152.3 157.7C154.1 158.7 155.4 160.9 156.3 162.3C157.2 163.8 158.1 165.4 157.7 166.3C157.2 167.2 155.7 167.3 153.7 167.7C151.7 168.0 148.1 168.0 145.7 168.3C143.2 168.7 140.6 169.2 139.0 169.7C137.4 170.1 136.9 171.8 136.3 171.0C135.8 170.2 135.9 166.9 135.7 165.0C135.4 163.1 135.2 161.4 135.0 159.7C134.8 157.9 133.4 154.9 134.3 154.3Z" fill="#c4626d" fill-opacity="1" stroke="#c4626d" stroke-width="0.4"/>
<path d="M134.3 154.3C134.8 153.3 137.3 155.0 138.3 156.3C139.3 157.7 140.1 160.4 140.3 162.3C140.6 164.2 140.1 166.3 139.7 167.7C139.2 169.0 138.3 170.3 137.7 170.3C137.0 170.3 136.0 169.0 135.7 167.7C135.3 166.3 135.9 164.6 135.7 162.3C135.4 160.1 133.9 155.3 134.3 154.3Z" fill="#ef8e2a" fill-opacity="1" stroke="#ef8e2a" stroke-width="0.4"/>
<circle cx="137.3" cy="170.1" r="1.2" fill="#5b5ba0"/>
<path d="M135.0 181.0C135.7 180.7 136.3 181.2 137.0 181.7C137.7 182.1 138.4 182.7 139.0 183.7C139.6 184.7 140.6 186.4 140.3 187.7C140.1 188.9 138.8 190.2 137.7 191.0C136.6 191.8 134.6 192.9 133.7 192.3C132.8 191.8 132.4 189.1 132.3 187.7C132.2 186.2 132.6 184.8 133.0 183.7C133.4 182.6 134.3 181.3 135.0 181.0Z" fill="#6f7f78" fill-opacity="1" stroke="#6f7f78" stroke-width="0.4"/>
<path d="M213.7 133.0C214.5 132.1 216.0 131.9 217.0 132.3C218.0 132.8 219.2 134.0 219.7 135.7C220.2 137.3 220.3 140.3 220.1 142.3C219.8 144.3 218.8 146.2 218.3 147.7C217.8 149.1 217.6 150.7 217.0 151.0C216.4 151.3 215.7 150.9 215.0 149.7C214.3 148.4 213.5 145.7 213.0 143.7C212.5 141.7 212.0 139.4 212.1 137.7C212.2 135.9 212.8 133.9 213.7 133.0Z" fill="#1f3f80" fill-opacity="1" stroke="#1f3f80" stroke-width="0.4"/>
<path d="M206.3 139.7C207.0 138.6 209.1 137.7 210.3 137.7C211.6 137.7 212.9 138.4 213.7 139.7C214.4 140.9 214.7 143.3 215.0 145.0C215.3 146.7 216.1 148.7 215.7 149.7C215.2 150.7 213.4 151.2 212.3 151.0C211.2 150.8 210.0 149.4 209.0 148.3C208.0 147.2 206.8 145.8 206.3 144.3C205.9 142.9 205.7 140.8 206.3 139.7Z" fill="#bcc63a" fill-opacity="1" stroke="#bcc63a" stroke-width="0.4"/>
<path d="M208.3 148.3C209.1 147.6 212.3 148.2 213.7 149.0C215.0 149.8 217.1 152.2 216.3 153.0C215.6 153.8 210.3 154.4 209.0 153.7C207.7 152.9 207.6 149.1 208.3 148.3Z" fill="#5b5ba0" fill-opacity="1" stroke="#5b5ba0" stroke-width="0.4"/>
<path d="M215.0 151.7C215.8 151.2 219.4 151.7 220.3 152.3C221.2 153.0 221.1 154.9 220.3 155.4C219.6 155.9 216.6 156.0 215.7 155.4C214.8 154.8 214.2 152.2 215.0 151.7Z" fill="#70c8e0" fill-opacity="1" stroke="#70c8e0" stroke-width="0.4"/>
<path d="M220.3 153.0C220.8 151.8 222.8 150.4 224.3 149.7C225.9 148.9 227.9 148.2 229.7 148.3C231.4 148.4 233.2 149.1 235.0 150.3C236.8 151.6 240.1 154.6 240.3 155.7C240.6 156.8 237.9 156.9 236.3 157.0C234.8 157.1 232.8 156.1 231.0 156.3C229.2 156.6 227.2 158.2 225.7 158.3C224.1 158.4 222.6 157.9 221.7 157.0C220.8 156.1 219.9 154.2 220.3 153.0Z" fill="#92a879" fill-opacity="1" stroke="#92a879" stroke-width="0.4"/>
<polyline points="188.3,156.3 193.7,154.6 201.7,154.2 209.7,154.3 217.7,154.3 221.0,154.6" fill="none" stroke="#9a80b0" stroke-width="2.4" stroke-linecap="round" stroke-linejoin="round"/>
<path d="M185.0 159.7C186.2 158.7 188.0 156.9 189.7 156.3C191.3 155.8 193.3 155.7 195.0 156.3C196.7 157.0 198.7 158.7 199.7 160.3C200.7 162.0 201.1 164.3 201.0 166.3C200.9 168.3 200.2 170.9 199.0 172.3C197.8 173.8 195.7 174.6 193.7 175.0C191.7 175.4 189.0 175.4 187.0 175.0C185.0 174.6 182.8 173.6 181.7 172.3C180.6 171.1 180.2 169.3 180.3 167.7C180.4 166.0 181.6 163.7 182.3 162.3C183.1 161.0 183.8 160.7 185.0 159.7Z" fill="#808080" fill-opacity="1" stroke="#808080" stroke-width="0.4"/>
<path d="M190.3 157.0C191.0 155.1 193.4 155.8 195.0 156.3C196.6 156.9 198.7 158.7 199.7 160.3C200.7 162.0 201.1 164.3 201.0 166.3C200.9 168.3 200.2 171.0 199.0 172.3C197.8 173.7 195.0 175.4 193.7 174.6C192.3 173.8 191.6 170.6 191.0 167.7C190.4 164.7 189.7 158.9 190.3 157.0Z" fill="#c39bd3" fill-opacity="1" stroke="#c39bd3" stroke-width="0.4"/>
<path d="M183.3 159.9C183.7 158.9 186.8 157.4 187.7 157.7C188.5 158.0 188.8 160.7 188.3 161.7C187.9 162.7 185.8 164.0 185.0 163.7C184.2 163.4 182.8 160.9 183.3 159.9Z" fill="#d86ca0" fill-opacity="0.9" stroke="#d86ca0" stroke-width="0.4"/>
<path d="M217.0 161.0C217.4 160.4 218.9 160.0 220.3 159.9C221.8 159.9 223.9 160.2 225.7 160.7C227.4 161.2 229.3 162.2 231.0 163.0C232.7 163.8 235.4 164.9 235.7 165.7C235.9 166.4 234.0 167.4 232.3 167.7C230.7 167.9 227.6 167.4 225.7 167.0C223.8 166.6 222.3 165.6 221.0 165.0C219.7 164.4 218.3 164.3 217.7 163.7C217.0 163.0 216.6 161.6 217.0 161.0Z" fill="#6f7f78" fill-opacity="1" stroke="#6f7f78" stroke-width="0.4"/>
<circle cx="223.0" cy="163.7" r="1.3" fill="#20a080"/>
<polyline points="212.3,160.3 213.9,163.0 214.7,165.0" fill="none" stroke="#d86ca0" stroke-width="1.6" stroke-linecap="round" stroke-linejoin="round"/>
<path d="M218.3 168.3C219.1 168.1 222.0 169.0 223.7 169.7C225.3 170.3 227.0 171.1 228.3 172.3C229.7 173.6 231.0 175.1 231.7 177.0C232.3 178.9 232.9 181.4 232.3 183.7C231.8 185.9 230.3 189.0 228.3 190.3C226.3 191.7 222.8 191.7 220.3 191.7C217.9 191.7 215.2 191.4 213.7 190.3C212.1 189.2 211.1 186.8 211.0 185.0C210.9 183.2 211.9 180.9 213.0 179.7C214.1 178.4 216.4 178.6 217.7 177.7C218.9 176.8 220.1 175.4 220.3 174.3C220.6 173.2 219.3 172.0 219.0 171.0C218.7 170.0 217.6 168.6 218.3 168.3Z" fill="#c4626d" fill-opacity="1" stroke="#c4626d" stroke-width="0.4"/>
<path d="M207.7 178.3C208.3 177.2 209.6 175.2 211.0 174.3C212.4 173.4 214.8 173.0 216.3 173.0C217.9 173.0 219.8 173.6 220.3 174.3C220.9 175.1 220.6 176.8 219.7 177.7C218.8 178.6 216.3 178.9 215.0 179.7C213.7 180.4 212.8 181.3 211.7 182.3C210.6 183.3 209.2 185.2 208.3 185.7C207.4 186.1 206.6 185.8 206.3 185.0C206.1 184.2 206.8 182.1 207.0 181.0C207.2 179.9 207.0 179.4 207.7 178.3Z" fill="#ef8e2a" fill-opacity="1" stroke="#ef8e2a" stroke-width="0.4"/>
<path d="M203.7 185.7C204.0 184.9 206.3 183.6 207.0 183.7C207.7 183.8 208.0 185.6 207.7 186.3C207.3 187.1 205.7 188.4 205.0 188.3C204.3 188.2 203.3 186.4 203.7 185.7Z" fill="#8a1a40" fill-opacity="1" stroke="#8a1a40" stroke-width="0.4"/>
<circle cx="202.3" cy="187.9" r="1.1" fill="#70c8e0"/>
<polyline points="208.1,169.0 211.3,168.5" fill="none" stroke="#bcc63a" stroke-width="1.4" stroke-linecap="round" stroke-linejoin="round"/>
<circle cx="221.0" cy="169.7" r="1.4" fill="#c39bd3"/>
<text transform="translate(10.5,209.9) scale(0.958,1)" font-size="8.35" fill="#1a1a1a">Cell types</text>
<circle cx="12.0" cy="220.4" r="3.0" fill="#d62728"/>
<text transform="translate(18.2,223.3) scale(0.958,1)" font-size="8.35" fill="#1a1a1a">ASDC</text>
<circle cx="12.0" cy="231.6" r="3.0" fill="#5a6fb0"/>
<text transform="translate(18.2,234.5) scale(0.958,1)" font-size="8.35" fill="#1a1a1a">B intermediate</text>
<circle cx="12.0" cy="242.7" r="3.0" fill="#3a9a6a"/>
<text transform="translate(18.2,245.6) scale(0.958,1)" font-size="8.35" fill="#1a1a1a">B memory</text>
<circle cx="12.0" cy="253.9" r="3.0" fill="#6f7f76"/>
<text transform="translate(18.2,256.8) scale(0.958,1)" font-size="8.35" fill="#1a1a1a">B naive</text>
<circle cx="12.0" cy="265.1" r="3.0" fill="#b9666b"/>
<text transform="translate(18.2,268.0) scale(0.958,1)" font-size="8.35" fill="#1a1a1a">CD14 Mono</text>
<circle cx="12.0" cy="276.2" r="3.0" fill="#f0902a"/>
<text transform="translate(18.2,279.1) scale(0.958,1)" font-size="8.35" fill="#1a1a1a">CD16 Mono</text>
<circle cx="12.0" cy="287.4" r="3.0" fill="#e87fb4"/>
<text transform="translate(18.2,290.3) scale(0.958,1)" font-size="8.35" fill="#1a1a1a">CD4 CTL</text>
<circle cx="12.0" cy="298.6" r="3.0" fill="#85b03a"/>
<text transform="translate(18.2,301.5) scale(0.958,1)" font-size="8.35" fill="#1a1a1a">NK_CD56bright</text>
<circle cx="83.9" cy="220.4" r="3.0" fill="#c39bd3"/>
<text transform="translate(90.6,223.3) scale(0.958,1)" font-size="8.35" fill="#1a1a1a">CD4 Naive</text>
<circle cx="83.9" cy="230.2" r="3.0" fill="#c6d632"/>
<text transform="translate(90.6,233.1) scale(0.958,1)" font-size="8.35" fill="#1a1a1a">pDC</text>
<circle cx="83.9" cy="240.0" r="3.0" fill="#7f7f7f"/>
<text transform="translate(90.6,242.9) scale(0.958,1)" font-size="8.35" fill="#1a1a1a">CD4 TCM</text>
<circle cx="83.9" cy="249.7" r="3.0" fill="#3a85c8"/>
<text transform="translate(90.6,252.6) scale(0.958,1)" font-size="8.35" fill="#1a1a1a">CD4 TEM</text>
<circle cx="83.9" cy="259.5" r="3.0" fill="#a3207a"/>
<text transform="translate(90.6,262.4) scale(0.958,1)" font-size="8.35" fill="#1a1a1a">ILC</text>
<circle cx="83.9" cy="269.3" r="3.0" fill="#5b5ba0"/>
<text transform="translate(90.6,272.2) scale(0.958,1)" font-size="8.35" fill="#1a1a1a">MAIT</text>
<circle cx="83.9" cy="279.1" r="3.0" fill="#8fa57a"/>
<text transform="translate(90.6,282.0) scale(0.958,1)" font-size="8.35" fill="#1a1a1a">NK</text>
<circle cx="83.9" cy="288.9" r="3.0" fill="#c8c030"/>
<text transform="translate(90.6,291.8) scale(0.958,1)" font-size="8.35" fill="#1a1a1a">CD8 TEM</text>
<circle cx="83.9" cy="298.6" r="3.0" fill="#f0a050"/>
<text transform="translate(90.6,301.5) scale(0.958,1)" font-size="8.35" fill="#1a1a1a">cDC1</text>
<circle cx="137.4" cy="220.2" r="3.0" fill="#a8d08d"/>
<text transform="translate(143.5,223.1) scale(0.958,1)" font-size="8.35" fill="#1a1a1a">Plasmablast</text>
<circle cx="137.4" cy="231.4" r="3.0" fill="#98cfc0"/>
<text transform="translate(143.5,234.3) scale(0.958,1)" font-size="8.35" fill="#1a1a1a">Platelet</text>
<circle cx="137.4" cy="242.7" r="3.0" fill="#1e5a2a"/>
<text transform="translate(143.5,245.6) scale(0.958,1)" font-size="8.35" fill="#1a1a1a">NK Proliferating</text>
<circle cx="137.4" cy="253.9" r="3.0" fill="#1f3f80"/>
<text transform="translate(143.5,256.8) scale(0.958,1)" font-size="8.35" fill="#1a1a1a">CD8 Naive</text>
<circle cx="137.4" cy="265.2" r="3.0" fill="#20a080"/>
<text transform="translate(143.5,268.1) scale(0.958,1)" font-size="8.35" fill="#1a1a1a">CD8 Proliferating</text>
<circle cx="137.4" cy="276.4" r="3.0" fill="#98d080"/>
<text transform="translate(143.5,279.3) scale(0.958,1)" font-size="8.35" fill="#1a1a1a">CD8 TCM</text>
<circle cx="137.4" cy="287.6" r="3.0" fill="#c07060"/>
<text transform="translate(143.5,290.5) scale(0.958,1)" font-size="8.35" fill="#1a1a1a">CD4 Proliferating</text>
<circle cx="137.4" cy="298.9" r="3.0" fill="#8a1a40"/>
<text transform="translate(143.5,301.8) scale(0.958,1)" font-size="8.35" fill="#1a1a1a">Doublet</text>
<circle cx="214.4" cy="220.2" r="3.0" fill="#f07090"/>
<text transform="translate(219.1,223.1) scale(0.958,1)" font-size="8.35" fill="#1a1a1a">cDC2</text>
<circle cx="214.4" cy="231.4" r="3.0" fill="#d0207a"/>
<text transform="translate(219.1,234.3) scale(0.958,1)" font-size="8.35" fill="#1a1a1a">dnT</text>
<circle cx="214.4" cy="242.7" r="3.0" fill="#20a0b0"/>
<text transform="translate(219.1,245.6) scale(0.958,1)" font-size="8.35" fill="#1a1a1a">Eryth</text>
<circle cx="214.4" cy="253.9" r="3.0" fill="#70c8e0"/>
<text transform="translate(219.1,256.8) scale(0.958,1)" font-size="8.35" fill="#1a1a1a">gdT</text>
<circle cx="214.4" cy="265.2" r="3.0" fill="#c070a0"/>
<text transform="translate(219.1,268.1) scale(0.958,1)" font-size="8.35" fill="#1a1a1a">HSPC</text>
<circle cx="214.4" cy="276.4" r="3.0" fill="#8f8f8f"/>
<text transform="translate(219.1,279.3) scale(0.958,1)" font-size="8.35" fill="#1a1a1a">Treg</text>
<text transform="translate(42,35.7) scale(0.958,1)" font-size="8.35" text-anchor="middle" fill="#1a1a1a">Ground truth</text>
<text transform="translate(126.1,35.6) scale(0.958,1)" font-size="8.35" text-anchor="middle" fill="#1a1a1a">StabMap</text>
<text transform="translate(209.8,35.6) scale(0.958,1)" font-size="8.35" text-anchor="middle" fill="#1a1a1a">sciPENN</text>
<text transform="translate(45.4,122.9) scale(0.958,1)" font-size="8.35" text-anchor="middle" fill="#1a1a1a">totalVI</text>
<text transform="translate(124.9,122.9) scale(0.958,1)" font-size="8.35" text-anchor="middle" fill="#1a1a1a">scMM</text>
<text transform="translate(203.0,122.9) scale(0.958,1)" font-size="8.35" text-anchor="middle" fill="#1a1a1a">moETM</text>
<text transform="translate(42.5,346.2) scale(0.958,1)" font-size="8.35" text-anchor="middle" fill="#1a1a1a">Ground truth</text>
<text transform="translate(122,346.8) scale(0.958,1)" font-size="8.35" text-anchor="middle" fill="#1a1a1a">StabMap</text>
<text transform="translate(200.8,346.8) scale(0.958,1)" font-size="8.35" text-anchor="middle" fill="#1a1a1a">sciPENN</text>
<text transform="translate(42.5,433) scale(0.958,1)" font-size="8.35" text-anchor="middle" fill="#1a1a1a">totalVI</text>
<text transform="translate(124.7,432.6) scale(0.958,1)" font-size="8.35" text-anchor="middle" fill="#1a1a1a">scMM</text>
<text transform="translate(206.1,432.6) scale(0.958,1)" font-size="8.35" text-anchor="middle" fill="#1a1a1a">moETM</text>
<rect x="7.0" y="412.5" width="4.0" height="4.0" fill="#fbe8e0"/>
<rect x="7.0" y="402.2" width="4.0" height="10.4" fill="#e5e1f2"/>
<rect x="7.0" y="389.3" width="4.0" height="13.0" fill="#e5e1f2"/>
<rect x="7.0" y="384.1" width="4.0" height="5.3" fill="#e5e1f2"/>
<rect x="7.0" y="373.2" width="4.0" height="11.1" fill="#e5e1f2"/>
<rect x="7.0" y="369.3" width="4.0" height="4.0" fill="#e5e1f2"/>
<rect x="7.0" y="359.0" width="4.0" height="10.4" fill="#e5e1f2"/>
<rect x="7.0" y="351.9" width="4.0" height="7.2" fill="#fcf0eb"/>
<rect x="10.9" y="412.5" width="10.4" height="4.0" fill="#e5e1f2"/>
<rect x="10.9" y="402.2" width="10.4" height="10.4" fill="#f3987c"/>
<rect x="10.9" y="389.3" width="10.4" height="13.0" fill="#ef8064"/>
<rect x="10.9" y="384.1" width="10.4" height="5.3" fill="#fae0d4"/>
<rect x="10.9" y="373.2" width="10.4" height="11.1" fill="#f18c70"/>
<rect x="10.9" y="369.3" width="10.4" height="4.0" fill="#fbe8e0"/>
<rect x="10.9" y="359.0" width="10.4" height="10.4" fill="#fbe5db"/>
<rect x="10.9" y="351.9" width="10.4" height="7.2" fill="#fcf8f7"/>
<rect x="21.2" y="412.5" width="13.0" height="4.0" fill="#e5e1f2"/>
<rect x="21.2" y="402.2" width="13.0" height="10.4" fill="#ef8064"/>
<rect x="21.2" y="389.3" width="13.0" height="13.0" fill="#d94232"/>
<rect x="21.2" y="384.1" width="13.0" height="5.3" fill="#fae0d4"/>
<rect x="21.2" y="373.2" width="13.0" height="11.1" fill="#ef8064"/>
<rect x="21.2" y="369.3" width="13.0" height="4.0" fill="#fbe8e0"/>
<rect x="21.2" y="359.0" width="13.0" height="10.4" fill="#fbe5db"/>
<rect x="21.2" y="351.9" width="13.0" height="7.2" fill="#fcf8f7"/>
<rect x="34.1" y="412.5" width="5.3" height="4.0" fill="#e5e1f2"/>
<rect x="34.1" y="402.2" width="5.3" height="10.4" fill="#fae0d4"/>
<rect x="34.1" y="389.3" width="5.3" height="13.0" fill="#fae0d4"/>
<rect x="34.1" y="384.1" width="5.3" height="5.3" fill="#fad8c8"/>
<rect x="34.1" y="373.2" width="5.3" height="11.1" fill="#fae0d4"/>
<rect x="34.1" y="369.3" width="5.3" height="4.0" fill="#fbe8e0"/>
<rect x="34.1" y="359.0" width="5.3" height="10.4" fill="#fbe5db"/>
<rect x="34.1" y="351.9" width="5.3" height="7.2" fill="#fcf8f7"/>
<rect x="39.2" y="412.5" width="11.1" height="4.0" fill="#e5e1f2"/>
<rect x="39.2" y="402.2" width="11.1" height="10.4" fill="#f18c70"/>
<rect x="39.2" y="389.3" width="11.1" height="13.0" fill="#ef8064"/>
<rect x="39.2" y="384.1" width="11.1" height="5.3" fill="#fae0d4"/>
<rect x="39.2" y="373.2" width="11.1" height="11.1" fill="#d94232"/>
<rect x="39.2" y="369.3" width="11.1" height="4.0" fill="#fbe8e0"/>
<rect x="39.2" y="359.0" width="11.1" height="10.4" fill="#fbe5db"/>
<rect x="39.2" y="351.9" width="11.1" height="7.2" fill="#fcf8f7"/>
<rect x="50.2" y="412.5" width="4.0" height="4.0" fill="#e5e1f2"/>
<rect x="50.2" y="402.2" width="4.0" height="10.4" fill="#fbe8e0"/>
<rect x="50.2" y="389.3" width="4.0" height="13.0" fill="#fbe8e0"/>
<rect x="50.2" y="384.1" width="4.0" height="5.3" fill="#fbe8e0"/>
<rect x="50.2" y="373.2" width="4.0" height="11.1" fill="#fbe8e0"/>
<rect x="50.2" y="369.3" width="4.0" height="4.0" fill="#f9cbb8"/>
<rect x="50.2" y="359.0" width="4.0" height="10.4" fill="#fcf0eb"/>
<rect x="50.2" y="351.9" width="4.0" height="7.2" fill="#fcf0eb"/>
<rect x="54.1" y="412.5" width="10.4" height="4.0" fill="#e5e1f2"/>
<rect x="54.1" y="402.2" width="10.4" height="10.4" fill="#fbe5db"/>
<rect x="54.1" y="389.3" width="10.4" height="13.0" fill="#fbe5db"/>
<rect x="54.1" y="384.1" width="10.4" height="5.3" fill="#fbe5db"/>
<rect x="54.1" y="373.2" width="10.4" height="11.1" fill="#fbe5db"/>
<rect x="54.1" y="369.3" width="10.4" height="4.0" fill="#fcf0eb"/>
<rect x="54.1" y="359.0" width="10.4" height="10.4" fill="#dd4734"/>
<rect x="54.1" y="351.9" width="10.4" height="7.2" fill="#fcf0eb"/>
<rect x="64.4" y="412.5" width="7.2" height="4.0" fill="#fcf0eb"/>
<rect x="64.4" y="402.2" width="7.2" height="10.4" fill="#fcf8f7"/>
<rect x="64.4" y="389.3" width="7.2" height="13.0" fill="#fcf8f7"/>
<rect x="64.4" y="384.1" width="7.2" height="5.3" fill="#fcf8f7"/>
<rect x="64.4" y="373.2" width="7.2" height="11.1" fill="#fcf8f7"/>
<rect x="64.4" y="369.3" width="7.2" height="4.0" fill="#fcf0eb"/>
<rect x="64.4" y="359.0" width="7.2" height="10.4" fill="#fcf0eb"/>
<rect x="64.4" y="351.9" width="7.2" height="7.2" fill="#fae0d4"/>
<rect x="10.9" y="363.5" width="39.3" height="3.9" fill="#f6b198"/>
<rect x="56.0" y="373.2" width="3.9" height="39.3" fill="#f6b198"/>
<rect x="8.5" y="351.9" width="1.47" height="64.5" fill="#fff" fill-opacity="0.07"/>
<rect x="7.0" y="413.5" width="64.5" height="1.47" fill="#fff" fill-opacity="0.07"/>
<rect x="9.9" y="351.9" width="1.47" height="64.5" fill="#fff" fill-opacity="0.50"/>
<rect x="7.0" y="412.0" width="64.5" height="1.47" fill="#fff" fill-opacity="0.50"/>
<rect x="14.3" y="351.9" width="1.47" height="64.5" fill="#fff" fill-opacity="0.20"/>
<rect x="7.0" y="407.6" width="64.5" height="1.47" fill="#fff" fill-opacity="0.20"/>
<rect x="15.8" y="351.9" width="1.47" height="64.5" fill="#fff" fill-opacity="0.17"/>
<rect x="7.0" y="406.1" width="64.5" height="1.47" fill="#fff" fill-opacity="0.17"/>
<rect x="17.3" y="351.9" width="1.47" height="64.5" fill="#fff" fill-opacity="0.13"/>
<rect x="7.0" y="404.7" width="64.5" height="1.47" fill="#fff" fill-opacity="0.13"/>
<rect x="18.7" y="351.9" width="1.47" height="64.5" fill="#fff" fill-opacity="0.13"/>
<rect x="7.0" y="403.2" width="64.5" height="1.47" fill="#fff" fill-opacity="0.13"/>
<rect x="20.2" y="351.9" width="1.47" height="64.5" fill="#fff" fill-opacity="0.10"/>
<rect x="7.0" y="401.7" width="64.5" height="1.47" fill="#fff" fill-opacity="0.10"/>
<rect x="21.7" y="351.9" width="1.47" height="64.5" fill="#fff" fill-opacity="0.50"/>
<rect x="7.0" y="400.3" width="64.5" height="1.47" fill="#fff" fill-opacity="0.50"/>
<rect x="23.1" y="351.9" width="1.47" height="64.5" fill="#fff" fill-opacity="0.15"/>
<rect x="7.0" y="398.8" width="64.5" height="1.47" fill="#fff" fill-opacity="0.15"/>
<rect x="24.6" y="351.9" width="1.47" height="64.5" fill="#fff" fill-opacity="0.47"/>
<rect x="7.0" y="397.3" width="64.5" height="1.47" fill="#fff" fill-opacity="0.47"/>
<rect x="26.1" y="351.9" width="1.47" height="64.5" fill="#fff" fill-opacity="0.17"/>
<rect x="7.0" y="395.9" width="64.5" height="1.47" fill="#fff" fill-opacity="0.17"/>
<rect x="27.5" y="351.9" width="1.47" height="64.5" fill="#fff" fill-opacity="0.14"/>
<rect x="7.0" y="394.4" width="64.5" height="1.47" fill="#fff" fill-opacity="0.14"/>
<rect x="29.0" y="351.9" width="1.47" height="64.5" fill="#fff" fill-opacity="0.14"/>
<rect x="7.0" y="392.9" width="64.5" height="1.47" fill="#fff" fill-opacity="0.14"/>
<rect x="30.5" y="351.9" width="1.47" height="64.5" fill="#fff" fill-opacity="0.08"/>
<rect x="7.0" y="391.5" width="64.5" height="1.47" fill="#fff" fill-opacity="0.08"/>
<rect x="31.9" y="351.9" width="1.47" height="64.5" fill="#fff" fill-opacity="0.09"/>
<rect x="7.0" y="390.0" width="64.5" height="1.47" fill="#fff" fill-opacity="0.09"/>
<rect x="33.4" y="351.9" width="1.47" height="64.5" fill="#fff" fill-opacity="0.52"/>
<rect x="7.0" y="388.5" width="64.5" height="1.47" fill="#fff" fill-opacity="0.52"/>
<rect x="36.3" y="351.9" width="1.47" height="64.5" fill="#fff" fill-opacity="0.19"/>
<rect x="7.0" y="385.6" width="64.5" height="1.47" fill="#fff" fill-opacity="0.19"/>
<rect x="37.8" y="351.9" width="1.47" height="64.5" fill="#fff" fill-opacity="0.13"/>
<rect x="7.0" y="384.1" width="64.5" height="1.47" fill="#fff" fill-opacity="0.13"/>
<rect x="39.2" y="351.9" width="1.47" height="64.5" fill="#fff" fill-opacity="0.10"/>
<rect x="7.0" y="382.7" width="64.5" height="1.47" fill="#fff" fill-opacity="0.10"/>
<rect x="40.7" y="351.9" width="1.47" height="64.5" fill="#fff" fill-opacity="0.07"/>
<rect x="7.0" y="381.2" width="64.5" height="1.47" fill="#fff" fill-opacity="0.07"/>
<rect x="42.2" y="351.9" width="1.47" height="64.5" fill="#fff" fill-opacity="0.12"/>
<rect x="7.0" y="379.8" width="64.5" height="1.47" fill="#fff" fill-opacity="0.12"/>
<rect x="43.6" y="351.9" width="1.47" height="64.5" fill="#fff" fill-opacity="0.14"/>
<rect x="7.0" y="378.3" width="64.5" height="1.47" fill="#fff" fill-opacity="0.14"/>
<rect x="45.1" y="351.9" width="1.47" height="64.5" fill="#fff" fill-opacity="0.17"/>
<rect x="7.0" y="376.8" width="64.5" height="1.47" fill="#fff" fill-opacity="0.17"/>
<rect x="46.6" y="351.9" width="1.47" height="64.5" fill="#fff" fill-opacity="0.13"/>
<rect x="7.0" y="375.4" width="64.5" height="1.47" fill="#fff" fill-opacity="0.13"/>
<rect x="48.0" y="351.9" width="1.47" height="64.5" fill="#fff" fill-opacity="0.17"/>
<rect x="7.0" y="373.9" width="64.5" height="1.47" fill="#fff" fill-opacity="0.17"/>
<rect x="49.5" y="351.9" width="1.47" height="64.5" fill="#fff" fill-opacity="0.18"/>
<rect x="7.0" y="372.4" width="64.5" height="1.47" fill="#fff" fill-opacity="0.18"/>
<rect x="51.0" y="351.9" width="1.47" height="64.5" fill="#fff" fill-opacity="0.14"/>
<rect x="7.0" y="371.0" width="64.5" height="1.47" fill="#fff" fill-opacity="0.14"/>
<rect x="52.4" y="351.9" width="1.47" height="64.5" fill="#fff" fill-opacity="0.17"/>
<rect x="7.0" y="369.5" width="64.5" height="1.47" fill="#fff" fill-opacity="0.17"/>
<rect x="53.9" y="351.9" width="1.47" height="64.5" fill="#fff" fill-opacity="0.47"/>
<rect x="7.0" y="368.0" width="64.5" height="1.47" fill="#fff" fill-opacity="0.47"/>
<rect x="55.4" y="351.9" width="1.47" height="64.5" fill="#fff" fill-opacity="0.17"/>
<rect x="7.0" y="366.6" width="64.5" height="1.47" fill="#fff" fill-opacity="0.17"/>
<rect x="58.3" y="351.9" width="1.47" height="64.5" fill="#fff" fill-opacity="0.08"/>
<rect x="7.0" y="363.6" width="64.5" height="1.47" fill="#fff" fill-opacity="0.08"/>
<rect x="61.2" y="351.9" width="1.47" height="64.5" fill="#fff" fill-opacity="0.52"/>
<rect x="7.0" y="360.7" width="64.5" height="1.47" fill="#fff" fill-opacity="0.52"/>
<rect x="62.7" y="351.9" width="1.47" height="64.5" fill="#fff" fill-opacity="0.50"/>
<rect x="7.0" y="359.2" width="64.5" height="1.47" fill="#fff" fill-opacity="0.50"/>
<rect x="64.2" y="351.9" width="1.47" height="64.5" fill="#fff" fill-opacity="0.14"/>
<rect x="7.0" y="357.8" width="64.5" height="1.47" fill="#fff" fill-opacity="0.14"/>
<rect x="65.6" y="351.9" width="1.47" height="64.5" fill="#fff" fill-opacity="0.18"/>
<rect x="7.0" y="356.3" width="64.5" height="1.47" fill="#fff" fill-opacity="0.18"/>
<rect x="67.1" y="351.9" width="1.47" height="64.5" fill="#fff" fill-opacity="0.10"/>
<rect x="7.0" y="354.8" width="64.5" height="1.47" fill="#fff" fill-opacity="0.10"/>
<rect x="68.6" y="351.9" width="1.47" height="64.5" fill="#fff" fill-opacity="0.47"/>
<rect x="7.0" y="353.4" width="64.5" height="1.47" fill="#fff" fill-opacity="0.47"/>
<rect x="70.0" y="351.9" width="1.47" height="64.5" fill="#fff" fill-opacity="0.49"/>
<rect x="7.0" y="351.9" width="64.5" height="1.47" fill="#fff" fill-opacity="0.49"/>
<rect x="68.3" y="351.9" width="3.2" height="3.2" fill="#e46a50"/>
<rect x="7.0" y="413.2" width="3.2" height="3.2" fill="#e46a50"/>
<line x1="7.0" y1="416.4" x2="71.5" y2="351.9" stroke="#7a6662" stroke-width="0.4"/>
<rect x="77.9" y="372.3" width="3.6" height="43.5" fill="url(#gR)"/>
<text transform="translate(77.6,395.6) rotate(-90) scale(0.958,1)" font-size="7.41" text-anchor="middle" fill="#1a1a1a">Pearson's <tspan font-style="italic">r</tspan></text>
<text transform="translate(86.0,406.7) rotate(-90) scale(0.958,1)" font-size="6.78" text-anchor="middle" fill="#1a1a1a">−0.5</text>
<text transform="translate(86.0,391.9) rotate(-90) scale(0.958,1)" font-size="6.78" text-anchor="middle" fill="#1a1a1a">0.0</text>
<text transform="translate(86.0,379.3) rotate(-90) scale(0.958,1)" font-size="6.78" text-anchor="middle" fill="#1a1a1a">0.5</text>
<rect x="88.0" y="412.1" width="4.0" height="4.0" fill="#fbe8e0"/>
<rect x="88.0" y="401.8" width="4.0" height="10.4" fill="#e5e1f2"/>
<rect x="88.0" y="388.9" width="4.0" height="13.0" fill="#e5e1f2"/>
<rect x="88.0" y="383.8" width="4.0" height="5.3" fill="#e5e1f2"/>
<rect x="88.0" y="372.8" width="4.0" height="11.1" fill="#e5e1f2"/>
<rect x="88.0" y="368.9" width="4.0" height="4.0" fill="#e5e1f2"/>
<rect x="88.0" y="358.6" width="4.0" height="10.4" fill="#e5e1f2"/>
<rect x="88.0" y="351.5" width="4.0" height="7.2" fill="#fcf0eb"/>
<rect x="91.9" y="412.1" width="10.4" height="4.0" fill="#e5e1f2"/>
<rect x="91.9" y="401.8" width="10.4" height="10.4" fill="#e65f47"/>
<rect x="91.9" y="388.9" width="10.4" height="13.0" fill="#e3543e"/>
<rect x="91.9" y="383.8" width="10.4" height="5.3" fill="#f18c70"/>
<rect x="91.9" y="372.8" width="10.4" height="11.1" fill="#e65f47"/>
<rect x="91.9" y="368.9" width="10.4" height="4.0" fill="#fbe5db"/>
<rect x="91.9" y="358.6" width="10.4" height="10.4" fill="#fbe8e0"/>
<rect x="91.9" y="351.5" width="10.4" height="7.2" fill="#fbeee9"/>
<rect x="102.2" y="412.1" width="13.0" height="4.0" fill="#e5e1f2"/>
<rect x="102.2" y="401.8" width="13.0" height="10.4" fill="#e3543e"/>
<rect x="102.2" y="388.9" width="13.0" height="13.0" fill="#d94232"/>
<rect x="102.2" y="383.8" width="13.0" height="5.3" fill="#f18c70"/>
<rect x="102.2" y="372.8" width="13.0" height="11.1" fill="#e3543e"/>
<rect x="102.2" y="368.9" width="13.0" height="4.0" fill="#fbe5db"/>
<rect x="102.2" y="358.6" width="13.0" height="10.4" fill="#fbe8e0"/>
<rect x="102.2" y="351.5" width="13.0" height="7.2" fill="#fbeee9"/>
<rect x="115.1" y="412.1" width="5.3" height="4.0" fill="#e5e1f2"/>
<rect x="115.1" y="401.8" width="5.3" height="10.4" fill="#f18c70"/>
<rect x="115.1" y="388.9" width="5.3" height="13.0" fill="#f18c70"/>
<rect x="115.1" y="383.8" width="5.3" height="5.3" fill="#ef8064"/>
<rect x="115.1" y="372.8" width="5.3" height="11.1" fill="#f18c70"/>
<rect x="115.1" y="368.9" width="5.3" height="4.0" fill="#fbe5db"/>
<rect x="115.1" y="358.6" width="5.3" height="10.4" fill="#fbe8e0"/>
<rect x="115.1" y="351.5" width="5.3" height="7.2" fill="#fbeee9"/>
<rect x="120.2" y="412.1" width="11.1" height="4.0" fill="#e5e1f2"/>
<rect x="120.2" y="401.8" width="11.1" height="10.4" fill="#e65f47"/>
<rect x="120.2" y="388.9" width="11.1" height="13.0" fill="#e3543e"/>
<rect x="120.2" y="383.8" width="11.1" height="5.3" fill="#f18c70"/>
<rect x="120.2" y="372.8" width="11.1" height="11.1" fill="#dd4734"/>
<rect x="120.2" y="368.9" width="11.1" height="4.0" fill="#fbe5db"/>
<rect x="120.2" y="358.6" width="11.1" height="10.4" fill="#fbe8e0"/>
<rect x="120.2" y="351.5" width="11.1" height="7.2" fill="#fbeee9"/>
<rect x="131.2" y="412.1" width="4.0" height="4.0" fill="#e5e1f2"/>
<rect x="131.2" y="401.8" width="4.0" height="10.4" fill="#fbe5db"/>
<rect x="131.2" y="388.9" width="4.0" height="13.0" fill="#fbe5db"/>
<rect x="131.2" y="383.8" width="4.0" height="5.3" fill="#fbe5db"/>
<rect x="131.2" y="372.8" width="4.0" height="11.1" fill="#fbe5db"/>
<rect x="131.2" y="368.9" width="4.0" height="4.0" fill="#f9cbb8"/>
<rect x="131.2" y="358.6" width="4.0" height="10.4" fill="#fcf0eb"/>
<rect x="131.2" y="351.5" width="4.0" height="7.2" fill="#fcf0eb"/>
<rect x="135.1" y="412.1" width="10.4" height="4.0" fill="#e5e1f2"/>
<rect x="135.1" y="401.8" width="10.4" height="10.4" fill="#fbe8e0"/>
<rect x="135.1" y="388.9" width="10.4" height="13.0" fill="#fbe8e0"/>
<rect x="135.1" y="383.8" width="10.4" height="5.3" fill="#fbe8e0"/>
<rect x="135.1" y="372.8" width="10.4" height="11.1" fill="#fbe8e0"/>
<rect x="135.1" y="368.9" width="10.4" height="4.0" fill="#fcf0eb"/>
<rect x="135.1" y="358.6" width="10.4" height="10.4" fill="#e04a36"/>
<rect x="135.1" y="351.5" width="10.4" height="7.2" fill="#fcf0eb"/>
<rect x="145.4" y="412.1" width="7.2" height="4.0" fill="#fcf0eb"/>
<rect x="145.4" y="401.8" width="7.2" height="10.4" fill="#fbeee9"/>
<rect x="145.4" y="388.9" width="7.2" height="13.0" fill="#fbeee9"/>
<rect x="145.4" y="383.8" width="7.2" height="5.3" fill="#fbeee9"/>
<rect x="145.4" y="372.8" width="7.2" height="11.1" fill="#fbeee9"/>
<rect x="145.4" y="368.9" width="7.2" height="4.0" fill="#fcf0eb"/>
<rect x="145.4" y="358.6" width="7.2" height="10.4" fill="#fcf0eb"/>
<rect x="145.4" y="351.5" width="7.2" height="7.2" fill="#fae0d4"/>
<rect x="91.9" y="363.1" width="39.3" height="3.9" fill="#ed7458"/>
<rect x="137.0" y="372.8" width="3.9" height="39.3" fill="#ed7458"/>
<rect x="89.5" y="351.5" width="1.47" height="64.5" fill="#fff" fill-opacity="0.08"/>
<rect x="88.0" y="413.1" width="64.5" height="1.47" fill="#fff" fill-opacity="0.08"/>
<rect x="92.4" y="351.5" width="1.47" height="64.5" fill="#fff" fill-opacity="0.18"/>
<rect x="88.0" y="410.1" width="64.5" height="1.47" fill="#fff" fill-opacity="0.18"/>
<rect x="93.9" y="351.5" width="1.47" height="64.5" fill="#fff" fill-opacity="0.15"/>
<rect x="88.0" y="408.7" width="64.5" height="1.47" fill="#fff" fill-opacity="0.15"/>
<rect x="95.3" y="351.5" width="1.47" height="64.5" fill="#fff" fill-opacity="0.11"/>
<rect x="88.0" y="407.2" width="64.5" height="1.47" fill="#fff" fill-opacity="0.11"/>
<rect x="99.7" y="351.5" width="1.47" height="64.5" fill="#fff" fill-opacity="0.17"/>
<rect x="88.0" y="402.8" width="64.5" height="1.47" fill="#fff" fill-opacity="0.17"/>
<rect x="101.2" y="351.5" width="1.47" height="64.5" fill="#fff" fill-opacity="0.16"/>
<rect x="88.0" y="401.3" width="64.5" height="1.47" fill="#fff" fill-opacity="0.16"/>
<rect x="104.1" y="351.5" width="1.47" height="64.5" fill="#fff" fill-opacity="0.15"/>
<rect x="88.0" y="398.4" width="64.5" height="1.47" fill="#fff" fill-opacity="0.15"/>
<rect x="105.6" y="351.5" width="1.47" height="64.5" fill="#fff" fill-opacity="0.52"/>
<rect x="88.0" y="396.9" width="64.5" height="1.47" fill="#fff" fill-opacity="0.52"/>
<rect x="107.1" y="351.5" width="1.47" height="64.5" fill="#fff" fill-opacity="0.12"/>
<rect x="88.0" y="395.5" width="64.5" height="1.47" fill="#fff" fill-opacity="0.12"/>
<rect x="108.5" y="351.5" width="1.47" height="64.5" fill="#fff" fill-opacity="0.10"/>
<rect x="88.0" y="394.0" width="64.5" height="1.47" fill="#fff" fill-opacity="0.10"/>
<rect x="110.0" y="351.5" width="1.47" height="64.5" fill="#fff" fill-opacity="0.48"/>
<rect x="88.0" y="392.5" width="64.5" height="1.47" fill="#fff" fill-opacity="0.48"/>
<rect x="111.5" y="351.5" width="1.47" height="64.5" fill="#fff" fill-opacity="0.19"/>
<rect x="88.0" y="391.1" width="64.5" height="1.47" fill="#fff" fill-opacity="0.19"/>
<rect x="112.9" y="351.5" width="1.47" height="64.5" fill="#fff" fill-opacity="0.11"/>
<rect x="88.0" y="389.6" width="64.5" height="1.47" fill="#fff" fill-opacity="0.11"/>
<rect x="114.4" y="351.5" width="1.47" height="64.5" fill="#fff" fill-opacity="0.18"/>
<rect x="88.0" y="388.1" width="64.5" height="1.47" fill="#fff" fill-opacity="0.18"/>
<rect x="115.9" y="351.5" width="1.47" height="64.5" fill="#fff" fill-opacity="0.18"/>
<rect x="88.0" y="386.7" width="64.5" height="1.47" fill="#fff" fill-opacity="0.18"/>
<rect x="117.3" y="351.5" width="1.47" height="64.5" fill="#fff" fill-opacity="0.10"/>
<rect x="88.0" y="385.2" width="64.5" height="1.47" fill="#fff" fill-opacity="0.10"/>
<rect x="118.8" y="351.5" width="1.47" height="64.5" fill="#fff" fill-opacity="0.12"/>
<rect x="88.0" y="383.8" width="64.5" height="1.47" fill="#fff" fill-opacity="0.12"/>
<rect x="121.7" y="351.5" width="1.47" height="64.5" fill="#fff" fill-opacity="0.51"/>
<rect x="88.0" y="380.8" width="64.5" height="1.47" fill="#fff" fill-opacity="0.51"/>
<rect x="126.1" y="351.5" width="1.47" height="64.5" fill="#fff" fill-opacity="0.09"/>
<rect x="88.0" y="376.4" width="64.5" height="1.47" fill="#fff" fill-opacity="0.09"/>
<rect x="127.6" y="351.5" width="1.47" height="64.5" fill="#fff" fill-opacity="0.20"/>
<rect x="88.0" y="375.0" width="64.5" height="1.47" fill="#fff" fill-opacity="0.20"/>
<rect x="129.0" y="351.5" width="1.47" height="64.5" fill="#fff" fill-opacity="0.08"/>
<rect x="88.0" y="373.5" width="64.5" height="1.47" fill="#fff" fill-opacity="0.08"/>
<rect x="130.5" y="351.5" width="1.47" height="64.5" fill="#fff" fill-opacity="0.13"/>
<rect x="88.0" y="372.0" width="64.5" height="1.47" fill="#fff" fill-opacity="0.13"/>
<rect x="132.0" y="351.5" width="1.47" height="64.5" fill="#fff" fill-opacity="0.07"/>
<rect x="88.0" y="370.6" width="64.5" height="1.47" fill="#fff" fill-opacity="0.07"/>
<rect x="133.4" y="351.5" width="1.47" height="64.5" fill="#fff" fill-opacity="0.06"/>
<rect x="88.0" y="369.1" width="64.5" height="1.47" fill="#fff" fill-opacity="0.06"/>
<rect x="134.9" y="351.5" width="1.47" height="64.5" fill="#fff" fill-opacity="0.18"/>
<rect x="88.0" y="367.6" width="64.5" height="1.47" fill="#fff" fill-opacity="0.18"/>
<rect x="137.8" y="351.5" width="1.47" height="64.5" fill="#fff" fill-opacity="0.15"/>
<rect x="88.0" y="364.7" width="64.5" height="1.47" fill="#fff" fill-opacity="0.15"/>
<rect x="143.7" y="351.5" width="1.47" height="64.5" fill="#fff" fill-opacity="0.18"/>
<rect x="88.0" y="358.8" width="64.5" height="1.47" fill="#fff" fill-opacity="0.18"/>
<rect x="145.2" y="351.5" width="1.47" height="64.5" fill="#fff" fill-opacity="0.15"/>
<rect x="88.0" y="357.4" width="64.5" height="1.47" fill="#fff" fill-opacity="0.15"/>
<rect x="148.1" y="351.5" width="1.47" height="64.5" fill="#fff" fill-opacity="0.19"/>
<rect x="88.0" y="354.4" width="64.5" height="1.47" fill="#fff" fill-opacity="0.19"/>
<rect x="149.6" y="351.5" width="1.47" height="64.5" fill="#fff" fill-opacity="0.08"/>
<rect x="88.0" y="353.0" width="64.5" height="1.47" fill="#fff" fill-opacity="0.08"/>
<rect x="151.0" y="351.5" width="1.47" height="64.5" fill="#fff" fill-opacity="0.12"/>
<rect x="88.0" y="351.5" width="64.5" height="1.47" fill="#fff" fill-opacity="0.12"/>
<rect x="149.3" y="351.5" width="3.2" height="3.2" fill="#e46a50"/>
<rect x="88.0" y="412.8" width="3.2" height="3.2" fill="#e46a50"/>
<line x1="88.0" y1="416.0" x2="152.5" y2="351.5" stroke="#7a6662" stroke-width="0.4"/>
<rect x="158.8" y="372.8" width="3.6" height="43.0" fill="url(#gR)"/>
<text transform="translate(158.5,395.8) rotate(-90) scale(0.958,1)" font-size="7.41" text-anchor="middle" fill="#1a1a1a">Pearson's <tspan font-style="italic">r</tspan></text>
<text transform="translate(167.0,411.9) rotate(-90) scale(0.958,1)" font-size="6.78" text-anchor="middle" fill="#1a1a1a">−1.0</text>
<text transform="translate(167.0,395.2) rotate(-90) scale(0.958,1)" font-size="6.78" text-anchor="middle" fill="#1a1a1a">0.0</text>
<text transform="translate(167.0,374.5) rotate(-90) scale(0.958,1)" font-size="6.78" text-anchor="middle" fill="#1a1a1a">1.0</text>
<rect x="169.3" y="412.1" width="4.0" height="4.0" fill="#fbe8e0"/>
<rect x="169.3" y="401.8" width="4.0" height="10.4" fill="#b8b6de"/>
<rect x="169.3" y="388.9" width="4.0" height="13.0" fill="#b8b6de"/>
<rect x="169.3" y="383.8" width="4.0" height="5.3" fill="#b8b6de"/>
<rect x="169.3" y="372.8" width="4.0" height="11.1" fill="#b8b6de"/>
<rect x="169.3" y="368.9" width="4.0" height="4.0" fill="#b8b6de"/>
<rect x="169.3" y="358.6" width="4.0" height="10.4" fill="#b8b6de"/>
<rect x="169.3" y="351.5" width="4.0" height="7.2" fill="#fcf0eb"/>
<rect x="173.2" y="412.1" width="10.4" height="4.0" fill="#b8b6de"/>
<rect x="173.2" y="401.8" width="10.4" height="10.4" fill="#f18c70"/>
<rect x="173.2" y="388.9" width="10.4" height="13.0" fill="#ed7458"/>
<rect x="173.2" y="383.8" width="10.4" height="5.3" fill="#fad8c8"/>
<rect x="173.2" y="372.8" width="10.4" height="11.1" fill="#ef8064"/>
<rect x="173.2" y="368.9" width="10.4" height="4.0" fill="#a09fd3"/>
<rect x="173.2" y="358.6" width="10.4" height="10.4" fill="#fcf0eb"/>
<rect x="173.2" y="351.5" width="10.4" height="7.2" fill="#eeeaf5"/>
<rect x="183.5" y="412.1" width="13.0" height="4.0" fill="#b8b6de"/>
<rect x="183.5" y="401.8" width="13.0" height="10.4" fill="#ed7458"/>
<rect x="183.5" y="388.9" width="13.0" height="13.0" fill="#d94232"/>
<rect x="183.5" y="383.8" width="13.0" height="5.3" fill="#fad8c8"/>
<rect x="183.5" y="372.8" width="13.0" height="11.1" fill="#ea6a50"/>
<rect x="183.5" y="368.9" width="13.0" height="4.0" fill="#a09fd3"/>
<rect x="183.5" y="358.6" width="13.0" height="10.4" fill="#fcf0eb"/>
<rect x="183.5" y="351.5" width="13.0" height="7.2" fill="#eeeaf5"/>
<rect x="196.4" y="412.1" width="5.3" height="4.0" fill="#b8b6de"/>
<rect x="196.4" y="401.8" width="5.3" height="10.4" fill="#fad8c8"/>
<rect x="196.4" y="388.9" width="5.3" height="13.0" fill="#fad8c8"/>
<rect x="196.4" y="383.8" width="5.3" height="5.3" fill="#f9cbb8"/>
<rect x="196.4" y="372.8" width="5.3" height="11.1" fill="#fad8c8"/>
<rect x="196.4" y="368.9" width="5.3" height="4.0" fill="#a09fd3"/>
<rect x="196.4" y="358.6" width="5.3" height="10.4" fill="#fcf0eb"/>
<rect x="196.4" y="351.5" width="5.3" height="7.2" fill="#eeeaf5"/>
<rect x="201.6" y="412.1" width="11.1" height="4.0" fill="#b8b6de"/>
<rect x="201.6" y="401.8" width="11.1" height="10.4" fill="#ef8064"/>
<rect x="201.6" y="388.9" width="11.1" height="13.0" fill="#ea6a50"/>
<rect x="201.6" y="383.8" width="11.1" height="5.3" fill="#fad8c8"/>
<rect x="201.6" y="372.8" width="11.1" height="11.1" fill="#d94232"/>
<rect x="201.6" y="368.9" width="11.1" height="4.0" fill="#a09fd3"/>
<rect x="201.6" y="358.6" width="11.1" height="10.4" fill="#fcf0eb"/>
<rect x="201.6" y="351.5" width="11.1" height="7.2" fill="#eeeaf5"/>
<rect x="212.5" y="412.1" width="4.0" height="4.0" fill="#b8b6de"/>
<rect x="212.5" y="401.8" width="4.0" height="10.4" fill="#a09fd3"/>
<rect x="212.5" y="388.9" width="4.0" height="13.0" fill="#a09fd3"/>
<rect x="212.5" y="383.8" width="4.0" height="5.3" fill="#a09fd3"/>
<rect x="212.5" y="372.8" width="4.0" height="11.1" fill="#a09fd3"/>
<rect x="212.5" y="368.9" width="4.0" height="4.0" fill="#f8bea8"/>
<rect x="212.5" y="358.6" width="4.0" height="10.4" fill="#fcf0eb"/>
<rect x="212.5" y="351.5" width="4.0" height="7.2" fill="#fcf0eb"/>
<rect x="216.4" y="412.1" width="10.4" height="4.0" fill="#b8b6de"/>
<rect x="216.4" y="401.8" width="10.4" height="10.4" fill="#fcf0eb"/>
<rect x="216.4" y="388.9" width="10.4" height="13.0" fill="#fcf0eb"/>
<rect x="216.4" y="383.8" width="10.4" height="5.3" fill="#fcf0eb"/>
<rect x="216.4" y="372.8" width="10.4" height="11.1" fill="#fcf0eb"/>
<rect x="216.4" y="368.9" width="10.4" height="4.0" fill="#fcf0eb"/>
<rect x="216.4" y="358.6" width="10.4" height="10.4" fill="#dd4734"/>
<rect x="216.4" y="351.5" width="10.4" height="7.2" fill="#fcf0eb"/>
<rect x="226.7" y="412.1" width="7.2" height="4.0" fill="#fcf0eb"/>
<rect x="226.7" y="401.8" width="7.2" height="10.4" fill="#eeeaf5"/>
<rect x="226.7" y="388.9" width="7.2" height="13.0" fill="#eeeaf5"/>
<rect x="226.7" y="383.8" width="7.2" height="5.3" fill="#eeeaf5"/>
<rect x="226.7" y="372.8" width="7.2" height="11.1" fill="#eeeaf5"/>
<rect x="226.7" y="368.9" width="7.2" height="4.0" fill="#fcf0eb"/>
<rect x="226.7" y="358.6" width="7.2" height="10.4" fill="#fcf0eb"/>
<rect x="226.7" y="351.5" width="7.2" height="7.2" fill="#f8bea8"/>
<rect x="173.2" y="363.1" width="39.3" height="3.9" fill="#f8bea8"/>
<rect x="218.3" y="372.8" width="3.9" height="39.3" fill="#f8bea8"/>
<rect x="169.3" y="351.5" width="1.47" height="64.5" fill="#fff" fill-opacity="0.12"/>
<rect x="169.3" y="414.5" width="64.5" height="1.47" fill="#fff" fill-opacity="0.12"/>
<rect x="170.8" y="351.5" width="1.47" height="64.5" fill="#fff" fill-opacity="0.16"/>
<rect x="169.3" y="413.1" width="64.5" height="1.47" fill="#fff" fill-opacity="0.16"/>
<rect x="172.2" y="351.5" width="1.47" height="64.5" fill="#fff" fill-opacity="0.15"/>
<rect x="169.3" y="411.6" width="64.5" height="1.47" fill="#fff" fill-opacity="0.15"/>
<rect x="175.2" y="351.5" width="1.47" height="64.5" fill="#fff" fill-opacity="0.19"/>
<rect x="169.3" y="408.7" width="64.5" height="1.47" fill="#fff" fill-opacity="0.19"/>
<rect x="176.6" y="351.5" width="1.47" height="64.5" fill="#fff" fill-opacity="0.52"/>
<rect x="169.3" y="407.2" width="64.5" height="1.47" fill="#fff" fill-opacity="0.52"/>
<rect x="178.1" y="351.5" width="1.47" height="64.5" fill="#fff" fill-opacity="0.48"/>
<rect x="169.3" y="405.7" width="64.5" height="1.47" fill="#fff" fill-opacity="0.48"/>
<rect x="179.6" y="351.5" width="1.47" height="64.5" fill="#fff" fill-opacity="0.11"/>
<rect x="169.3" y="404.3" width="64.5" height="1.47" fill="#fff" fill-opacity="0.11"/>
<rect x="181.0" y="351.5" width="1.47" height="64.5" fill="#fff" fill-opacity="0.44"/>
<rect x="169.3" y="402.8" width="64.5" height="1.47" fill="#fff" fill-opacity="0.44"/>
<rect x="184.0" y="351.5" width="1.47" height="64.5" fill="#fff" fill-opacity="0.51"/>
<rect x="169.3" y="399.9" width="64.5" height="1.47" fill="#fff" fill-opacity="0.51"/>
<rect x="185.4" y="351.5" width="1.47" height="64.5" fill="#fff" fill-opacity="0.51"/>
<rect x="169.3" y="398.4" width="64.5" height="1.47" fill="#fff" fill-opacity="0.51"/>
<rect x="186.9" y="351.5" width="1.47" height="64.5" fill="#fff" fill-opacity="0.50"/>
<rect x="169.3" y="396.9" width="64.5" height="1.47" fill="#fff" fill-opacity="0.50"/>
<rect x="189.8" y="351.5" width="1.47" height="64.5" fill="#fff" fill-opacity="0.46"/>
<rect x="169.3" y="394.0" width="64.5" height="1.47" fill="#fff" fill-opacity="0.46"/>
<rect x="191.3" y="351.5" width="1.47" height="64.5" fill="#fff" fill-opacity="0.20"/>
<rect x="169.3" y="392.5" width="64.5" height="1.47" fill="#fff" fill-opacity="0.20"/>
<rect x="194.2" y="351.5" width="1.47" height="64.5" fill="#fff" fill-opacity="0.11"/>
<rect x="169.3" y="389.6" width="64.5" height="1.47" fill="#fff" fill-opacity="0.11"/>
<rect x="197.2" y="351.5" width="1.47" height="64.5" fill="#fff" fill-opacity="0.14"/>
<rect x="169.3" y="386.7" width="64.5" height="1.47" fill="#fff" fill-opacity="0.14"/>
<rect x="198.6" y="351.5" width="1.47" height="64.5" fill="#fff" fill-opacity="0.18"/>
<rect x="169.3" y="385.2" width="64.5" height="1.47" fill="#fff" fill-opacity="0.18"/>
<rect x="200.1" y="351.5" width="1.47" height="64.5" fill="#fff" fill-opacity="0.47"/>
<rect x="169.3" y="383.8" width="64.5" height="1.47" fill="#fff" fill-opacity="0.47"/>
<rect x="201.6" y="351.5" width="1.47" height="64.5" fill="#fff" fill-opacity="0.45"/>
<rect x="169.3" y="382.3" width="64.5" height="1.47" fill="#fff" fill-opacity="0.45"/>
<rect x="205.9" y="351.5" width="1.47" height="64.5" fill="#fff" fill-opacity="0.07"/>
<rect x="169.3" y="377.9" width="64.5" height="1.47" fill="#fff" fill-opacity="0.07"/>
<rect x="207.4" y="351.5" width="1.47" height="64.5" fill="#fff" fill-opacity="0.16"/>
<rect x="169.3" y="376.4" width="64.5" height="1.47" fill="#fff" fill-opacity="0.16"/>
<rect x="210.3" y="351.5" width="1.47" height="64.5" fill="#fff" fill-opacity="0.50"/>
<rect x="169.3" y="373.5" width="64.5" height="1.47" fill="#fff" fill-opacity="0.50"/>
<rect x="211.8" y="351.5" width="1.47" height="64.5" fill="#fff" fill-opacity="0.53"/>
<rect x="169.3" y="372.0" width="64.5" height="1.47" fill="#fff" fill-opacity="0.53"/>
<rect x="213.3" y="351.5" width="1.47" height="64.5" fill="#fff" fill-opacity="0.15"/>
<rect x="169.3" y="370.6" width="64.5" height="1.47" fill="#fff" fill-opacity="0.15"/>
<rect x="216.2" y="351.5" width="1.47" height="64.5" fill="#fff" fill-opacity="0.07"/>
<rect x="169.3" y="367.6" width="64.5" height="1.47" fill="#fff" fill-opacity="0.07"/>
<rect x="217.7" y="351.5" width="1.47" height="64.5" fill="#fff" fill-opacity="0.44"/>
<rect x="169.3" y="366.2" width="64.5" height="1.47" fill="#fff" fill-opacity="0.44"/>
<rect x="222.1" y="351.5" width="1.47" height="64.5" fill="#fff" fill-opacity="0.19"/>
<rect x="169.3" y="361.8" width="64.5" height="1.47" fill="#fff" fill-opacity="0.19"/>
<rect x="223.5" y="351.5" width="1.47" height="64.5" fill="#fff" fill-opacity="0.07"/>
<rect x="169.3" y="360.3" width="64.5" height="1.47" fill="#fff" fill-opacity="0.07"/>
<rect x="225.0" y="351.5" width="1.47" height="64.5" fill="#fff" fill-opacity="0.10"/>
<rect x="169.3" y="358.8" width="64.5" height="1.47" fill="#fff" fill-opacity="0.10"/>
<rect x="227.9" y="351.5" width="1.47" height="64.5" fill="#fff" fill-opacity="0.16"/>
<rect x="169.3" y="355.9" width="64.5" height="1.47" fill="#fff" fill-opacity="0.16"/>
<rect x="232.3" y="351.5" width="1.47" height="64.5" fill="#fff" fill-opacity="0.12"/>
<rect x="169.3" y="351.5" width="64.5" height="1.47" fill="#fff" fill-opacity="0.12"/>
<rect x="230.6" y="351.5" width="3.2" height="3.2" fill="#e46a50"/>
<rect x="169.3" y="412.8" width="3.2" height="3.2" fill="#e46a50"/>
<rect x="211.8" y="352.0" width="1.47" height="27.7" fill="#7a7ac0" fill-opacity="0.33"/>
<rect x="205.6" y="372.0" width="27.7" height="1.47" fill="#7a7ac0" fill-opacity="0.33"/>
<line x1="169.3" y1="416.0" x2="233.8" y2="351.5" stroke="#7a6662" stroke-width="0.4"/>
<rect x="240.0" y="372.8" width="3.6" height="43.0" fill="url(#gR)"/>
<text transform="translate(239.7,395.8) rotate(-90) scale(0.958,1)" font-size="7.41" text-anchor="middle" fill="#1a1a1a">Pearson's <tspan font-style="italic">r</tspan></text>
<text transform="translate(249.0,411.9) rotate(-90) scale(0.958,1)" font-size="6.78" text-anchor="middle" fill="#1a1a1a">−1.0</text>
<text transform="translate(249.0,395.2) rotate(-90) scale(0.958,1)" font-size="6.78" text-anchor="middle" fill="#1a1a1a">0.0</text>
<text transform="translate(249.0,374.5) rotate(-90) scale(0.958,1)" font-size="6.78" text-anchor="middle" fill="#1a1a1a">1.0</text>
<rect x="9.0" y="499.0" width="4.0" height="4.0" fill="#fbe8e0"/>
<rect x="9.0" y="488.7" width="4.0" height="10.4" fill="#d1cee9"/>
<rect x="9.0" y="475.8" width="4.0" height="13.0" fill="#d1cee9"/>
<rect x="9.0" y="470.6" width="4.0" height="5.3" fill="#d1cee9"/>
<rect x="9.0" y="459.7" width="4.0" height="11.1" fill="#d1cee9"/>
<rect x="9.0" y="455.8" width="4.0" height="4.0" fill="#d1cee9"/>
<rect x="9.0" y="445.5" width="4.0" height="10.4" fill="#d1cee9"/>
<rect x="9.0" y="438.4" width="4.0" height="7.2" fill="#fcf0eb"/>
<rect x="12.9" y="499.0" width="10.4" height="4.0" fill="#d1cee9"/>
<rect x="12.9" y="488.7" width="10.4" height="10.4" fill="#ed7458"/>
<rect x="12.9" y="475.8" width="10.4" height="13.0" fill="#ea6a50"/>
<rect x="12.9" y="470.6" width="10.4" height="5.3" fill="#f18c70"/>
<rect x="12.9" y="459.7" width="10.4" height="11.1" fill="#ed7458"/>
<rect x="12.9" y="455.8" width="10.4" height="4.0" fill="#f8c3ae"/>
<rect x="12.9" y="445.5" width="10.4" height="10.4" fill="#fae0d4"/>
<rect x="12.9" y="438.4" width="10.4" height="7.2" fill="#f5f1f6"/>
<rect x="23.2" y="499.0" width="13.0" height="4.0" fill="#d1cee9"/>
<rect x="23.2" y="488.7" width="13.0" height="10.4" fill="#ea6a50"/>
<rect x="23.2" y="475.8" width="13.0" height="13.0" fill="#e3543e"/>
<rect x="23.2" y="470.6" width="13.0" height="5.3" fill="#f18c70"/>
<rect x="23.2" y="459.7" width="13.0" height="11.1" fill="#ea6a50"/>
<rect x="23.2" y="455.8" width="13.0" height="4.0" fill="#f8c3ae"/>
<rect x="23.2" y="445.5" width="13.0" height="10.4" fill="#fae0d4"/>
<rect x="23.2" y="438.4" width="13.0" height="7.2" fill="#f5f1f6"/>
<rect x="36.1" y="499.0" width="5.3" height="4.0" fill="#d1cee9"/>
<rect x="36.1" y="488.7" width="5.3" height="10.4" fill="#f18c70"/>
<rect x="36.1" y="475.8" width="5.3" height="13.0" fill="#f18c70"/>
<rect x="36.1" y="470.6" width="5.3" height="5.3" fill="#ef8064"/>
<rect x="36.1" y="459.7" width="5.3" height="11.1" fill="#f18c70"/>
<rect x="36.1" y="455.8" width="5.3" height="4.0" fill="#f8c3ae"/>
<rect x="36.1" y="445.5" width="5.3" height="10.4" fill="#fae0d4"/>
<rect x="36.1" y="438.4" width="5.3" height="7.2" fill="#f5f1f6"/>
<rect x="41.2" y="499.0" width="11.1" height="4.0" fill="#d1cee9"/>
<rect x="41.2" y="488.7" width="11.1" height="10.4" fill="#ed7458"/>
<rect x="41.2" y="475.8" width="11.1" height="13.0" fill="#ea6a50"/>
<rect x="41.2" y="470.6" width="11.1" height="5.3" fill="#f18c70"/>
<rect x="41.2" y="459.7" width="11.1" height="11.1" fill="#d94232"/>
<rect x="41.2" y="455.8" width="11.1" height="4.0" fill="#f8c3ae"/>
<rect x="41.2" y="445.5" width="11.1" height="10.4" fill="#fae0d4"/>
<rect x="41.2" y="438.4" width="11.1" height="7.2" fill="#f5f1f6"/>
<rect x="52.2" y="499.0" width="4.0" height="4.0" fill="#d1cee9"/>
<rect x="52.2" y="488.7" width="4.0" height="10.4" fill="#f8c3ae"/>
<rect x="52.2" y="475.8" width="4.0" height="13.0" fill="#f8c3ae"/>
<rect x="52.2" y="470.6" width="4.0" height="5.3" fill="#f8c3ae"/>
<rect x="52.2" y="459.7" width="4.0" height="11.1" fill="#f8c3ae"/>
<rect x="52.2" y="455.8" width="4.0" height="4.0" fill="#f9cbb8"/>
<rect x="52.2" y="445.5" width="4.0" height="10.4" fill="#fcf0eb"/>
<rect x="52.2" y="438.4" width="4.0" height="7.2" fill="#fcf0eb"/>
<rect x="56.1" y="499.0" width="10.4" height="4.0" fill="#d1cee9"/>
<rect x="56.1" y="488.7" width="10.4" height="10.4" fill="#fae0d4"/>
<rect x="56.1" y="475.8" width="10.4" height="13.0" fill="#fae0d4"/>
<rect x="56.1" y="470.6" width="10.4" height="5.3" fill="#fae0d4"/>
<rect x="56.1" y="459.7" width="10.4" height="11.1" fill="#fae0d4"/>
<rect x="56.1" y="455.8" width="10.4" height="4.0" fill="#fcf0eb"/>
<rect x="56.1" y="445.5" width="10.4" height="10.4" fill="#e04a36"/>
<rect x="56.1" y="438.4" width="10.4" height="7.2" fill="#fcf0eb"/>
<rect x="66.4" y="499.0" width="7.2" height="4.0" fill="#fcf0eb"/>
<rect x="66.4" y="488.7" width="7.2" height="10.4" fill="#f5f1f6"/>
<rect x="66.4" y="475.8" width="7.2" height="13.0" fill="#f5f1f6"/>
<rect x="66.4" y="470.6" width="7.2" height="5.3" fill="#f5f1f6"/>
<rect x="66.4" y="459.7" width="7.2" height="11.1" fill="#f5f1f6"/>
<rect x="66.4" y="455.8" width="7.2" height="4.0" fill="#fcf0eb"/>
<rect x="66.4" y="445.5" width="7.2" height="10.4" fill="#fcf0eb"/>
<rect x="66.4" y="438.4" width="7.2" height="7.2" fill="#fae0d4"/>
<rect x="12.9" y="450.0" width="39.3" height="3.9" fill="#f3987c"/>
<rect x="58.0" y="459.7" width="3.9" height="39.3" fill="#f3987c"/>
<rect x="9.0" y="438.4" width="1.47" height="64.5" fill="#fff" fill-opacity="0.16"/>
<rect x="9.0" y="501.4" width="64.5" height="1.47" fill="#fff" fill-opacity="0.16"/>
<rect x="10.5" y="438.4" width="1.47" height="64.5" fill="#fff" fill-opacity="0.10"/>
<rect x="9.0" y="500.0" width="64.5" height="1.47" fill="#fff" fill-opacity="0.10"/>
<rect x="13.4" y="438.4" width="1.47" height="64.5" fill="#fff" fill-opacity="0.09"/>
<rect x="9.0" y="497.0" width="64.5" height="1.47" fill="#fff" fill-opacity="0.09"/>
<rect x="14.9" y="438.4" width="1.47" height="64.5" fill="#fff" fill-opacity="0.07"/>
<rect x="9.0" y="495.6" width="64.5" height="1.47" fill="#fff" fill-opacity="0.07"/>
<rect x="17.8" y="438.4" width="1.47" height="64.5" fill="#fff" fill-opacity="0.15"/>
<rect x="9.0" y="492.6" width="64.5" height="1.47" fill="#fff" fill-opacity="0.15"/>
<rect x="19.3" y="438.4" width="1.47" height="64.5" fill="#fff" fill-opacity="0.11"/>
<rect x="9.0" y="491.2" width="64.5" height="1.47" fill="#fff" fill-opacity="0.11"/>
<rect x="22.2" y="438.4" width="1.47" height="64.5" fill="#fff" fill-opacity="0.16"/>
<rect x="9.0" y="488.2" width="64.5" height="1.47" fill="#fff" fill-opacity="0.16"/>
<rect x="23.7" y="438.4" width="1.47" height="64.5" fill="#fff" fill-opacity="0.16"/>
<rect x="9.0" y="486.8" width="64.5" height="1.47" fill="#fff" fill-opacity="0.16"/>
<rect x="25.1" y="438.4" width="1.47" height="64.5" fill="#fff" fill-opacity="0.17"/>
<rect x="9.0" y="485.3" width="64.5" height="1.47" fill="#fff" fill-opacity="0.17"/>
<rect x="28.1" y="438.4" width="1.47" height="64.5" fill="#fff" fill-opacity="0.16"/>
<rect x="9.0" y="482.4" width="64.5" height="1.47" fill="#fff" fill-opacity="0.16"/>
<rect x="29.5" y="438.4" width="1.47" height="64.5" fill="#fff" fill-opacity="0.37"/>
<rect x="9.0" y="480.9" width="64.5" height="1.47" fill="#fff" fill-opacity="0.37"/>
<rect x="31.0" y="438.4" width="1.47" height="64.5" fill="#fff" fill-opacity="0.13"/>
<rect x="9.0" y="479.4" width="64.5" height="1.47" fill="#fff" fill-opacity="0.13"/>
<rect x="32.5" y="438.4" width="1.47" height="64.5" fill="#fff" fill-opacity="0.19"/>
<rect x="9.0" y="478.0" width="64.5" height="1.47" fill="#fff" fill-opacity="0.19"/>
<rect x="35.4" y="438.4" width="1.47" height="64.5" fill="#fff" fill-opacity="0.07"/>
<rect x="9.0" y="475.0" width="64.5" height="1.47" fill="#fff" fill-opacity="0.07"/>
<rect x="36.9" y="438.4" width="1.47" height="64.5" fill="#fff" fill-opacity="0.18"/>
<rect x="9.0" y="473.6" width="64.5" height="1.47" fill="#fff" fill-opacity="0.18"/>
<rect x="38.3" y="438.4" width="1.47" height="64.5" fill="#fff" fill-opacity="0.13"/>
<rect x="9.0" y="472.1" width="64.5" height="1.47" fill="#fff" fill-opacity="0.13"/>
<rect x="39.8" y="438.4" width="1.47" height="64.5" fill="#fff" fill-opacity="0.16"/>
<rect x="9.0" y="470.6" width="64.5" height="1.47" fill="#fff" fill-opacity="0.16"/>
<rect x="42.7" y="438.4" width="1.47" height="64.5" fill="#fff" fill-opacity="0.12"/>
<rect x="9.0" y="467.7" width="64.5" height="1.47" fill="#fff" fill-opacity="0.12"/>
<rect x="44.2" y="438.4" width="1.47" height="64.5" fill="#fff" fill-opacity="0.42"/>
<rect x="9.0" y="466.3" width="64.5" height="1.47" fill="#fff" fill-opacity="0.42"/>
<rect x="45.6" y="438.4" width="1.47" height="64.5" fill="#fff" fill-opacity="0.18"/>
<rect x="9.0" y="464.8" width="64.5" height="1.47" fill="#fff" fill-opacity="0.18"/>
<rect x="48.6" y="438.4" width="1.47" height="64.5" fill="#fff" fill-opacity="0.39"/>
<rect x="9.0" y="461.9" width="64.5" height="1.47" fill="#fff" fill-opacity="0.39"/>
<rect x="50.0" y="438.4" width="1.47" height="64.5" fill="#fff" fill-opacity="0.41"/>
<rect x="9.0" y="460.4" width="64.5" height="1.47" fill="#fff" fill-opacity="0.41"/>
<rect x="53.0" y="438.4" width="1.47" height="64.5" fill="#fff" fill-opacity="0.44"/>
<rect x="9.0" y="457.5" width="64.5" height="1.47" fill="#fff" fill-opacity="0.44"/>
<rect x="54.4" y="438.4" width="1.47" height="64.5" fill="#fff" fill-opacity="0.45"/>
<rect x="9.0" y="456.0" width="64.5" height="1.47" fill="#fff" fill-opacity="0.45"/>
<rect x="55.9" y="438.4" width="1.47" height="64.5" fill="#fff" fill-opacity="0.07"/>
<rect x="9.0" y="454.5" width="64.5" height="1.47" fill="#fff" fill-opacity="0.07"/>
<rect x="57.4" y="438.4" width="1.47" height="64.5" fill="#fff" fill-opacity="0.12"/>
<rect x="9.0" y="453.1" width="64.5" height="1.47" fill="#fff" fill-opacity="0.12"/>
<rect x="58.8" y="438.4" width="1.47" height="64.5" fill="#fff" fill-opacity="0.08"/>
<rect x="9.0" y="451.6" width="64.5" height="1.47" fill="#fff" fill-opacity="0.08"/>
<rect x="63.2" y="438.4" width="1.47" height="64.5" fill="#fff" fill-opacity="0.15"/>
<rect x="9.0" y="447.2" width="64.5" height="1.47" fill="#fff" fill-opacity="0.15"/>
<rect x="64.7" y="438.4" width="1.47" height="64.5" fill="#fff" fill-opacity="0.20"/>
<rect x="9.0" y="445.7" width="64.5" height="1.47" fill="#fff" fill-opacity="0.20"/>
<rect x="66.2" y="438.4" width="1.47" height="64.5" fill="#fff" fill-opacity="0.20"/>
<rect x="9.0" y="444.3" width="64.5" height="1.47" fill="#fff" fill-opacity="0.20"/>
<rect x="67.6" y="438.4" width="1.47" height="64.5" fill="#fff" fill-opacity="0.13"/>
<rect x="9.0" y="442.8" width="64.5" height="1.47" fill="#fff" fill-opacity="0.13"/>
<rect x="69.1" y="438.4" width="1.47" height="64.5" fill="#fff" fill-opacity="0.09"/>
<rect x="9.0" y="441.3" width="64.5" height="1.47" fill="#fff" fill-opacity="0.09"/>
<rect x="70.6" y="438.4" width="1.47" height="64.5" fill="#fff" fill-opacity="0.16"/>
<rect x="9.0" y="439.9" width="64.5" height="1.47" fill="#fff" fill-opacity="0.16"/>
<rect x="72.0" y="438.4" width="1.47" height="64.5" fill="#fff" fill-opacity="0.09"/>
<rect x="9.0" y="438.4" width="64.5" height="1.47" fill="#fff" fill-opacity="0.09"/>
<rect x="70.3" y="438.4" width="3.2" height="3.2" fill="#e46a50"/>
<rect x="9.0" y="499.7" width="3.2" height="3.2" fill="#e46a50"/>
<line x1="9.0" y1="502.9" x2="73.5" y2="438.4" stroke="#7a6662" stroke-width="0.4"/>
<rect x="79.2" y="459.5" width="3.6" height="43.8" fill="url(#gR)"/>
<text transform="translate(78.9,482.9) rotate(-90) scale(0.958,1)" font-size="7.41" text-anchor="middle" fill="#1a1a1a">Pearson's <tspan font-style="italic">r</tspan></text>
<text transform="translate(87.4,499.4) rotate(-90) scale(0.958,1)" font-size="6.78" text-anchor="middle" fill="#1a1a1a">−1.0</text>
<text transform="translate(87.4,482.3) rotate(-90) scale(0.958,1)" font-size="6.78" text-anchor="middle" fill="#1a1a1a">0.0</text>
<text transform="translate(87.4,461.3) rotate(-90) scale(0.958,1)" font-size="6.78" text-anchor="middle" fill="#1a1a1a">1.0</text>
<rect x="90.5" y="499.4" width="4.0" height="4.0" fill="#fbe8e0"/>
<rect x="90.5" y="489.1" width="4.0" height="10.4" fill="#eae6f4"/>
<rect x="90.5" y="476.2" width="4.0" height="13.0" fill="#eae6f4"/>
<rect x="90.5" y="471.1" width="4.0" height="5.3" fill="#eae6f4"/>
<rect x="90.5" y="460.1" width="4.0" height="11.1" fill="#eae6f4"/>
<rect x="90.5" y="456.2" width="4.0" height="4.0" fill="#eae6f4"/>
<rect x="90.5" y="445.9" width="4.0" height="10.4" fill="#eae6f4"/>
<rect x="90.5" y="438.8" width="4.0" height="7.2" fill="#fcf0eb"/>
<rect x="94.4" y="499.4" width="10.4" height="4.0" fill="#eae6f4"/>
<rect x="94.4" y="489.1" width="10.4" height="10.4" fill="#f18c70"/>
<rect x="94.4" y="476.2" width="10.4" height="13.0" fill="#ef8064"/>
<rect x="94.4" y="471.1" width="10.4" height="5.3" fill="#fae0d4"/>
<rect x="94.4" y="460.1" width="10.4" height="11.1" fill="#f3987c"/>
<rect x="94.4" y="456.2" width="10.4" height="4.0" fill="#fae0d4"/>
<rect x="94.4" y="445.9" width="10.4" height="10.4" fill="#fae0d4"/>
<rect x="94.4" y="438.8" width="10.4" height="7.2" fill="#fcf0eb"/>
<rect x="104.7" y="499.4" width="13.0" height="4.0" fill="#eae6f4"/>
<rect x="104.7" y="489.1" width="13.0" height="10.4" fill="#ef8064"/>
<rect x="104.7" y="476.2" width="13.0" height="13.0" fill="#e55b44"/>
<rect x="104.7" y="471.1" width="13.0" height="5.3" fill="#fae0d4"/>
<rect x="104.7" y="460.1" width="13.0" height="11.1" fill="#f18c70"/>
<rect x="104.7" y="456.2" width="13.0" height="4.0" fill="#fae0d4"/>
<rect x="104.7" y="445.9" width="13.0" height="10.4" fill="#fae0d4"/>
<rect x="104.7" y="438.8" width="13.0" height="7.2" fill="#fcf0eb"/>
<rect x="117.6" y="499.4" width="5.3" height="4.0" fill="#eae6f4"/>
<rect x="117.6" y="489.1" width="5.3" height="10.4" fill="#fae0d4"/>
<rect x="117.6" y="476.2" width="5.3" height="13.0" fill="#fae0d4"/>
<rect x="117.6" y="471.1" width="5.3" height="5.3" fill="#fad8c8"/>
<rect x="117.6" y="460.1" width="5.3" height="11.1" fill="#fae0d4"/>
<rect x="117.6" y="456.2" width="5.3" height="4.0" fill="#fae0d4"/>
<rect x="117.6" y="445.9" width="5.3" height="10.4" fill="#fae0d4"/>
<rect x="117.6" y="438.8" width="5.3" height="7.2" fill="#fcf0eb"/>
<rect x="122.8" y="499.4" width="11.1" height="4.0" fill="#eae6f4"/>
<rect x="122.8" y="489.1" width="11.1" height="10.4" fill="#f3987c"/>
<rect x="122.8" y="476.2" width="11.1" height="13.0" fill="#f18c70"/>
<rect x="122.8" y="471.1" width="11.1" height="5.3" fill="#fae0d4"/>
<rect x="122.8" y="460.1" width="11.1" height="11.1" fill="#d94232"/>
<rect x="122.8" y="456.2" width="11.1" height="4.0" fill="#fae0d4"/>
<rect x="122.8" y="445.9" width="11.1" height="10.4" fill="#fae0d4"/>
<rect x="122.8" y="438.8" width="11.1" height="7.2" fill="#fcf0eb"/>
<rect x="133.7" y="499.4" width="4.0" height="4.0" fill="#eae6f4"/>
<rect x="133.7" y="489.1" width="4.0" height="10.4" fill="#fae0d4"/>
<rect x="133.7" y="476.2" width="4.0" height="13.0" fill="#fae0d4"/>
<rect x="133.7" y="471.1" width="4.0" height="5.3" fill="#fae0d4"/>
<rect x="133.7" y="460.1" width="4.0" height="11.1" fill="#fae0d4"/>
<rect x="133.7" y="456.2" width="4.0" height="4.0" fill="#f9cbb8"/>
<rect x="133.7" y="445.9" width="4.0" height="10.4" fill="#fcf0eb"/>
<rect x="133.7" y="438.8" width="4.0" height="7.2" fill="#fcf0eb"/>
<rect x="137.6" y="499.4" width="10.4" height="4.0" fill="#eae6f4"/>
<rect x="137.6" y="489.1" width="10.4" height="10.4" fill="#fae0d4"/>
<rect x="137.6" y="476.2" width="10.4" height="13.0" fill="#fae0d4"/>
<rect x="137.6" y="471.1" width="10.4" height="5.3" fill="#fae0d4"/>
<rect x="137.6" y="460.1" width="10.4" height="11.1" fill="#fae0d4"/>
<rect x="137.6" y="456.2" width="10.4" height="4.0" fill="#fcf0eb"/>
<rect x="137.6" y="445.9" width="10.4" height="10.4" fill="#e04a36"/>
<rect x="137.6" y="438.8" width="10.4" height="7.2" fill="#fcf0eb"/>
<rect x="147.9" y="499.4" width="7.2" height="4.0" fill="#fcf0eb"/>
<rect x="147.9" y="489.1" width="7.2" height="10.4" fill="#fcf0eb"/>
<rect x="147.9" y="476.2" width="7.2" height="13.0" fill="#fcf0eb"/>
<rect x="147.9" y="471.1" width="7.2" height="5.3" fill="#fcf0eb"/>
<rect x="147.9" y="460.1" width="7.2" height="11.1" fill="#fcf0eb"/>
<rect x="147.9" y="456.2" width="7.2" height="4.0" fill="#fcf0eb"/>
<rect x="147.9" y="445.9" width="7.2" height="10.4" fill="#fcf0eb"/>
<rect x="147.9" y="438.8" width="7.2" height="7.2" fill="#fae0d4"/>
<rect x="94.4" y="450.4" width="39.3" height="3.9" fill="#f8bea8"/>
<rect x="139.5" y="460.1" width="3.9" height="39.3" fill="#f8bea8"/>
<rect x="90.5" y="438.8" width="1.47" height="64.5" fill="#fff" fill-opacity="0.06"/>
<rect x="90.5" y="501.8" width="64.5" height="1.47" fill="#fff" fill-opacity="0.06"/>
<rect x="92.0" y="438.8" width="1.47" height="64.5" fill="#fff" fill-opacity="0.50"/>
<rect x="90.5" y="500.4" width="64.5" height="1.47" fill="#fff" fill-opacity="0.50"/>
<rect x="93.4" y="438.8" width="1.47" height="64.5" fill="#fff" fill-opacity="0.11"/>
<rect x="90.5" y="498.9" width="64.5" height="1.47" fill="#fff" fill-opacity="0.11"/>
<rect x="97.8" y="438.8" width="1.47" height="64.5" fill="#fff" fill-opacity="0.45"/>
<rect x="90.5" y="494.5" width="64.5" height="1.47" fill="#fff" fill-opacity="0.45"/>
<rect x="99.3" y="438.8" width="1.47" height="64.5" fill="#fff" fill-opacity="0.08"/>
<rect x="90.5" y="493.0" width="64.5" height="1.47" fill="#fff" fill-opacity="0.08"/>
<rect x="102.2" y="438.8" width="1.47" height="64.5" fill="#fff" fill-opacity="0.13"/>
<rect x="90.5" y="490.1" width="64.5" height="1.47" fill="#fff" fill-opacity="0.13"/>
<rect x="103.7" y="438.8" width="1.47" height="64.5" fill="#fff" fill-opacity="0.12"/>
<rect x="90.5" y="488.6" width="64.5" height="1.47" fill="#fff" fill-opacity="0.12"/>
<rect x="105.2" y="438.8" width="1.47" height="64.5" fill="#fff" fill-opacity="0.53"/>
<rect x="90.5" y="487.2" width="64.5" height="1.47" fill="#fff" fill-opacity="0.53"/>
<rect x="106.6" y="438.8" width="1.47" height="64.5" fill="#fff" fill-opacity="0.17"/>
<rect x="90.5" y="485.7" width="64.5" height="1.47" fill="#fff" fill-opacity="0.17"/>
<rect x="108.1" y="438.8" width="1.47" height="64.5" fill="#fff" fill-opacity="0.45"/>
<rect x="90.5" y="484.2" width="64.5" height="1.47" fill="#fff" fill-opacity="0.45"/>
<rect x="112.5" y="438.8" width="1.47" height="64.5" fill="#fff" fill-opacity="0.13"/>
<rect x="90.5" y="479.8" width="64.5" height="1.47" fill="#fff" fill-opacity="0.13"/>
<rect x="114.0" y="438.8" width="1.47" height="64.5" fill="#fff" fill-opacity="0.49"/>
<rect x="90.5" y="478.4" width="64.5" height="1.47" fill="#fff" fill-opacity="0.49"/>
<rect x="116.9" y="438.8" width="1.47" height="64.5" fill="#fff" fill-opacity="0.14"/>
<rect x="90.5" y="475.4" width="64.5" height="1.47" fill="#fff" fill-opacity="0.14"/>
<rect x="119.8" y="438.8" width="1.47" height="64.5" fill="#fff" fill-opacity="0.09"/>
<rect x="90.5" y="472.5" width="64.5" height="1.47" fill="#fff" fill-opacity="0.09"/>
<rect x="121.3" y="438.8" width="1.47" height="64.5" fill="#fff" fill-opacity="0.16"/>
<rect x="90.5" y="471.1" width="64.5" height="1.47" fill="#fff" fill-opacity="0.16"/>
<rect x="124.2" y="438.8" width="1.47" height="64.5" fill="#fff" fill-opacity="0.11"/>
<rect x="90.5" y="468.1" width="64.5" height="1.47" fill="#fff" fill-opacity="0.11"/>
<rect x="125.7" y="438.8" width="1.47" height="64.5" fill="#fff" fill-opacity="0.15"/>
<rect x="90.5" y="466.7" width="64.5" height="1.47" fill="#fff" fill-opacity="0.15"/>
<rect x="127.1" y="438.8" width="1.47" height="64.5" fill="#fff" fill-opacity="0.53"/>
<rect x="90.5" y="465.2" width="64.5" height="1.47" fill="#fff" fill-opacity="0.53"/>
<rect x="128.6" y="438.8" width="1.47" height="64.5" fill="#fff" fill-opacity="0.08"/>
<rect x="90.5" y="463.7" width="64.5" height="1.47" fill="#fff" fill-opacity="0.08"/>
<rect x="133.0" y="438.8" width="1.47" height="64.5" fill="#fff" fill-opacity="0.15"/>
<rect x="90.5" y="459.3" width="64.5" height="1.47" fill="#fff" fill-opacity="0.15"/>
<rect x="134.5" y="438.8" width="1.47" height="64.5" fill="#fff" fill-opacity="0.18"/>
<rect x="90.5" y="457.9" width="64.5" height="1.47" fill="#fff" fill-opacity="0.18"/>
<rect x="135.9" y="438.8" width="1.47" height="64.5" fill="#fff" fill-opacity="0.14"/>
<rect x="90.5" y="456.4" width="64.5" height="1.47" fill="#fff" fill-opacity="0.14"/>
<rect x="137.4" y="438.8" width="1.47" height="64.5" fill="#fff" fill-opacity="0.12"/>
<rect x="90.5" y="454.9" width="64.5" height="1.47" fill="#fff" fill-opacity="0.12"/>
<rect x="138.9" y="438.8" width="1.47" height="64.5" fill="#fff" fill-opacity="0.17"/>
<rect x="90.5" y="453.5" width="64.5" height="1.47" fill="#fff" fill-opacity="0.17"/>
<rect x="140.3" y="438.8" width="1.47" height="64.5" fill="#fff" fill-opacity="0.09"/>
<rect x="90.5" y="452.0" width="64.5" height="1.47" fill="#fff" fill-opacity="0.09"/>
<rect x="143.3" y="438.8" width="1.47" height="64.5" fill="#fff" fill-opacity="0.13"/>
<rect x="90.5" y="449.1" width="64.5" height="1.47" fill="#fff" fill-opacity="0.13"/>
<rect x="144.7" y="438.8" width="1.47" height="64.5" fill="#fff" fill-opacity="0.16"/>
<rect x="90.5" y="447.6" width="64.5" height="1.47" fill="#fff" fill-opacity="0.16"/>
<rect x="146.2" y="438.8" width="1.47" height="64.5" fill="#fff" fill-opacity="0.08"/>
<rect x="90.5" y="446.1" width="64.5" height="1.47" fill="#fff" fill-opacity="0.08"/>
<rect x="149.1" y="438.8" width="1.47" height="64.5" fill="#fff" fill-opacity="0.46"/>
<rect x="90.5" y="443.2" width="64.5" height="1.47" fill="#fff" fill-opacity="0.46"/>
<rect x="153.5" y="438.8" width="1.47" height="64.5" fill="#fff" fill-opacity="0.08"/>
<rect x="90.5" y="438.8" width="64.5" height="1.47" fill="#fff" fill-opacity="0.08"/>
<rect x="151.8" y="438.8" width="3.2" height="3.2" fill="#e46a50"/>
<rect x="90.5" y="500.1" width="3.2" height="3.2" fill="#e46a50"/>
<line x1="90.5" y1="503.3" x2="155.0" y2="438.8" stroke="#7a6662" stroke-width="0.4"/>
<rect x="160.1" y="459.3" width="3.6" height="43.7" fill="url(#gR)"/>
<text transform="translate(159.8,482.6) rotate(-90) scale(0.958,1)" font-size="7.41" text-anchor="middle" fill="#1a1a1a">Pearson's <tspan font-style="italic">r</tspan></text>
<text transform="translate(168.3,499.1) rotate(-90) scale(0.958,1)" font-size="6.78" text-anchor="middle" fill="#1a1a1a">−1.0</text>
<text transform="translate(168.3,482.0) rotate(-90) scale(0.958,1)" font-size="6.78" text-anchor="middle" fill="#1a1a1a">0.0</text>
<text transform="translate(168.3,461.0) rotate(-90) scale(0.958,1)" font-size="6.78" text-anchor="middle" fill="#1a1a1a">1.0</text>
<rect x="170.1" y="499.4" width="4.0" height="4.0" fill="#fbe8e0"/>
<rect x="170.1" y="489.1" width="4.0" height="10.4" fill="#fae0d4"/>
<rect x="170.1" y="476.2" width="4.0" height="13.0" fill="#fae0d4"/>
<rect x="170.1" y="471.1" width="4.0" height="5.3" fill="#fae0d4"/>
<rect x="170.1" y="460.1" width="4.0" height="11.1" fill="#fae0d4"/>
<rect x="170.1" y="456.2" width="4.0" height="4.0" fill="#fae0d4"/>
<rect x="170.1" y="445.9" width="4.0" height="10.4" fill="#fae0d4"/>
<rect x="170.1" y="438.8" width="4.0" height="7.2" fill="#fad8c8"/>
<rect x="174.0" y="499.4" width="10.4" height="4.0" fill="#fae0d4"/>
<rect x="174.0" y="489.1" width="10.4" height="10.4" fill="#f18c70"/>
<rect x="174.0" y="476.2" width="10.4" height="13.0" fill="#f18c70"/>
<rect x="174.0" y="471.1" width="10.4" height="5.3" fill="#f8c3ae"/>
<rect x="174.0" y="460.1" width="10.4" height="11.1" fill="#f3987c"/>
<rect x="174.0" y="456.2" width="10.4" height="4.0" fill="#f6b198"/>
<rect x="174.0" y="445.9" width="10.4" height="10.4" fill="#f6b198"/>
<rect x="174.0" y="438.8" width="10.4" height="7.2" fill="#fad8c8"/>
<rect x="184.3" y="499.4" width="13.0" height="4.0" fill="#fae0d4"/>
<rect x="184.3" y="489.1" width="13.0" height="10.4" fill="#f18c70"/>
<rect x="184.3" y="476.2" width="13.0" height="13.0" fill="#e04a36"/>
<rect x="184.3" y="471.1" width="13.0" height="5.3" fill="#f8c3ae"/>
<rect x="184.3" y="460.1" width="13.0" height="11.1" fill="#f18c70"/>
<rect x="184.3" y="456.2" width="13.0" height="4.0" fill="#f6b198"/>
<rect x="184.3" y="445.9" width="13.0" height="10.4" fill="#f6b198"/>
<rect x="184.3" y="438.8" width="13.0" height="7.2" fill="#fad8c8"/>
<rect x="197.2" y="499.4" width="5.3" height="4.0" fill="#fae0d4"/>
<rect x="197.2" y="489.1" width="5.3" height="10.4" fill="#f8c3ae"/>
<rect x="197.2" y="476.2" width="5.3" height="13.0" fill="#f8c3ae"/>
<rect x="197.2" y="471.1" width="5.3" height="5.3" fill="#f7b69e"/>
<rect x="197.2" y="460.1" width="5.3" height="11.1" fill="#f8c3ae"/>
<rect x="197.2" y="456.2" width="5.3" height="4.0" fill="#f6b198"/>
<rect x="197.2" y="445.9" width="5.3" height="10.4" fill="#f6b198"/>
<rect x="197.2" y="438.8" width="5.3" height="7.2" fill="#fad8c8"/>
<rect x="202.3" y="499.4" width="11.1" height="4.0" fill="#fae0d4"/>
<rect x="202.3" y="489.1" width="11.1" height="10.4" fill="#f3987c"/>
<rect x="202.3" y="476.2" width="11.1" height="13.0" fill="#f18c70"/>
<rect x="202.3" y="471.1" width="11.1" height="5.3" fill="#f8c3ae"/>
<rect x="202.3" y="460.1" width="11.1" height="11.1" fill="#e04a36"/>
<rect x="202.3" y="456.2" width="11.1" height="4.0" fill="#f6b198"/>
<rect x="202.3" y="445.9" width="11.1" height="10.4" fill="#f6b198"/>
<rect x="202.3" y="438.8" width="11.1" height="7.2" fill="#fad8c8"/>
<rect x="213.3" y="499.4" width="4.0" height="4.0" fill="#fae0d4"/>
<rect x="213.3" y="489.1" width="4.0" height="10.4" fill="#f6b198"/>
<rect x="213.3" y="476.2" width="4.0" height="13.0" fill="#f6b198"/>
<rect x="213.3" y="471.1" width="4.0" height="5.3" fill="#f6b198"/>
<rect x="213.3" y="460.1" width="4.0" height="11.1" fill="#f6b198"/>
<rect x="213.3" y="456.2" width="4.0" height="4.0" fill="#f6b198"/>
<rect x="213.3" y="445.9" width="4.0" height="10.4" fill="#fad8c8"/>
<rect x="213.3" y="438.8" width="4.0" height="7.2" fill="#fad8c8"/>
<rect x="217.2" y="499.4" width="10.4" height="4.0" fill="#fae0d4"/>
<rect x="217.2" y="489.1" width="10.4" height="10.4" fill="#f6b198"/>
<rect x="217.2" y="476.2" width="10.4" height="13.0" fill="#f6b198"/>
<rect x="217.2" y="471.1" width="10.4" height="5.3" fill="#f6b198"/>
<rect x="217.2" y="460.1" width="10.4" height="11.1" fill="#f6b198"/>
<rect x="217.2" y="456.2" width="10.4" height="4.0" fill="#fad8c8"/>
<rect x="217.2" y="445.9" width="10.4" height="10.4" fill="#e14e39"/>
<rect x="217.2" y="438.8" width="10.4" height="7.2" fill="#fad8c8"/>
<rect x="227.5" y="499.4" width="7.2" height="4.0" fill="#fad8c8"/>
<rect x="227.5" y="489.1" width="7.2" height="10.4" fill="#fad8c8"/>
<rect x="227.5" y="476.2" width="7.2" height="13.0" fill="#fad8c8"/>
<rect x="227.5" y="471.1" width="7.2" height="5.3" fill="#fad8c8"/>
<rect x="227.5" y="460.1" width="7.2" height="11.1" fill="#fad8c8"/>
<rect x="227.5" y="456.2" width="7.2" height="4.0" fill="#fad8c8"/>
<rect x="227.5" y="445.9" width="7.2" height="10.4" fill="#fad8c8"/>
<rect x="227.5" y="438.8" width="7.2" height="7.2" fill="#f8bea8"/>
<rect x="174.0" y="450.4" width="39.3" height="3.9" fill="#f18c70"/>
<rect x="219.1" y="460.1" width="3.9" height="39.3" fill="#f18c70"/>
<rect x="173.0" y="438.8" width="1.47" height="64.5" fill="#fff" fill-opacity="0.33"/>
<rect x="170.1" y="498.9" width="64.5" height="1.47" fill="#fff" fill-opacity="0.33"/>
<rect x="174.5" y="438.8" width="1.47" height="64.5" fill="#fff" fill-opacity="0.44"/>
<rect x="170.1" y="497.4" width="64.5" height="1.47" fill="#fff" fill-opacity="0.44"/>
<rect x="176.0" y="438.8" width="1.47" height="64.5" fill="#fff" fill-opacity="0.13"/>
<rect x="170.1" y="496.0" width="64.5" height="1.47" fill="#fff" fill-opacity="0.13"/>
<rect x="177.4" y="438.8" width="1.47" height="64.5" fill="#fff" fill-opacity="0.09"/>
<rect x="170.1" y="494.5" width="64.5" height="1.47" fill="#fff" fill-opacity="0.09"/>
<rect x="180.4" y="438.8" width="1.47" height="64.5" fill="#fff" fill-opacity="0.33"/>
<rect x="170.1" y="491.6" width="64.5" height="1.47" fill="#fff" fill-opacity="0.33"/>
<rect x="181.8" y="438.8" width="1.47" height="64.5" fill="#fff" fill-opacity="0.32"/>
<rect x="170.1" y="490.1" width="64.5" height="1.47" fill="#fff" fill-opacity="0.32"/>
<rect x="183.3" y="438.8" width="1.47" height="64.5" fill="#fff" fill-opacity="0.08"/>
<rect x="170.1" y="488.6" width="64.5" height="1.47" fill="#fff" fill-opacity="0.08"/>
<rect x="184.8" y="438.8" width="1.47" height="64.5" fill="#fff" fill-opacity="0.37"/>
<rect x="170.1" y="487.2" width="64.5" height="1.47" fill="#fff" fill-opacity="0.37"/>
<rect x="189.2" y="438.8" width="1.47" height="64.5" fill="#fff" fill-opacity="0.08"/>
<rect x="170.1" y="482.8" width="64.5" height="1.47" fill="#fff" fill-opacity="0.08"/>
<rect x="190.6" y="438.8" width="1.47" height="64.5" fill="#fff" fill-opacity="0.07"/>
<rect x="170.1" y="481.3" width="64.5" height="1.47" fill="#fff" fill-opacity="0.07"/>
<rect x="192.1" y="438.8" width="1.47" height="64.5" fill="#fff" fill-opacity="0.10"/>
<rect x="170.1" y="479.8" width="64.5" height="1.47" fill="#fff" fill-opacity="0.10"/>
<rect x="193.6" y="438.8" width="1.47" height="64.5" fill="#fff" fill-opacity="0.18"/>
<rect x="170.1" y="478.4" width="64.5" height="1.47" fill="#fff" fill-opacity="0.18"/>
<rect x="195.0" y="438.8" width="1.47" height="64.5" fill="#fff" fill-opacity="0.34"/>
<rect x="170.1" y="476.9" width="64.5" height="1.47" fill="#fff" fill-opacity="0.34"/>
<rect x="196.5" y="438.8" width="1.47" height="64.5" fill="#fff" fill-opacity="0.19"/>
<rect x="170.1" y="475.4" width="64.5" height="1.47" fill="#fff" fill-opacity="0.19"/>
<rect x="199.4" y="438.8" width="1.47" height="64.5" fill="#fff" fill-opacity="0.12"/>
<rect x="170.1" y="472.5" width="64.5" height="1.47" fill="#fff" fill-opacity="0.12"/>
<rect x="200.9" y="438.8" width="1.47" height="64.5" fill="#fff" fill-opacity="0.43"/>
<rect x="170.1" y="471.1" width="64.5" height="1.47" fill="#fff" fill-opacity="0.43"/>
<rect x="202.3" y="438.8" width="1.47" height="64.5" fill="#fff" fill-opacity="0.07"/>
<rect x="170.1" y="469.6" width="64.5" height="1.47" fill="#fff" fill-opacity="0.07"/>
<rect x="206.7" y="438.8" width="1.47" height="64.5" fill="#fff" fill-opacity="0.14"/>
<rect x="170.1" y="465.2" width="64.5" height="1.47" fill="#fff" fill-opacity="0.14"/>
<rect x="208.2" y="438.8" width="1.47" height="64.5" fill="#fff" fill-opacity="0.17"/>
<rect x="170.1" y="463.7" width="64.5" height="1.47" fill="#fff" fill-opacity="0.17"/>
<rect x="209.7" y="438.8" width="1.47" height="64.5" fill="#fff" fill-opacity="0.34"/>
<rect x="170.1" y="462.3" width="64.5" height="1.47" fill="#fff" fill-opacity="0.34"/>
<rect x="211.1" y="438.8" width="1.47" height="64.5" fill="#fff" fill-opacity="0.11"/>
<rect x="170.1" y="460.8" width="64.5" height="1.47" fill="#fff" fill-opacity="0.11"/>
<rect x="214.1" y="438.8" width="1.47" height="64.5" fill="#fff" fill-opacity="0.10"/>
<rect x="170.1" y="457.9" width="64.5" height="1.47" fill="#fff" fill-opacity="0.10"/>
<rect x="215.5" y="438.8" width="1.47" height="64.5" fill="#fff" fill-opacity="0.35"/>
<rect x="170.1" y="456.4" width="64.5" height="1.47" fill="#fff" fill-opacity="0.35"/>
<rect x="217.0" y="438.8" width="1.47" height="64.5" fill="#fff" fill-opacity="0.32"/>
<rect x="170.1" y="454.9" width="64.5" height="1.47" fill="#fff" fill-opacity="0.32"/>
<rect x="219.9" y="438.8" width="1.47" height="64.5" fill="#fff" fill-opacity="0.08"/>
<rect x="170.1" y="452.0" width="64.5" height="1.47" fill="#fff" fill-opacity="0.08"/>
<rect x="221.4" y="438.8" width="1.47" height="64.5" fill="#fff" fill-opacity="0.43"/>
<rect x="170.1" y="450.5" width="64.5" height="1.47" fill="#fff" fill-opacity="0.43"/>
<rect x="222.9" y="438.8" width="1.47" height="64.5" fill="#fff" fill-opacity="0.37"/>
<rect x="170.1" y="449.1" width="64.5" height="1.47" fill="#fff" fill-opacity="0.37"/>
<rect x="224.3" y="438.8" width="1.47" height="64.5" fill="#fff" fill-opacity="0.13"/>
<rect x="170.1" y="447.6" width="64.5" height="1.47" fill="#fff" fill-opacity="0.13"/>
<rect x="227.3" y="438.8" width="1.47" height="64.5" fill="#fff" fill-opacity="0.36"/>
<rect x="170.1" y="444.7" width="64.5" height="1.47" fill="#fff" fill-opacity="0.36"/>
<rect x="228.7" y="438.8" width="1.47" height="64.5" fill="#fff" fill-opacity="0.41"/>
<rect x="170.1" y="443.2" width="64.5" height="1.47" fill="#fff" fill-opacity="0.41"/>
<rect x="233.1" y="438.8" width="1.47" height="64.5" fill="#fff" fill-opacity="0.09"/>
<rect x="170.1" y="438.8" width="64.5" height="1.47" fill="#fff" fill-opacity="0.09"/>
<rect x="231.4" y="438.8" width="3.2" height="3.2" fill="#e46a50"/>
<rect x="170.1" y="500.1" width="3.2" height="3.2" fill="#e46a50"/>
<line x1="170.1" y1="503.3" x2="234.6" y2="438.8" stroke="#7a6662" stroke-width="0.4"/>
<rect x="241.0" y="459.3" width="3.6" height="43.7" fill="url(#gR)"/>
<text transform="translate(240.7,482.6) rotate(-90) scale(0.958,1)" font-size="7.41" text-anchor="middle" fill="#1a1a1a">Pearson's <tspan font-style="italic">r</tspan></text>
<text transform="translate(249.2,499.1) rotate(-90) scale(0.958,1)" font-size="6.78" text-anchor="middle" fill="#1a1a1a">−1.0</text>
<text transform="translate(249.2,482.0) rotate(-90) scale(0.958,1)" font-size="6.78" text-anchor="middle" fill="#1a1a1a">0.0</text>
<text transform="translate(249.2,461.0) rotate(-90) scale(0.958,1)" font-size="6.78" text-anchor="middle" fill="#1a1a1a">1.0</text>
</svg></body></html>
